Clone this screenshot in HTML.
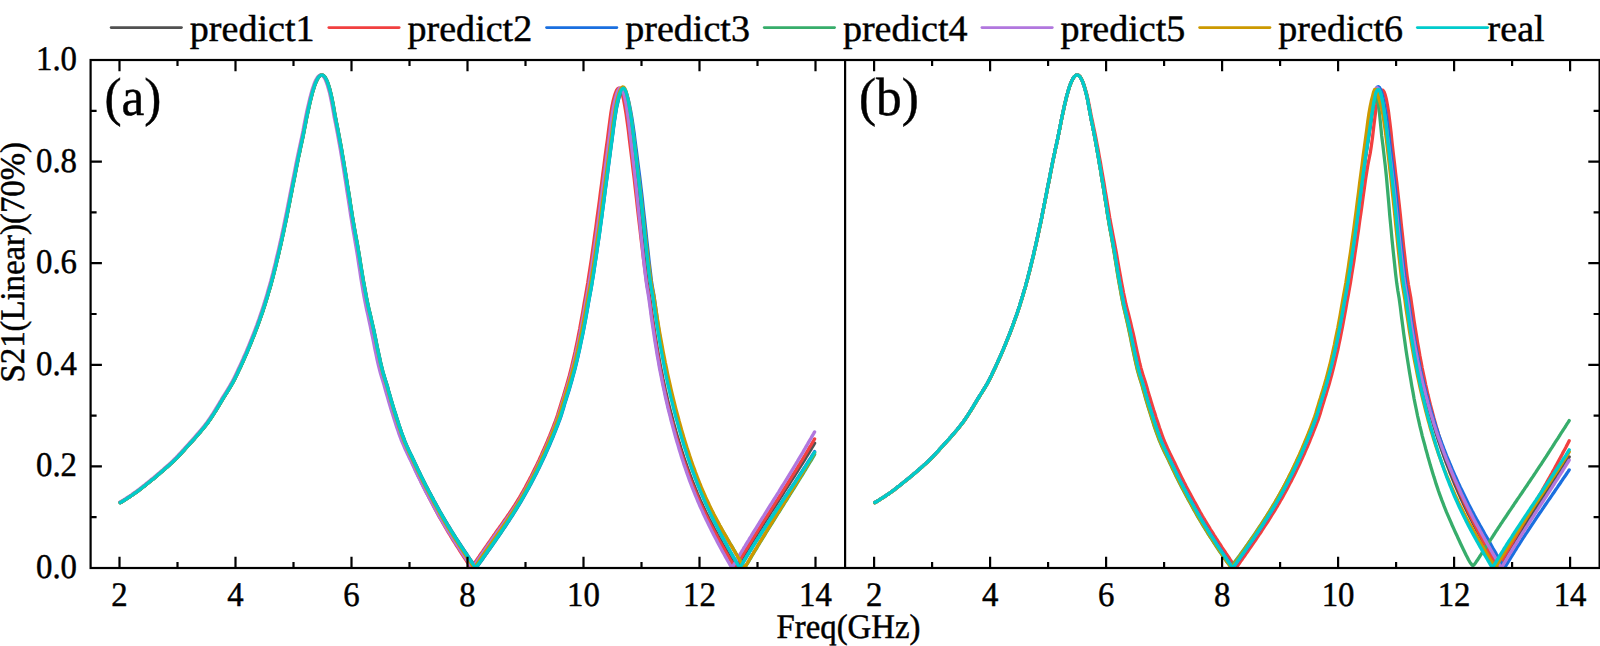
<!DOCTYPE html>
<html lang="en"><head><meta charset="utf-8"><title>S21 predictions</title>
<style>
html,body{margin:0;padding:0;background:#fff;}
body{width:1600px;height:646px;overflow:hidden;}
svg{display:block;}
text{font-family:"Liberation Serif",serif;fill:#000;stroke:#000;stroke-width:0.45px;text-rendering:geometricPrecision;}
.tk{font-size:32.8px;}
.lg{font-size:37.4px;}
.pl{font-size:51.3px;}
.ax{stroke:#000;stroke-width:2.20;fill:none;stroke-linecap:butt;}
.cv{fill:none;stroke-width:3.30;stroke-linejoin:round;stroke-linecap:round;}
</style></head><body>
<svg width="1600" height="646" viewBox="0 0 1600 646">
<rect x="0" y="0" width="1600" height="646" fill="#fff"/>
<defs><clipPath id="cp"><rect x="90.6" y="60.0" width="1509.0" height="508.0"/></clipPath></defs>
<g clip-path="url(#cp)">
<path class="cv" stroke="#515151" d="M120.2,502.6 L121.4,502.0 L122.5,501.3 L123.7,500.6 L124.8,499.8 L126.0,499.1 L127.1,498.4 L128.3,497.6 L129.5,496.8 L130.6,496.1 L131.8,495.3 L132.9,494.5 L134.1,493.7 L135.2,492.9 L136.4,492.1 L137.6,491.3 L138.7,490.4 L139.9,489.5 L141.0,488.6 L142.2,487.7 L143.3,486.8 L144.5,485.9 L145.7,484.9 L146.8,484.0 L148.0,483.1 L149.1,482.1 L150.3,481.2 L151.4,480.3 L152.6,479.4 L153.8,478.4 L154.9,477.5 L156.1,476.5 L157.2,475.5 L158.4,474.5 L159.5,473.5 L160.7,472.5 L161.9,471.5 L163.0,470.5 L164.2,469.5 L165.3,468.5 L166.5,467.5 L167.6,466.5 L168.8,465.5 L170.0,464.4 L171.1,463.4 L172.3,462.3 L173.4,461.2 L174.6,460.1 L175.8,458.9 L176.9,457.8 L178.1,456.6 L179.2,455.4 L180.4,454.1 L181.5,452.9 L182.7,451.6 L183.9,450.3 L185.0,449.0 L186.2,447.7 L187.3,446.4 L188.5,445.2 L189.6,443.9 L190.8,442.7 L192.0,441.4 L193.1,440.1 L194.3,438.8 L195.4,437.5 L196.6,436.2 L197.7,434.8 L198.9,433.5 L200.1,432.1 L201.2,430.8 L202.4,429.4 L203.5,428.0 L204.7,426.6 L205.8,425.1 L207.0,423.6 L208.2,422.0 L209.3,420.4 L210.5,418.7 L211.6,417.0 L212.8,415.2 L213.9,413.4 L215.1,411.6 L216.3,409.7 L217.4,407.8 L218.6,405.9 L219.7,404.0 L220.9,402.1 L222.0,400.1 L223.2,398.2 L224.4,396.3 L225.5,394.5 L226.7,392.6 L227.8,390.8 L229.0,388.9 L230.1,387.0 L231.3,385.0 L232.5,383.0 L233.6,380.9 L234.8,378.6 L235.9,376.3 L237.1,373.9 L238.2,371.5 L239.4,369.0 L240.6,366.5 L241.7,364.0 L242.9,361.4 L244.0,358.8 L245.2,356.2 L246.4,353.5 L247.5,350.8 L248.7,348.1 L249.8,345.3 L251.0,342.5 L252.1,339.6 L253.3,336.7 L254.5,333.8 L255.6,330.8 L256.8,327.7 L257.9,324.6 L259.1,321.4 L260.2,318.2 L261.4,314.8 L262.6,311.4 L263.7,307.9 L264.9,304.3 L266.0,300.6 L267.2,296.8 L268.3,292.9 L269.5,288.9 L270.7,284.8 L271.8,280.6 L273.0,276.2 L274.1,271.7 L275.3,267.1 L276.4,262.4 L277.6,257.5 L278.8,252.6 L279.9,247.6 L281.1,242.5 L282.2,237.3 L283.4,232.0 L284.5,226.5 L285.7,221.0 L286.9,215.2 L288.0,209.4 L289.2,203.6 L290.3,197.7 L291.5,191.8 L292.6,185.9 L293.8,180.1 L295.0,174.1 L296.1,168.2 L297.3,162.4 L298.4,156.8 L299.6,151.4 L300.7,146.0 L301.9,140.6 L303.1,135.0 L304.2,129.3 L305.4,123.3 L306.5,117.4 L307.7,111.8 L308.9,106.5 L310.0,101.4 L311.2,96.8 L312.3,92.5 L313.5,88.6 L314.6,85.1 L315.8,82.1 L317.0,79.6 L318.1,77.7 L319.3,76.3 L320.4,75.4 L321.6,75.0 L322.7,75.3 L323.9,76.1 L325.1,77.5 L326.2,79.7 L327.4,82.5 L328.5,85.9 L329.7,89.8 L330.8,94.3 L332.0,99.8 L333.2,106.0 L334.3,112.6 L335.5,118.8 L336.6,124.5 L337.8,130.4 L338.9,136.5 L340.1,142.8 L341.3,149.3 L342.4,155.9 L343.6,162.8 L344.7,169.7 L345.9,176.8 L347.0,184.0 L348.2,191.3 L349.4,198.6 L350.5,206.0 L351.7,213.5 L352.8,220.6 L354.0,227.2 L355.1,233.7 L356.3,240.1 L357.5,246.6 L358.6,253.3 L359.8,260.4 L360.9,267.6 L362.1,274.7 L363.2,281.5 L364.4,288.0 L365.6,294.3 L366.7,300.3 L367.9,305.9 L369.0,310.8 L370.2,315.5 L371.3,320.7 L372.5,325.8 L373.7,331.1 L374.8,336.5 L376.0,342.3 L377.1,348.0 L378.3,353.5 L379.5,358.8 L380.6,364.0 L381.8,368.8 L382.9,373.1 L384.1,377.0 L385.2,380.6 L386.4,384.4 L387.6,388.4 L388.7,392.6 L389.9,396.6 L391.0,400.6 L392.2,404.5 L393.3,408.3 L394.5,412.0 L395.7,415.6 L396.8,419.3 L398.0,422.9 L399.1,426.4 L400.3,429.9 L401.4,433.2 L402.6,436.4 L403.8,439.5 L404.9,442.4 L406.1,445.1 L407.2,447.7 L408.4,450.2 L409.5,452.7 L410.7,455.1 L411.9,457.4 L413.0,459.8 L414.2,462.3 L415.3,464.7 L416.5,467.2 L417.6,469.7 L418.8,472.1 L420.0,474.5 L421.1,476.9 L422.3,479.2 L423.4,481.5 L424.6,483.8 L425.7,486.1 L426.9,488.3 L428.1,490.5 L429.2,492.7 L430.4,494.9 L431.5,497.0 L432.7,499.2 L433.8,501.3 L435.0,503.5 L436.2,505.6 L437.3,507.7 L438.5,509.8 L439.6,511.9 L440.8,514.0 L442.0,516.0 L443.1,518.0 L444.3,520.0 L445.4,521.9 L446.6,523.9 L447.7,525.8 L448.9,527.7 L450.1,529.6 L451.2,531.5 L452.4,533.3 L453.5,535.2 L454.7,537.0 L455.8,538.8 L457.0,540.6 L458.2,542.4 L459.3,544.2 L460.5,546.0 L461.6,547.7 L462.8,549.5 L463.9,551.2 L465.1,553.0 L466.3,554.7 L467.4,556.4 L468.6,558.1 L469.7,559.8 L470.9,561.5 L472.0,563.2 L473.2,564.9 L474.4,566.5 L474.9,567.4 L475.5,567.8 L476.1,567.0 L476.7,566.2 L477.8,564.5 L479.0,562.9 L480.1,561.3 L481.3,559.6 L482.5,558.0 L483.6,556.4 L484.8,554.8 L485.9,553.1 L487.1,551.5 L488.2,549.9 L489.4,548.2 L490.6,546.6 L491.7,544.9 L492.9,543.3 L494.0,541.6 L495.2,539.9 L496.3,538.3 L497.5,536.6 L498.7,534.9 L499.8,533.2 L501.0,531.5 L502.1,529.8 L503.3,528.1 L504.4,526.3 L505.6,524.6 L506.8,522.8 L507.9,521.0 L509.1,519.2 L510.2,517.4 L511.4,515.6 L512.6,513.8 L513.7,512.0 L514.9,510.1 L516.0,508.2 L517.2,506.4 L518.3,504.4 L519.5,502.5 L520.7,500.5 L521.8,498.6 L523.0,496.5 L524.1,494.5 L525.3,492.5 L526.4,490.4 L527.6,488.3 L528.8,486.1 L529.9,484.0 L531.1,481.8 L532.2,479.6 L533.4,477.3 L534.5,475.0 L535.7,472.7 L536.9,470.4 L538.0,468.1 L539.2,465.7 L540.3,463.3 L541.5,460.8 L542.6,458.3 L543.8,455.8 L545.0,453.2 L546.1,450.7 L547.3,448.0 L548.4,445.4 L549.6,442.7 L550.7,439.9 L551.9,437.1 L553.1,434.3 L554.2,431.4 L555.4,428.5 L556.5,425.6 L557.7,422.6 L558.8,419.5 L560.0,416.1 L561.2,412.5 L562.3,408.6 L563.5,404.8 L564.6,401.0 L565.8,397.4 L566.9,393.8 L568.1,390.0 L569.3,386.1 L570.4,382.1 L571.6,378.0 L572.7,373.7 L573.9,369.3 L575.1,364.8 L576.2,360.0 L577.4,355.1 L578.5,349.9 L579.7,344.5 L580.8,339.0 L582.0,333.2 L583.2,327.3 L584.3,321.2 L585.5,314.8 L586.6,308.2 L587.8,301.6 L588.9,295.2 L590.1,288.8 L591.3,282.1 L592.4,274.8 L593.6,267.2 L594.7,259.5 L595.9,251.7 L597.0,243.6 L598.2,235.4 L599.4,227.0 L600.5,218.5 L601.7,209.7 L602.8,200.9 L604.0,191.9 L605.1,182.9 L606.3,173.9 L607.5,164.9 L608.6,156.0 L609.8,147.2 L610.9,138.4 L612.1,129.1 L613.2,120.1 L614.4,112.0 L615.6,105.5 L616.7,100.4 L617.9,96.1 L619.0,92.8 L620.2,90.7 L621.3,89.7 L622.5,90.1 L623.7,91.9 L624.8,95.2 L626.0,100.0 L627.1,106.1 L628.3,113.4 L629.4,121.8 L630.6,131.0 L631.8,141.1 L632.9,151.3 L634.1,161.4 L635.2,171.5 L636.4,181.8 L637.5,192.4 L638.7,203.6 L639.9,215.2 L641.0,226.6 L642.2,237.9 L643.3,249.0 L644.5,259.7 L645.7,270.1 L646.8,279.9 L648.0,287.5 L649.1,294.1 L650.3,301.6 L651.4,310.2 L652.6,318.4 L653.8,326.4 L654.9,333.9 L656.1,341.2 L657.2,348.2 L658.4,354.9 L659.5,361.3 L660.7,367.5 L661.9,373.4 L663.0,379.1 L664.2,384.6 L665.3,389.9 L666.5,395.0 L667.6,399.9 L668.8,404.7 L670.0,409.3 L671.1,413.8 L672.3,418.2 L673.4,422.5 L674.6,426.7 L675.7,430.8 L676.9,434.9 L678.1,438.8 L679.2,442.6 L680.4,446.4 L681.5,450.1 L682.7,453.7 L683.8,457.2 L685.0,460.7 L686.2,464.1 L687.3,467.4 L688.5,470.6 L689.6,473.8 L690.8,476.9 L691.9,479.9 L693.1,482.9 L694.3,485.8 L695.4,488.7 L696.6,491.5 L697.7,494.3 L698.9,497.0 L700.0,499.6 L701.2,502.3 L702.4,504.8 L703.5,507.3 L704.7,509.8 L705.8,512.2 L707.0,514.6 L708.2,517.0 L709.3,519.3 L710.5,521.6 L711.6,523.8 L712.8,526.1 L713.9,528.3 L715.1,530.5 L716.3,532.6 L717.4,534.8 L718.6,536.9 L719.7,539.0 L720.9,541.1 L722.0,543.2 L723.2,545.3 L724.4,547.3 L725.5,549.4 L726.7,551.4 L727.8,553.4 L729.0,555.5 L730.1,557.5 L731.3,559.5 L732.5,561.4 L733.6,563.4 L734.8,565.4 L735.9,567.4 L736.5,567.7 L737.1,566.7 L738.2,564.7 L739.4,562.8 L740.6,560.9 L741.7,558.9 L742.9,557.0 L744.0,555.1 L745.2,553.2 L746.3,551.3 L747.5,549.4 L748.7,547.5 L749.8,545.6 L751.0,543.8 L752.1,541.9 L753.3,540.0 L754.4,538.2 L755.6,536.3 L756.8,534.5 L757.9,532.7 L759.1,530.8 L760.2,529.0 L761.4,527.2 L762.5,525.4 L763.7,523.5 L764.9,521.7 L766.0,519.9 L767.2,518.1 L768.3,516.3 L769.5,514.5 L770.6,512.7 L771.8,510.9 L773.0,509.1 L774.1,507.4 L775.3,505.6 L776.4,503.8 L777.6,502.0 L778.8,500.2 L779.9,498.4 L781.1,496.6 L782.2,494.8 L783.4,493.0 L784.5,491.2 L785.7,489.4 L786.9,487.6 L788.0,485.9 L789.2,484.0 L790.3,482.2 L791.5,480.4 L792.6,478.6 L793.8,476.8 L795.0,475.0 L796.1,473.2 L797.3,471.3 L798.4,469.5 L799.6,467.7 L800.7,465.8 L801.9,464.0 L803.1,462.1 L804.2,460.3 L805.4,458.4 L806.5,456.5 L807.7,454.6 L808.8,452.8 L810.0,450.9 L811.2,449.0 L812.3,447.0 L813.5,445.1 L814.6,443.2"/>
<path class="cv" stroke="#F14040" d="M120.2,502.6 L121.4,502.0 L122.5,501.3 L123.7,500.6 L124.8,499.8 L126.0,499.1 L127.1,498.4 L128.3,497.6 L129.5,496.8 L130.6,496.1 L131.8,495.3 L132.9,494.5 L134.1,493.7 L135.2,492.9 L136.4,492.1 L137.6,491.3 L138.7,490.4 L139.9,489.5 L141.0,488.6 L142.2,487.7 L143.3,486.8 L144.5,485.9 L145.7,484.9 L146.8,484.0 L148.0,483.1 L149.1,482.1 L150.3,481.2 L151.4,480.3 L152.6,479.4 L153.8,478.4 L154.9,477.5 L156.1,476.5 L157.2,475.5 L158.4,474.5 L159.5,473.5 L160.7,472.5 L161.9,471.5 L163.0,470.5 L164.2,469.5 L165.3,468.5 L166.5,467.5 L167.6,466.5 L168.8,465.5 L170.0,464.4 L171.1,463.4 L172.3,462.3 L173.4,461.2 L174.6,460.1 L175.8,458.9 L176.9,457.8 L178.1,456.6 L179.2,455.4 L180.4,454.1 L181.5,452.9 L182.7,451.6 L183.9,450.3 L185.0,449.0 L186.2,447.7 L187.3,446.4 L188.5,445.2 L189.6,443.9 L190.8,442.6 L192.0,441.4 L193.1,440.1 L194.3,438.8 L195.4,437.5 L196.6,436.2 L197.7,434.8 L198.9,433.5 L200.1,432.1 L201.2,430.8 L202.4,429.4 L203.5,428.0 L204.7,426.5 L205.8,425.1 L207.0,423.6 L208.2,422.0 L209.3,420.4 L210.5,418.7 L211.6,417.0 L212.8,415.2 L213.9,413.4 L215.1,411.6 L216.3,409.7 L217.4,407.8 L218.6,405.9 L219.7,404.0 L220.9,402.0 L222.0,400.1 L223.2,398.2 L224.4,396.3 L225.5,394.4 L226.7,392.6 L227.8,390.7 L229.0,388.9 L230.1,386.9 L231.3,385.0 L232.5,382.9 L233.6,380.8 L234.8,378.6 L235.9,376.2 L237.1,373.8 L238.2,371.4 L239.4,368.9 L240.6,366.4 L241.7,363.9 L242.9,361.3 L244.0,358.7 L245.2,356.1 L246.4,353.4 L247.5,350.7 L248.7,348.0 L249.8,345.2 L251.0,342.4 L252.1,339.5 L253.3,336.6 L254.5,333.7 L255.6,330.7 L256.8,327.6 L257.9,324.5 L259.1,321.3 L260.2,318.0 L261.4,314.7 L262.6,311.3 L263.7,307.7 L264.9,304.1 L266.0,300.4 L267.2,296.6 L268.3,292.7 L269.5,288.7 L270.7,284.6 L271.8,280.4 L273.0,276.0 L274.1,271.5 L275.3,266.8 L276.4,262.1 L277.6,257.2 L278.8,252.3 L279.9,247.3 L281.1,242.2 L282.2,237.0 L283.4,231.6 L284.5,226.2 L285.7,220.6 L286.9,214.8 L288.0,209.0 L289.2,203.1 L290.3,197.3 L291.5,191.4 L292.6,185.5 L293.8,179.6 L295.0,173.7 L296.1,167.7 L297.3,161.9 L298.4,156.4 L299.6,150.9 L300.7,145.5 L301.9,140.1 L303.1,134.5 L304.2,128.7 L305.4,122.7 L306.5,116.9 L307.7,111.3 L308.9,106.0 L310.0,101.0 L311.2,96.3 L312.3,92.0 L313.5,88.2 L314.6,84.8 L315.8,81.8 L317.0,79.4 L318.1,77.5 L319.3,76.1 L320.4,75.3 L321.6,75.0 L322.7,75.3 L323.9,76.2 L325.1,77.8 L326.2,80.0 L327.4,82.9 L328.5,86.3 L329.7,90.4 L330.8,95.0 L332.0,100.6 L333.2,106.9 L334.3,113.5 L335.5,119.6 L336.6,125.3 L337.8,131.2 L338.9,137.4 L340.1,143.7 L341.3,150.3 L342.4,157.0 L343.6,163.9 L344.7,171.0 L345.9,178.2 L347.0,185.5 L348.2,192.9 L349.4,200.4 L350.5,208.0 L351.7,215.6 L352.8,222.7 L354.0,229.4 L355.1,236.0 L356.3,242.6 L357.5,249.3 L358.6,256.5 L359.8,263.9 L360.9,271.2 L362.1,278.4 L363.2,285.2 L364.4,291.8 L365.6,298.1 L366.7,304.1 L367.9,309.3 L369.0,314.2 L370.2,319.4 L371.3,324.7 L372.5,330.1 L373.7,335.6 L374.8,341.6 L376.0,347.4 L377.1,353.1 L378.3,358.6 L379.5,363.9 L380.6,368.9 L381.8,373.3 L382.9,377.2 L384.1,381.0 L385.2,384.9 L386.4,389.1 L387.6,393.4 L388.7,397.6 L389.9,401.7 L391.0,405.6 L392.2,409.5 L393.3,413.3 L394.5,417.1 L395.7,420.8 L396.8,424.5 L398.0,428.2 L399.1,431.7 L400.3,435.1 L401.4,438.3 L402.6,441.3 L403.8,444.2 L404.9,446.9 L406.1,449.6 L407.2,452.1 L408.4,454.6 L409.5,457.0 L410.7,459.5 L411.9,462.0 L413.0,464.6 L414.2,467.1 L415.3,469.7 L416.5,472.2 L417.6,474.7 L418.8,477.1 L420.0,479.5 L421.1,481.9 L422.3,484.3 L423.4,486.6 L424.6,488.9 L425.7,491.2 L426.9,493.5 L428.1,495.7 L429.2,497.9 L430.4,500.1 L431.5,502.3 L432.7,504.6 L433.8,506.8 L435.0,509.0 L436.2,511.1 L437.3,513.3 L438.5,515.4 L439.6,517.5 L440.8,519.5 L442.0,521.5 L443.1,523.5 L444.3,525.5 L445.4,527.5 L446.6,529.5 L447.7,531.4 L448.9,533.3 L450.1,535.2 L451.2,537.1 L452.4,539.0 L453.5,540.8 L454.7,542.7 L455.8,544.5 L457.0,546.3 L458.2,548.1 L459.3,550.0 L460.5,551.8 L461.6,553.5 L462.8,555.3 L463.9,557.1 L465.1,558.9 L466.3,560.6 L467.4,562.4 L468.6,564.1 L469.7,565.8 L470.9,567.5 L471.5,567.6 L472.0,566.8 L473.2,565.1 L474.4,563.4 L475.5,561.7 L476.7,560.0 L477.8,558.3 L479.0,556.7 L480.1,555.0 L481.3,553.3 L482.5,551.7 L483.6,550.0 L484.8,548.3 L485.9,546.7 L487.1,545.0 L488.2,543.3 L489.4,541.7 L490.6,540.0 L491.7,538.3 L492.9,536.7 L494.0,535.0 L495.2,533.4 L496.3,531.7 L497.5,530.1 L498.7,528.5 L499.8,526.8 L501.0,525.2 L502.1,523.6 L503.3,521.9 L504.4,520.3 L505.6,518.6 L506.8,516.9 L507.9,515.3 L509.1,513.6 L510.2,511.9 L511.4,510.2 L512.6,508.4 L513.7,506.7 L514.9,504.9 L516.0,503.1 L517.2,501.2 L518.3,499.3 L519.5,497.4 L520.7,495.4 L521.8,493.4 L523.0,491.4 L524.1,489.3 L525.3,487.2 L526.4,485.0 L527.6,482.8 L528.8,480.6 L529.9,478.4 L531.1,476.2 L532.2,473.9 L533.4,471.6 L534.5,469.3 L535.7,466.9 L536.9,464.5 L538.0,462.1 L539.2,459.6 L540.3,457.1 L541.5,454.6 L542.6,452.0 L543.8,449.4 L545.0,446.8 L546.1,444.1 L547.3,441.4 L548.4,438.6 L549.6,435.8 L550.7,433.0 L551.9,430.1 L553.1,427.1 L554.2,424.2 L555.4,421.1 L556.5,418.0 L557.7,414.5 L558.8,410.7 L560.0,406.9 L561.2,403.0 L562.3,399.4 L563.5,395.7 L564.6,392.0 L565.8,388.1 L566.9,384.1 L568.1,380.0 L569.3,375.7 L570.4,371.3 L571.6,366.7 L572.7,361.9 L573.9,356.9 L575.1,351.7 L576.2,346.3 L577.4,340.6 L578.5,334.8 L579.7,328.8 L580.8,322.5 L582.0,316.1 L583.2,309.3 L584.3,302.5 L585.5,296.0 L586.6,289.5 L587.8,282.6 L588.9,275.2 L590.1,267.5 L591.3,259.7 L592.4,251.7 L593.6,243.6 L594.7,235.3 L595.9,226.9 L597.0,218.3 L598.2,209.6 L599.4,200.7 L600.5,191.8 L601.7,182.9 L602.8,174.0 L604.0,165.1 L605.1,156.3 L606.3,147.6 L607.5,139.0 L608.6,129.9 L609.8,120.9 L610.9,112.7 L612.1,105.9 L613.2,100.6 L614.4,96.1 L615.6,92.6 L616.7,90.0 L617.9,88.5 L619.0,88.1 L620.2,89.1 L621.3,91.4 L622.5,95.2 L623.7,100.1 L624.8,106.2 L626.0,113.4 L627.1,121.4 L628.3,130.1 L629.4,139.5 L630.6,149.2 L631.8,158.7 L632.9,168.2 L634.1,177.8 L635.2,187.7 L636.4,198.0 L637.5,208.4 L638.7,218.7 L639.9,228.7 L641.0,238.6 L642.2,248.2 L643.3,257.6 L644.5,266.8 L645.7,275.9 L646.8,284.0 L648.0,290.5 L649.1,297.1 L650.3,305.3 L651.4,313.7 L652.6,321.9 L653.8,329.7 L654.9,337.4 L656.1,344.7 L657.2,351.8 L658.4,358.6 L659.5,365.1 L660.7,371.4 L661.9,377.4 L663.0,383.2 L664.2,388.8 L665.3,394.1 L666.5,399.3 L667.6,404.2 L668.8,409.0 L670.0,413.6 L671.1,418.0 L672.3,422.3 L673.4,426.6 L674.6,430.7 L675.7,434.8 L676.9,438.7 L678.1,442.6 L679.2,446.4 L680.4,450.1 L681.5,453.7 L682.7,457.3 L683.8,460.7 L685.0,464.1 L686.2,467.4 L687.3,470.7 L688.5,473.9 L689.6,477.0 L690.8,480.0 L691.9,483.0 L693.1,486.0 L694.3,488.8 L695.4,491.6 L696.6,494.4 L697.7,497.1 L698.9,499.8 L700.0,502.4 L701.2,505.0 L702.4,507.5 L703.5,509.9 L704.7,512.4 L705.8,514.8 L707.0,517.1 L708.2,519.4 L709.3,521.7 L710.5,524.0 L711.6,526.2 L712.8,528.4 L713.9,530.6 L715.1,532.7 L716.3,534.9 L717.4,537.0 L718.6,539.1 L719.7,541.2 L720.9,543.3 L722.0,545.3 L723.2,547.4 L724.4,549.4 L725.5,551.5 L726.7,553.5 L727.8,555.5 L729.0,557.5 L730.1,559.5 L731.3,561.5 L732.5,563.4 L733.6,565.4 L734.8,567.4 L735.3,567.7 L735.9,566.7 L737.1,564.7 L738.2,562.8 L739.4,560.8 L740.6,558.9 L741.7,556.9 L742.9,555.0 L744.0,553.1 L745.2,551.2 L746.3,549.3 L747.5,547.4 L748.7,545.5 L749.8,543.6 L751.0,541.7 L752.1,539.8 L753.3,537.9 L754.4,536.1 L755.6,534.2 L756.8,532.3 L757.9,530.5 L759.1,528.6 L760.2,526.8 L761.4,524.9 L762.5,523.1 L763.7,521.2 L764.9,519.4 L766.0,517.6 L767.2,515.7 L768.3,513.9 L769.5,512.1 L770.6,510.3 L771.8,508.4 L773.0,506.6 L774.1,504.8 L775.3,502.9 L776.4,501.1 L777.6,499.3 L778.8,497.5 L779.9,495.6 L781.1,493.8 L782.2,492.0 L783.4,490.1 L784.5,488.3 L785.7,486.5 L786.9,484.6 L788.0,482.8 L789.2,480.9 L790.3,479.1 L791.5,477.2 L792.6,475.4 L793.8,473.5 L795.0,471.6 L796.1,469.8 L797.3,467.9 L798.4,466.0 L799.6,464.1 L800.7,462.2 L801.9,460.3 L803.1,458.4 L804.2,456.5 L805.4,454.5 L806.5,452.6 L807.7,450.7 L808.8,448.7 L810.0,446.7 L811.2,444.8 L812.3,442.8 L813.5,440.8 L814.6,438.9"/>
<path class="cv" stroke="#1A6FDF" d="M120.2,502.6 L121.4,502.0 L122.5,501.3 L123.7,500.6 L124.8,499.8 L126.0,499.1 L127.1,498.4 L128.3,497.6 L129.5,496.8 L130.6,496.1 L131.8,495.3 L132.9,494.5 L134.1,493.7 L135.2,492.9 L136.4,492.1 L137.6,491.3 L138.7,490.4 L139.9,489.5 L141.0,488.6 L142.2,487.7 L143.3,486.8 L144.5,485.9 L145.7,484.9 L146.8,484.0 L148.0,483.1 L149.1,482.1 L150.3,481.2 L151.4,480.3 L152.6,479.4 L153.8,478.4 L154.9,477.5 L156.1,476.5 L157.2,475.5 L158.4,474.5 L159.5,473.5 L160.7,472.5 L161.9,471.5 L163.0,470.5 L164.2,469.5 L165.3,468.5 L166.5,467.5 L167.6,466.5 L168.8,465.5 L170.0,464.4 L171.1,463.4 L172.3,462.3 L173.4,461.2 L174.6,460.1 L175.8,459.0 L176.9,457.8 L178.1,456.6 L179.2,455.4 L180.4,454.2 L181.5,452.9 L182.7,451.6 L183.9,450.4 L185.0,449.1 L186.2,447.8 L187.3,446.5 L188.5,445.2 L189.6,443.9 L190.8,442.7 L192.0,441.4 L193.1,440.2 L194.3,438.9 L195.4,437.6 L196.6,436.2 L197.7,434.9 L198.9,433.5 L200.1,432.2 L201.2,430.8 L202.4,429.4 L203.5,428.0 L204.7,426.6 L205.8,425.1 L207.0,423.6 L208.2,422.1 L209.3,420.5 L210.5,418.8 L211.6,417.1 L212.8,415.3 L213.9,413.5 L215.1,411.7 L216.3,409.8 L217.4,407.9 L218.6,406.0 L219.7,404.1 L220.9,402.2 L222.0,400.2 L223.2,398.3 L224.4,396.4 L225.5,394.6 L226.7,392.7 L227.8,390.9 L229.0,389.0 L230.1,387.1 L231.3,385.1 L232.5,383.1 L233.6,381.0 L234.8,378.8 L235.9,376.4 L237.1,374.1 L238.2,371.6 L239.4,369.2 L240.6,366.7 L241.7,364.1 L242.9,361.6 L244.0,359.0 L245.2,356.4 L246.4,353.7 L247.5,351.0 L248.7,348.3 L249.8,345.5 L251.0,342.7 L252.1,339.8 L253.3,336.9 L254.5,334.0 L255.6,331.0 L256.8,328.0 L257.9,324.9 L259.1,321.7 L260.2,318.4 L261.4,315.1 L262.6,311.7 L263.7,308.2 L264.9,304.7 L266.0,301.0 L267.2,297.2 L268.3,293.3 L269.5,289.4 L270.7,285.3 L271.8,281.0 L273.0,276.7 L274.1,272.2 L275.3,267.6 L276.4,262.9 L277.6,258.1 L278.8,253.2 L279.9,248.2 L281.1,243.1 L282.2,237.9 L283.4,232.6 L284.5,227.2 L285.7,221.7 L286.9,216.0 L288.0,210.1 L289.2,204.3 L290.3,198.4 L291.5,192.6 L292.6,186.7 L293.8,180.8 L295.0,175.0 L296.1,169.0 L297.3,163.2 L298.4,157.6 L299.6,152.2 L300.7,146.8 L301.9,141.4 L303.1,135.9 L304.2,130.2 L305.4,124.2 L306.5,118.3 L307.7,112.7 L308.9,107.3 L310.0,102.2 L311.2,97.5 L312.3,93.1 L313.5,89.2 L314.6,85.7 L315.8,82.6 L317.0,80.0 L318.1,78.0 L319.3,76.5 L320.4,75.5 L321.6,75.1 L322.7,75.2 L323.9,75.9 L325.1,77.2 L326.2,79.2 L327.4,81.9 L328.5,85.1 L329.7,89.0 L330.8,93.4 L332.0,98.6 L333.2,104.7 L334.3,111.2 L335.5,117.6 L336.6,123.3 L337.8,129.1 L338.9,135.1 L340.1,141.4 L341.3,147.8 L342.4,154.5 L343.6,161.2 L344.7,168.2 L345.9,175.2 L347.0,182.3 L348.2,189.6 L349.4,196.9 L350.5,204.3 L351.7,211.7 L352.8,218.9 L354.0,225.6 L355.1,232.1 L356.3,238.5 L357.5,244.9 L358.6,251.6 L359.8,258.6 L360.9,265.8 L362.1,272.9 L363.2,279.7 L364.4,286.3 L365.6,292.6 L366.7,298.7 L367.9,304.4 L369.0,309.5 L370.2,314.2 L371.3,319.2 L372.5,324.4 L373.7,329.5 L374.8,334.9 L376.0,340.6 L377.1,346.3 L378.3,351.9 L379.5,357.3 L380.6,362.4 L381.8,367.4 L382.9,371.9 L384.1,375.8 L385.2,379.5 L386.4,383.2 L387.6,387.1 L388.7,391.2 L389.9,395.3 L391.0,399.3 L392.2,403.2 L393.3,407.1 L394.5,410.8 L395.7,414.4 L396.8,418.0 L398.0,421.7 L399.1,425.2 L400.3,428.7 L401.4,432.1 L402.6,435.3 L403.8,438.4 L404.9,441.4 L406.1,444.1 L407.2,446.8 L408.4,449.3 L409.5,451.8 L410.7,454.2 L411.9,456.5 L413.0,458.9 L414.2,461.3 L415.3,463.8 L416.5,466.2 L417.6,468.7 L418.8,471.1 L420.0,473.5 L421.1,475.9 L422.3,478.2 L423.4,480.5 L424.6,482.8 L425.7,485.1 L426.9,487.3 L428.1,489.5 L429.2,491.7 L430.4,493.8 L431.5,496.0 L432.7,498.1 L433.8,500.2 L435.0,502.3 L436.2,504.5 L437.3,506.6 L438.5,508.7 L439.6,510.8 L440.8,512.8 L442.0,514.8 L443.1,516.8 L444.3,518.8 L445.4,520.8 L446.6,522.7 L447.7,524.6 L448.9,526.5 L450.1,528.4 L451.2,530.3 L452.4,532.1 L453.5,534.0 L454.7,535.8 L455.8,537.6 L457.0,539.4 L458.2,541.2 L459.3,543.0 L460.5,544.7 L461.6,546.5 L462.8,548.2 L463.9,550.0 L465.1,551.7 L466.3,553.4 L467.4,555.2 L468.6,556.9 L469.7,558.6 L470.9,560.3 L472.0,562.0 L473.2,563.6 L474.4,565.3 L475.5,567.0 L476.1,567.8 L476.7,567.4 L477.8,565.8 L479.0,564.1 L480.1,562.5 L481.3,560.9 L482.5,559.3 L483.6,557.6 L484.8,556.0 L485.9,554.4 L487.1,552.7 L488.2,551.1 L489.4,549.5 L490.6,547.8 L491.7,546.2 L492.9,544.6 L494.0,542.9 L495.2,541.2 L496.3,539.6 L497.5,537.9 L498.7,536.2 L499.8,534.5 L501.0,532.8 L502.1,531.1 L503.3,529.4 L504.4,527.7 L505.6,526.0 L506.8,524.2 L507.9,522.4 L509.1,520.7 L510.2,518.9 L511.4,517.1 L512.6,515.3 L513.7,513.4 L514.9,511.6 L516.0,509.8 L517.2,507.9 L518.3,506.0 L519.5,504.1 L520.7,502.2 L521.8,500.2 L523.0,498.2 L524.1,496.2 L525.3,494.2 L526.4,492.1 L527.6,490.0 L528.8,487.9 L529.9,485.8 L531.1,483.6 L532.2,481.4 L533.4,479.2 L534.5,477.0 L535.7,474.7 L536.9,472.4 L538.0,470.1 L539.2,467.7 L540.3,465.3 L541.5,462.9 L542.6,460.5 L543.8,458.0 L545.0,455.5 L546.1,452.9 L547.3,450.3 L548.4,447.7 L549.6,445.1 L550.7,442.4 L551.9,439.6 L553.1,436.8 L554.2,434.0 L555.4,431.1 L556.5,428.2 L557.7,425.3 L558.8,422.3 L560.0,419.2 L561.2,415.8 L562.3,412.1 L563.5,408.2 L564.6,404.3 L565.8,400.6 L566.9,397.0 L568.1,393.3 L569.3,389.5 L570.4,385.6 L571.6,381.5 L572.7,377.4 L573.9,373.1 L575.1,368.6 L576.2,364.0 L577.4,359.2 L578.5,354.2 L579.7,349.0 L580.8,343.5 L582.0,337.9 L583.2,332.1 L584.3,326.2 L585.5,320.0 L586.6,313.6 L587.8,306.9 L588.9,300.4 L590.1,294.1 L591.3,287.7 L592.4,280.8 L593.6,273.5 L594.7,266.0 L595.9,258.3 L597.0,250.5 L598.2,242.5 L599.4,234.4 L600.5,226.1 L601.7,217.7 L602.8,209.1 L604.0,200.4 L605.1,191.6 L606.3,182.8 L607.5,174.0 L608.6,165.3 L609.8,156.6 L610.9,148.1 L612.1,139.6 L613.2,130.7 L614.4,121.9 L615.6,114.0 L616.7,107.3 L617.9,102.1 L619.0,97.7 L620.2,94.2 L621.3,91.7 L622.5,90.1 L623.7,89.7 L624.8,90.4 L626.0,92.4 L627.1,95.5 L628.3,99.6 L629.4,104.6 L630.6,110.5 L631.8,117.2 L632.9,124.6 L634.1,132.8 L635.2,141.6 L636.4,150.8 L637.5,159.8 L638.7,168.9 L639.9,178.1 L641.0,187.6 L642.2,197.6 L643.3,208.1 L644.5,218.8 L645.7,229.5 L646.8,240.2 L648.0,250.8 L649.1,261.1 L650.3,271.2 L651.4,280.7 L652.6,288.0 L653.8,294.5 L654.9,302.1 L656.1,310.7 L657.2,319.0 L658.4,327.0 L659.5,334.6 L660.7,342.0 L661.9,349.0 L663.0,355.8 L664.2,362.3 L665.3,368.5 L666.5,374.5 L667.6,380.2 L668.8,385.6 L670.0,390.9 L671.1,396.0 L672.3,400.9 L673.4,405.6 L674.6,410.2 L675.7,414.7 L676.9,419.1 L678.1,423.4 L679.2,427.7 L680.4,431.8 L681.5,435.8 L682.7,439.8 L683.8,443.6 L685.0,447.4 L686.2,451.1 L687.3,454.7 L688.5,458.2 L689.6,461.7 L690.8,465.1 L691.9,468.4 L693.1,471.6 L694.3,474.8 L695.4,477.9 L696.6,480.9 L697.7,483.9 L698.9,486.9 L700.0,489.7 L701.2,492.6 L702.4,495.3 L703.5,498.0 L704.7,500.7 L705.8,503.3 L707.0,505.9 L708.2,508.4 L709.3,510.9 L710.5,513.4 L711.6,515.8 L712.8,518.2 L713.9,520.5 L715.1,522.9 L716.3,525.2 L717.4,527.4 L718.6,529.7 L719.7,531.9 L720.9,534.1 L722.0,536.3 L723.2,538.5 L724.4,540.7 L725.5,542.8 L726.7,544.9 L727.8,547.0 L729.0,549.1 L730.1,551.2 L731.3,553.3 L732.5,555.3 L733.6,557.4 L734.8,559.4 L735.9,561.4 L737.1,563.4 L738.2,565.4 L739.4,567.3 L740.0,567.7 L740.6,566.7 L741.7,564.8 L742.9,562.8 L744.0,560.9 L745.2,559.0 L746.3,557.1 L747.5,555.2 L748.7,553.3 L749.8,551.4 L751.0,549.5 L752.1,547.7 L753.3,545.8 L754.4,544.0 L755.6,542.1 L756.8,540.3 L757.9,538.5 L759.1,536.7 L760.2,534.8 L761.4,533.0 L762.5,531.2 L763.7,529.4 L764.9,527.7 L766.0,525.9 L767.2,524.1 L768.3,522.3 L769.5,520.6 L770.6,518.8 L771.8,517.0 L773.0,515.3 L774.1,513.5 L775.3,511.8 L776.4,510.0 L777.6,508.3 L778.8,506.5 L779.9,504.8 L781.1,503.0 L782.2,501.3 L783.4,499.5 L784.5,497.8 L785.7,496.0 L786.9,494.3 L788.0,492.5 L789.2,490.8 L790.3,489.1 L791.5,487.3 L792.6,485.6 L793.8,483.8 L795.0,482.1 L796.1,480.3 L797.3,478.5 L798.4,476.8 L799.6,475.0 L800.7,473.2 L801.9,471.5 L803.1,469.7 L804.2,467.9 L805.4,466.1 L806.5,464.3 L807.7,462.5 L808.8,460.7 L810.0,458.9 L811.2,457.1 L812.3,455.2 L813.5,453.4 L814.6,451.6"/>
<path class="cv" stroke="#37AD6B" d="M120.2,502.8 L121.4,502.1 L122.5,501.4 L123.7,500.7 L124.8,500.0 L126.0,499.3 L127.1,498.5 L128.3,497.8 L129.5,497.0 L130.6,496.2 L131.8,495.4 L132.9,494.7 L134.1,493.9 L135.2,493.1 L136.4,492.3 L137.6,491.4 L138.7,490.6 L139.9,489.7 L141.0,488.8 L142.2,487.9 L143.3,487.0 L144.5,486.1 L145.7,485.1 L146.8,484.2 L148.0,483.3 L149.1,482.3 L150.3,481.4 L151.4,480.5 L152.6,479.5 L153.8,478.6 L154.9,477.7 L156.1,476.7 L157.2,475.7 L158.4,474.7 L159.5,473.7 L160.7,472.7 L161.9,471.7 L163.0,470.7 L164.2,469.7 L165.3,468.7 L166.5,467.7 L167.6,466.7 L168.8,465.7 L170.0,464.6 L171.1,463.6 L172.3,462.5 L173.4,461.5 L174.6,460.3 L175.8,459.2 L176.9,458.0 L178.1,456.8 L179.2,455.6 L180.4,454.4 L181.5,453.2 L182.7,451.9 L183.9,450.6 L185.0,449.3 L186.2,448.0 L187.3,446.7 L188.5,445.4 L189.6,444.2 L190.8,442.9 L192.0,441.7 L193.1,440.4 L194.3,439.1 L195.4,437.8 L196.6,436.5 L197.7,435.1 L198.9,433.8 L200.1,432.4 L201.2,431.1 L202.4,429.7 L203.5,428.3 L204.7,426.9 L205.8,425.4 L207.0,423.9 L208.2,422.4 L209.3,420.8 L210.5,419.1 L211.6,417.4 L212.8,415.6 L213.9,413.8 L215.1,412.0 L216.3,410.1 L217.4,408.3 L218.6,406.4 L219.7,404.4 L220.9,402.5 L222.0,400.5 L223.2,398.6 L224.4,396.7 L225.5,394.9 L226.7,393.0 L227.8,391.2 L229.0,389.3 L230.1,387.4 L231.3,385.5 L232.5,383.5 L233.6,381.4 L234.8,379.2 L235.9,376.8 L237.1,374.5 L238.2,372.0 L239.4,369.6 L240.6,367.1 L241.7,364.6 L242.9,362.0 L244.0,359.4 L245.2,356.8 L246.4,354.1 L247.5,351.4 L248.7,348.7 L249.8,345.9 L251.0,343.1 L252.1,340.3 L253.3,337.4 L254.5,334.5 L255.6,331.5 L256.8,328.5 L257.9,325.4 L259.1,322.2 L260.2,319.0 L261.4,315.6 L262.6,312.3 L263.7,308.8 L264.9,305.2 L266.0,301.5 L267.2,297.8 L268.3,293.9 L269.5,289.9 L270.7,285.9 L271.8,281.7 L273.0,277.3 L274.1,272.9 L275.3,268.3 L276.4,263.6 L277.6,258.7 L278.8,253.9 L279.9,248.9 L281.1,243.8 L282.2,238.6 L283.4,233.4 L284.5,228.0 L285.7,222.4 L286.9,216.7 L288.0,210.9 L289.2,205.1 L290.3,199.2 L291.5,193.4 L292.6,187.5 L293.8,181.6 L295.0,175.7 L296.1,169.8 L297.3,163.9 L298.4,158.3 L299.6,152.8 L300.7,147.5 L301.9,142.1 L303.1,136.6 L304.2,130.9 L305.4,124.9 L306.5,119.0 L307.7,113.3 L308.9,107.9 L310.0,102.8 L311.2,98.0 L312.3,93.6 L313.5,89.6 L314.6,86.0 L315.8,82.9 L317.0,80.3 L318.1,78.2 L319.3,76.6 L320.4,75.6 L321.6,75.1 L322.7,75.1 L323.9,75.8 L325.1,77.1 L326.2,79.0 L327.4,81.6 L328.5,84.8 L329.7,88.6 L330.8,92.9 L332.0,98.1 L333.2,104.1 L334.3,110.6 L335.5,117.0 L336.6,122.8 L337.8,128.6 L338.9,134.6 L340.1,140.8 L341.3,147.3 L342.4,153.9 L343.6,160.7 L344.7,167.6 L345.9,174.6 L347.0,181.8 L348.2,189.0 L349.4,196.3 L350.5,203.7 L351.7,211.2 L352.8,218.4 L354.0,225.2 L355.1,231.7 L356.3,238.0 L357.5,244.5 L358.6,251.1 L359.8,258.2 L360.9,265.3 L362.1,272.4 L363.2,279.3 L364.4,285.9 L365.6,292.3 L366.7,298.4 L367.9,304.2 L369.0,309.2 L370.2,313.9 L371.3,318.9 L372.5,324.1 L373.7,329.3 L374.8,334.7 L376.0,340.4 L377.1,346.1 L378.3,351.7 L379.5,357.1 L380.6,362.2 L381.8,367.2 L382.9,371.7 L384.1,375.7 L385.2,379.4 L386.4,383.1 L387.6,387.0 L388.7,391.1 L389.9,395.2 L391.0,399.2 L392.2,403.1 L393.3,407.0 L394.5,410.7 L395.7,414.3 L396.8,418.0 L398.0,421.6 L399.1,425.2 L400.3,428.6 L401.4,432.0 L402.6,435.3 L403.8,438.4 L404.9,441.3 L406.1,444.1 L407.2,446.8 L408.4,449.3 L409.5,451.8 L410.7,454.2 L411.9,456.5 L413.0,458.9 L414.2,461.3 L415.3,463.8 L416.5,466.3 L417.6,468.7 L418.8,471.2 L420.0,473.6 L421.1,476.0 L422.3,478.3 L423.4,480.6 L424.6,482.9 L425.7,485.2 L426.9,487.4 L428.1,489.7 L429.2,491.9 L430.4,494.0 L431.5,496.2 L432.7,498.3 L433.8,500.5 L435.0,502.6 L436.2,504.7 L437.3,506.9 L438.5,509.0 L439.6,511.1 L440.8,513.1 L442.0,515.2 L443.1,517.2 L444.3,519.2 L445.4,521.1 L446.6,523.1 L447.7,525.0 L448.9,526.9 L450.1,528.8 L451.2,530.7 L452.4,532.5 L453.5,534.4 L454.7,536.2 L455.8,538.0 L457.0,539.8 L458.2,541.6 L459.3,543.4 L460.5,545.2 L461.6,547.0 L462.8,548.7 L463.9,550.5 L465.1,552.2 L466.3,553.9 L467.4,555.7 L468.6,557.4 L469.7,559.1 L470.9,560.8 L472.0,562.5 L473.2,564.1 L474.4,565.8 L475.5,567.4 L476.1,567.7 L476.7,566.9 L477.8,565.3 L479.0,563.6 L480.1,562.0 L481.3,560.4 L482.5,558.8 L483.6,557.1 L484.8,555.5 L485.9,553.9 L487.1,552.2 L488.2,550.6 L489.4,549.0 L490.6,547.3 L491.7,545.7 L492.9,544.0 L494.0,542.4 L495.2,540.7 L496.3,539.0 L497.5,537.4 L498.7,535.7 L499.8,534.0 L501.0,532.3 L502.1,530.6 L503.3,528.8 L504.4,527.1 L505.6,525.3 L506.8,523.6 L507.9,521.8 L509.1,520.0 L510.2,518.2 L511.4,516.4 L512.6,514.6 L513.7,512.8 L514.9,510.9 L516.0,509.1 L517.2,507.2 L518.3,505.3 L519.5,503.4 L520.7,501.4 L521.8,499.4 L523.0,497.4 L524.1,495.4 L525.3,493.3 L526.4,491.3 L527.6,489.2 L528.8,487.0 L529.9,484.9 L531.1,482.7 L532.2,480.5 L533.4,478.3 L534.5,476.0 L535.7,473.7 L536.9,471.4 L538.0,469.0 L539.2,466.7 L540.3,464.2 L541.5,461.8 L542.6,459.3 L543.8,456.8 L545.0,454.3 L546.1,451.7 L547.3,449.1 L548.4,446.5 L549.6,443.8 L550.7,441.0 L551.9,438.3 L553.1,435.5 L554.2,432.6 L555.4,429.7 L556.5,426.8 L557.7,423.8 L558.8,420.7 L560.0,417.5 L561.2,414.0 L562.3,410.2 L563.5,406.4 L564.6,402.5 L565.8,398.9 L566.9,395.3 L568.1,391.6 L569.3,387.8 L570.4,383.8 L571.6,379.8 L572.7,375.6 L573.9,371.3 L575.1,366.8 L576.2,362.2 L577.4,357.3 L578.5,352.3 L579.7,347.0 L580.8,341.6 L582.0,336.0 L583.2,330.2 L584.3,324.2 L585.5,318.0 L586.6,311.6 L587.8,305.0 L588.9,298.6 L590.1,292.3 L591.3,285.9 L592.4,278.9 L593.6,271.6 L594.7,264.1 L595.9,256.4 L597.0,248.5 L598.2,240.5 L599.4,232.4 L600.5,224.1 L601.7,215.6 L602.8,206.9 L604.0,198.2 L605.1,189.3 L606.3,180.5 L607.5,171.7 L608.6,162.9 L609.8,154.4 L610.9,146.0 L612.1,137.5 L613.2,128.7 L614.4,120.1 L615.6,112.5 L616.7,106.2 L617.9,101.2 L619.0,97.1 L620.2,93.7 L621.3,91.3 L622.5,89.9 L623.7,89.7 L624.8,90.8 L626.0,93.3 L627.1,97.1 L628.3,102.1 L629.4,108.2 L630.6,115.4 L631.8,123.4 L632.9,132.1 L634.1,141.5 L635.2,151.0 L636.4,160.4 L637.5,169.8 L638.7,179.4 L639.9,189.3 L641.0,199.6 L642.2,210.4 L643.3,221.2 L644.5,231.9 L645.7,242.4 L646.8,252.6 L648.0,262.5 L649.1,272.0 L650.3,280.8 L651.4,287.6 L652.6,293.6 L653.8,300.2 L654.9,308.1 L656.1,315.7 L657.2,323.0 L658.4,330.0 L659.5,336.8 L660.7,343.3 L661.9,349.6 L663.0,355.7 L664.2,361.6 L665.3,367.3 L666.5,372.9 L667.6,378.2 L668.8,383.4 L670.0,388.5 L671.1,393.4 L672.3,398.2 L673.4,402.8 L674.6,407.3 L675.7,411.8 L676.9,416.1 L678.1,420.3 L679.2,424.5 L680.4,428.5 L681.5,432.5 L682.7,436.4 L683.8,440.2 L685.0,444.0 L686.2,447.6 L687.3,451.2 L688.5,454.7 L689.6,458.1 L690.8,461.5 L691.9,464.8 L693.1,468.0 L694.3,471.1 L695.4,474.2 L696.6,477.2 L697.7,480.2 L698.9,483.1 L700.0,485.9 L701.2,488.7 L702.4,491.4 L703.5,494.0 L704.7,496.5 L705.8,499.0 L707.0,501.5 L708.2,503.9 L709.3,506.2 L710.5,508.5 L711.6,510.8 L712.8,513.0 L713.9,515.2 L715.1,517.4 L716.3,519.5 L717.4,521.6 L718.6,523.7 L719.7,525.7 L720.9,527.8 L722.0,529.8 L723.2,531.8 L724.4,533.8 L725.5,535.7 L726.7,537.7 L727.8,539.7 L729.0,541.6 L730.1,543.6 L731.3,545.5 L732.5,547.4 L733.6,549.4 L734.8,551.3 L735.9,553.3 L737.1,555.2 L738.2,557.1 L739.4,559.1 L740.6,561.0 L741.7,562.9 L742.9,564.9 L744.0,566.8 L744.6,567.8 L745.2,567.2 L746.3,565.2 L747.5,563.3 L748.7,561.3 L749.8,559.4 L751.0,557.5 L752.1,555.5 L753.3,553.6 L754.4,551.7 L755.6,549.8 L756.8,547.8 L757.9,545.9 L759.1,544.0 L760.2,542.1 L761.4,540.3 L762.5,538.4 L763.7,536.5 L764.9,534.6 L766.0,532.7 L767.2,530.9 L768.3,529.0 L769.5,527.2 L770.6,525.3 L771.8,523.5 L773.0,521.6 L774.1,519.8 L775.3,517.9 L776.4,516.1 L777.6,514.2 L778.8,512.4 L779.9,510.6 L781.1,508.7 L782.2,506.9 L783.4,505.0 L784.5,503.2 L785.7,501.4 L786.9,499.5 L788.0,497.7 L789.2,495.8 L790.3,494.0 L791.5,492.2 L792.6,490.3 L793.8,488.5 L795.0,486.6 L796.1,484.8 L797.3,482.9 L798.4,481.1 L799.6,479.2 L800.7,477.3 L801.9,475.5 L803.1,473.6 L804.2,471.7 L805.4,469.8 L806.5,467.9 L807.7,466.0 L808.8,464.1 L810.0,462.2 L811.2,460.3 L812.3,458.4 L813.5,456.4 L814.6,454.5"/>
<path class="cv" stroke="#B177DE" d="M120.2,502.0 L121.4,501.3 L122.5,500.6 L123.7,499.8 L124.8,499.1 L126.0,498.4 L127.1,497.6 L128.3,496.8 L129.5,496.1 L130.6,495.3 L131.8,494.5 L132.9,493.7 L134.1,492.9 L135.2,492.1 L136.4,491.3 L137.6,490.4 L138.7,489.5 L139.9,488.6 L141.0,487.7 L142.2,486.8 L143.3,485.9 L144.5,485.0 L145.7,484.0 L146.8,483.1 L148.0,482.2 L149.1,481.2 L150.3,480.3 L151.4,479.4 L152.6,478.4 L153.8,477.5 L154.9,476.5 L156.1,475.5 L157.2,474.6 L158.4,473.6 L159.5,472.6 L160.7,471.6 L161.9,470.6 L163.0,469.6 L164.2,468.5 L165.3,467.5 L166.5,466.5 L167.6,465.5 L168.8,464.5 L170.0,463.4 L171.1,462.4 L172.3,461.3 L173.4,460.2 L174.6,459.0 L175.8,457.8 L176.9,456.6 L178.1,455.4 L179.2,454.2 L180.4,453.0 L181.5,451.7 L182.7,450.4 L183.9,449.1 L185.0,447.8 L186.2,446.5 L187.3,445.3 L188.5,444.0 L189.6,442.7 L190.8,441.5 L192.0,440.2 L193.1,438.9 L194.3,437.6 L195.4,436.3 L196.6,434.9 L197.7,433.6 L198.9,432.2 L200.1,430.9 L201.2,429.5 L202.4,428.1 L203.5,426.7 L204.7,425.2 L205.8,423.7 L207.0,422.2 L208.2,420.5 L209.3,418.9 L210.5,417.1 L211.6,415.4 L212.8,413.6 L213.9,411.8 L215.1,409.9 L216.3,408.0 L217.4,406.1 L218.6,404.2 L219.7,402.2 L220.9,400.3 L222.0,398.4 L223.2,396.5 L224.4,394.7 L225.5,392.8 L226.7,391.0 L227.8,389.1 L229.0,387.2 L230.1,385.2 L231.3,383.2 L232.5,381.1 L233.6,378.9 L234.8,376.6 L235.9,374.2 L237.1,371.7 L238.2,369.3 L239.4,366.8 L240.6,364.3 L241.7,361.7 L242.9,359.1 L244.0,356.5 L245.2,353.8 L246.4,351.1 L247.5,348.4 L248.7,345.6 L249.8,342.8 L251.0,340.0 L252.1,337.1 L253.3,334.1 L254.5,331.2 L255.6,328.1 L256.8,325.0 L257.9,321.8 L259.1,318.6 L260.2,315.3 L261.4,311.9 L262.6,308.4 L263.7,304.8 L264.9,301.1 L266.0,297.4 L267.2,293.5 L268.3,289.5 L269.5,285.4 L270.7,281.2 L271.8,276.9 L273.0,272.4 L274.1,267.8 L275.3,263.1 L276.4,258.2 L277.6,253.3 L278.8,248.3 L279.9,243.3 L281.1,238.1 L282.2,232.8 L283.4,227.4 L284.5,221.8 L285.7,216.1 L286.9,210.3 L288.0,204.5 L289.2,198.6 L290.3,192.8 L291.5,186.9 L292.6,181.0 L293.8,175.1 L295.0,169.2 L296.1,163.3 L297.3,157.7 L298.4,152.3 L299.6,146.9 L300.7,141.5 L301.9,136.0 L303.1,130.3 L304.2,124.3 L305.4,118.4 L306.5,112.7 L307.7,107.4 L308.9,102.3 L310.0,97.6 L311.2,93.2 L312.3,89.2 L313.5,85.7 L314.6,82.6 L315.8,80.0 L317.0,78.0 L318.1,76.5 L319.3,75.5 L320.4,75.1 L321.6,75.2 L322.7,75.9 L323.9,77.2 L325.1,79.2 L326.2,81.9 L327.4,85.2 L328.5,89.0 L329.7,93.4 L330.8,98.7 L332.0,104.8 L333.2,111.3 L334.3,117.6 L335.5,123.4 L336.6,129.2 L337.8,135.4 L338.9,141.8 L340.1,148.3 L341.3,155.1 L342.4,162.1 L343.6,169.3 L344.7,176.5 L345.9,183.9 L347.0,191.4 L348.2,199.0 L349.4,206.7 L350.5,214.3 L351.7,221.5 L352.8,228.4 L354.0,235.1 L355.1,241.8 L356.3,248.7 L357.5,256.0 L358.6,263.5 L359.8,271.1 L360.9,278.5 L362.1,285.5 L363.2,292.3 L364.4,298.8 L365.6,304.8 L366.7,310.1 L367.9,315.1 L369.0,320.4 L370.2,325.9 L371.3,331.3 L372.5,337.0 L373.7,342.9 L374.8,348.6 L376.0,354.2 L377.1,359.6 L378.3,364.8 L379.5,369.6 L380.6,373.8 L381.8,377.7 L382.9,381.4 L384.1,385.2 L385.2,389.3 L386.4,393.5 L387.6,397.6 L388.7,401.5 L389.9,405.4 L391.0,409.2 L392.2,412.9 L393.3,416.6 L394.5,420.3 L395.7,423.9 L396.8,427.4 L398.0,430.8 L399.1,434.2 L400.3,437.3 L401.4,440.4 L402.6,443.2 L403.8,445.9 L404.9,448.5 L406.1,451.0 L407.2,453.4 L408.4,455.8 L409.5,458.2 L410.7,460.6 L411.9,463.1 L413.0,465.6 L414.2,468.1 L415.3,470.5 L416.5,473.0 L417.6,475.4 L418.8,477.7 L420.0,480.1 L421.1,482.4 L422.3,484.7 L423.4,486.9 L424.6,489.2 L425.7,491.4 L426.9,493.6 L428.1,495.7 L429.2,497.9 L430.4,500.0 L431.5,502.2 L432.7,504.3 L433.8,506.5 L435.0,508.6 L436.2,510.7 L437.3,512.8 L438.5,514.8 L439.6,516.9 L440.8,518.9 L442.0,520.8 L443.1,522.8 L444.3,524.7 L445.4,526.7 L446.6,528.6 L447.7,530.5 L448.9,532.3 L450.1,534.2 L451.2,536.0 L452.4,537.9 L453.5,539.7 L454.7,541.5 L455.8,543.3 L457.0,545.1 L458.2,546.9 L459.3,548.6 L460.5,550.4 L461.6,552.2 L462.8,553.9 L463.9,555.7 L465.1,557.4 L466.3,559.2 L467.4,560.9 L468.6,562.6 L469.7,564.3 L470.9,566.0 L471.5,566.9 L472.0,567.7 L472.6,567.4 L473.2,566.6 L474.4,564.9 L475.5,563.3 L476.7,561.6 L477.8,559.9 L479.0,558.3 L480.1,556.6 L481.3,554.9 L482.5,553.3 L483.6,551.6 L484.8,550.0 L485.9,548.3 L487.1,546.6 L488.2,545.0 L489.4,543.3 L490.6,541.7 L491.7,540.0 L492.9,538.3 L494.0,536.7 L495.2,535.1 L496.3,533.5 L497.5,531.8 L498.7,530.2 L499.8,528.6 L501.0,527.0 L502.1,525.4 L503.3,523.7 L504.4,522.1 L505.6,520.5 L506.8,518.8 L507.9,517.2 L509.1,515.5 L510.2,513.8 L511.4,512.2 L512.6,510.4 L513.7,508.7 L514.9,507.0 L516.0,505.2 L517.2,503.4 L518.3,501.5 L519.5,499.6 L520.7,497.6 L521.8,495.7 L523.0,493.6 L524.1,491.6 L525.3,489.5 L526.4,487.4 L527.6,485.2 L528.8,483.0 L529.9,480.8 L531.1,478.6 L532.2,476.3 L533.4,474.0 L534.5,471.7 L535.7,469.4 L536.9,467.0 L538.0,464.5 L539.2,462.1 L540.3,459.6 L541.5,457.1 L542.6,454.5 L543.8,451.9 L545.0,449.3 L546.1,446.6 L547.3,443.9 L548.4,441.2 L549.6,438.4 L550.7,435.6 L551.9,432.7 L553.1,429.8 L554.2,426.8 L555.4,423.8 L556.5,420.7 L557.7,417.5 L558.8,413.9 L560.0,410.1 L561.2,406.3 L562.3,402.4 L563.5,398.8 L564.6,395.1 L565.8,391.4 L566.9,387.5 L568.1,383.6 L569.3,379.5 L570.4,375.3 L571.6,370.9 L572.7,366.3 L573.9,361.6 L575.1,356.7 L576.2,351.6 L577.4,346.3 L578.5,340.8 L579.7,335.1 L580.8,329.2 L582.0,323.1 L583.2,316.8 L584.3,310.3 L585.5,303.6 L586.6,297.2 L587.8,290.9 L588.9,284.3 L590.1,277.1 L591.3,269.7 L592.4,262.1 L593.6,254.3 L594.7,246.3 L595.9,238.2 L597.0,230.0 L598.2,221.5 L599.4,212.9 L600.5,204.2 L601.7,195.3 L602.8,186.4 L604.0,177.5 L605.1,168.6 L606.3,159.7 L607.5,151.0 L608.6,142.4 L609.8,133.4 L610.9,124.3 L612.1,115.7 L613.2,108.3 L614.4,102.4 L615.6,97.6 L616.7,93.7 L617.9,90.7 L619.0,88.7 L620.2,87.9 L621.3,88.4 L622.5,90.2 L623.7,93.3 L624.8,97.9 L626.0,103.7 L627.1,110.8 L628.3,118.9 L629.4,127.9 L630.6,137.8 L631.8,148.0 L632.9,158.1 L634.1,168.2 L635.2,178.4 L636.4,188.9 L637.5,199.9 L638.7,211.5 L639.9,223.1 L641.0,234.6 L642.2,246.0 L643.3,257.0 L644.5,267.7 L645.7,277.9 L646.8,286.1 L648.0,292.9 L649.1,300.3 L650.3,309.1 L651.4,317.6 L652.6,325.8 L653.8,333.6 L654.9,341.1 L656.1,348.3 L657.2,355.2 L658.4,361.8 L659.5,368.1 L660.7,374.2 L661.9,380.1 L663.0,385.7 L664.2,391.2 L665.3,396.5 L666.5,401.5 L667.6,406.5 L668.8,411.3 L670.0,415.9 L671.1,420.5 L672.3,424.9 L673.4,429.2 L674.6,433.5 L675.7,437.6 L676.9,441.7 L678.1,445.6 L679.2,449.5 L680.4,453.3 L681.5,456.9 L682.7,460.6 L683.8,464.1 L685.0,467.5 L686.2,470.9 L687.3,474.2 L688.5,477.4 L689.6,480.6 L690.8,483.7 L691.9,486.7 L693.1,489.7 L694.3,492.6 L695.4,495.4 L696.6,498.2 L697.7,501.0 L698.9,503.6 L700.0,506.3 L701.2,508.9 L702.4,511.4 L703.5,514.0 L704.7,516.5 L705.8,518.9 L707.0,521.3 L708.2,523.7 L709.3,526.1 L710.5,528.4 L711.6,530.7 L712.8,533.0 L713.9,535.3 L715.1,537.5 L716.3,539.8 L717.4,542.0 L718.6,544.2 L719.7,546.3 L720.9,548.5 L722.0,550.6 L723.2,552.7 L724.4,554.8 L725.5,556.9 L726.7,559.0 L727.8,561.0 L729.0,563.0 L730.1,565.0 L731.3,567.0 L731.9,568.0 L732.5,567.1 L733.6,565.1 L734.8,563.1 L735.9,561.2 L737.1,559.2 L738.2,557.3 L739.4,555.4 L740.6,553.4 L741.7,551.5 L742.9,549.6 L744.0,547.7 L745.2,545.8 L746.3,543.9 L747.5,542.0 L748.7,540.1 L749.8,538.2 L751.0,536.3 L752.1,534.4 L753.3,532.5 L754.4,530.7 L755.6,528.8 L756.8,526.9 L757.9,525.1 L759.1,523.2 L760.2,521.3 L761.4,519.5 L762.5,517.6 L763.7,515.8 L764.9,513.9 L766.0,512.1 L767.2,510.2 L768.3,508.4 L769.5,506.5 L770.6,504.7 L771.8,502.9 L773.0,501.0 L774.1,499.2 L775.3,497.3 L776.4,495.5 L777.6,493.6 L778.8,491.8 L779.9,489.9 L781.1,488.0 L782.2,486.2 L783.4,484.3 L784.5,482.5 L785.7,480.6 L786.9,478.7 L788.0,476.8 L789.2,474.9 L790.3,473.1 L791.5,471.2 L792.6,469.3 L793.8,467.4 L795.0,465.5 L796.1,463.5 L797.3,461.6 L798.4,459.7 L799.6,457.7 L800.7,455.8 L801.9,453.8 L803.1,451.9 L804.2,449.9 L805.4,447.9 L806.5,445.9 L807.7,443.9 L808.8,441.9 L810.0,439.9 L811.2,437.9 L812.3,435.9 L813.5,433.9 L814.6,431.9"/>
<path class="cv" stroke="#CC9900" d="M120.2,502.6 L121.4,502.0 L122.5,501.3 L123.7,500.6 L124.8,499.8 L126.0,499.1 L127.1,498.4 L128.3,497.6 L129.5,496.8 L130.6,496.1 L131.8,495.3 L132.9,494.5 L134.1,493.7 L135.2,492.9 L136.4,492.1 L137.6,491.3 L138.7,490.4 L139.9,489.5 L141.0,488.6 L142.2,487.7 L143.3,486.8 L144.5,485.9 L145.7,484.9 L146.8,484.0 L148.0,483.1 L149.1,482.1 L150.3,481.2 L151.4,480.3 L152.6,479.4 L153.8,478.4 L154.9,477.5 L156.1,476.5 L157.2,475.5 L158.4,474.5 L159.5,473.5 L160.7,472.5 L161.9,471.5 L163.0,470.5 L164.2,469.5 L165.3,468.5 L166.5,467.5 L167.6,466.5 L168.8,465.5 L170.0,464.4 L171.1,463.4 L172.3,462.3 L173.4,461.2 L174.6,460.1 L175.8,459.0 L176.9,457.8 L178.1,456.6 L179.2,455.4 L180.4,454.2 L181.5,452.9 L182.7,451.6 L183.9,450.4 L185.0,449.0 L186.2,447.7 L187.3,446.5 L188.5,445.2 L189.6,443.9 L190.8,442.7 L192.0,441.4 L193.1,440.1 L194.3,438.9 L195.4,437.5 L196.6,436.2 L197.7,434.8 L198.9,433.5 L200.1,432.1 L201.2,430.8 L202.4,429.4 L203.5,428.0 L204.7,426.6 L205.8,425.1 L207.0,423.6 L208.2,422.1 L209.3,420.4 L210.5,418.8 L211.6,417.0 L212.8,415.3 L213.9,413.5 L215.1,411.6 L216.3,409.8 L217.4,407.9 L218.6,406.0 L219.7,404.0 L220.9,402.1 L222.0,400.2 L223.2,398.2 L224.4,396.4 L225.5,394.5 L226.7,392.7 L227.8,390.8 L229.0,388.9 L230.1,387.0 L231.3,385.1 L232.5,383.1 L233.6,380.9 L234.8,378.7 L235.9,376.4 L237.1,374.0 L238.2,371.5 L239.4,369.1 L240.6,366.6 L241.7,364.1 L242.9,361.5 L244.0,358.9 L245.2,356.3 L246.4,353.6 L247.5,350.9 L248.7,348.2 L249.8,345.4 L251.0,342.6 L252.1,339.7 L253.3,336.8 L254.5,333.9 L255.6,330.9 L256.8,327.8 L257.9,324.7 L259.1,321.5 L260.2,318.3 L261.4,315.0 L262.6,311.6 L263.7,308.1 L264.9,304.5 L266.0,300.8 L267.2,297.0 L268.3,293.1 L269.5,289.1 L270.7,285.0 L271.8,280.8 L273.0,276.5 L274.1,272.0 L275.3,267.4 L276.4,262.6 L277.6,257.8 L278.8,252.9 L279.9,247.9 L281.1,242.8 L282.2,237.6 L283.4,232.3 L284.5,226.9 L285.7,221.3 L286.9,215.6 L288.0,209.8 L289.2,203.9 L290.3,198.1 L291.5,192.2 L292.6,186.3 L293.8,180.4 L295.0,174.5 L296.1,168.6 L297.3,162.8 L298.4,157.2 L299.6,151.8 L300.7,146.4 L301.9,141.0 L303.1,135.4 L304.2,129.7 L305.4,123.7 L306.5,117.8 L307.7,112.2 L308.9,106.9 L310.0,101.8 L311.2,97.1 L312.3,92.8 L313.5,88.9 L314.6,85.4 L315.8,82.4 L317.0,79.8 L318.1,77.8 L319.3,76.4 L320.4,75.4 L321.6,75.1 L322.7,75.2 L323.9,76.0 L325.1,77.4 L326.2,79.5 L327.4,82.2 L328.5,85.5 L329.7,89.4 L330.8,93.9 L332.0,99.2 L333.2,105.4 L334.3,112.0 L335.5,118.2 L336.6,123.9 L337.8,129.8 L338.9,135.8 L340.1,142.1 L341.3,148.6 L342.4,155.2 L343.6,162.0 L344.7,169.0 L345.9,176.1 L347.0,183.2 L348.2,190.5 L349.4,197.8 L350.5,205.2 L351.7,212.7 L352.8,219.8 L354.0,226.5 L355.1,233.0 L356.3,239.4 L357.5,245.8 L358.6,252.6 L359.8,259.7 L360.9,266.9 L362.1,274.0 L363.2,280.9 L364.4,287.5 L365.6,293.8 L366.7,299.9 L367.9,305.6 L369.0,310.5 L370.2,315.3 L371.3,320.5 L372.5,325.7 L373.7,331.0 L374.8,336.5 L376.0,342.3 L377.1,348.0 L378.3,353.6 L379.5,359.0 L380.6,364.2 L381.8,369.1 L382.9,373.4 L384.1,377.3 L385.2,381.0 L386.4,384.8 L387.6,388.9 L388.7,393.1 L389.9,397.2 L391.0,401.2 L392.2,405.1 L393.3,408.9 L394.5,412.7 L395.7,416.4 L396.8,420.0 L398.0,423.7 L399.1,427.2 L400.3,430.7 L401.4,434.1 L402.6,437.3 L403.8,440.3 L404.9,443.2 L406.1,445.9 L407.2,448.5 L408.4,451.0 L409.5,453.5 L410.7,455.9 L411.9,458.3 L413.0,460.7 L414.2,463.2 L415.3,465.7 L416.5,468.2 L417.6,470.6 L418.8,473.1 L420.0,475.5 L421.1,477.9 L422.3,480.2 L423.4,482.5 L424.6,484.8 L425.7,487.1 L426.9,489.3 L428.1,491.6 L429.2,493.8 L430.4,495.9 L431.5,498.1 L432.7,500.3 L433.8,502.4 L435.0,504.6 L436.2,506.7 L437.3,508.9 L438.5,511.0 L439.6,513.1 L440.8,515.1 L442.0,517.2 L443.1,519.2 L444.3,521.2 L445.4,523.1 L446.6,525.1 L447.7,527.0 L448.9,528.9 L450.1,530.8 L451.2,532.7 L452.4,534.6 L453.5,536.4 L454.7,538.3 L455.8,540.1 L457.0,541.9 L458.2,543.7 L459.3,545.5 L460.5,547.3 L461.6,549.1 L462.8,550.9 L463.9,552.7 L465.1,554.5 L466.3,556.3 L467.4,558.0 L468.6,559.8 L469.7,561.5 L470.9,563.2 L472.0,565.0 L473.2,566.7 L473.8,567.5 L474.4,567.6 L474.9,566.8 L475.5,566.0 L476.7,564.3 L477.8,562.6 L479.0,560.9 L480.1,559.2 L481.3,557.6 L482.5,555.9 L483.6,554.2 L484.8,552.6 L485.9,550.9 L487.1,549.3 L488.2,547.6 L489.4,546.0 L490.6,544.3 L491.7,542.7 L492.9,541.0 L494.0,539.4 L495.2,537.7 L496.3,536.1 L497.5,534.4 L498.7,532.7 L499.8,531.1 L501.0,529.4 L502.1,527.7 L503.3,526.0 L504.4,524.3 L505.6,522.6 L506.8,520.9 L507.9,519.2 L509.1,517.4 L510.2,515.7 L511.4,513.9 L512.6,512.1 L513.7,510.4 L514.9,508.5 L516.0,506.7 L517.2,504.8 L518.3,502.9 L519.5,501.0 L520.7,499.1 L521.8,497.1 L523.0,495.1 L524.1,493.0 L525.3,490.9 L526.4,488.8 L527.6,486.7 L528.8,484.5 L529.9,482.3 L531.1,480.1 L532.2,477.9 L533.4,475.6 L534.5,473.2 L535.7,470.9 L536.9,468.5 L538.0,466.1 L539.2,463.7 L540.3,461.2 L541.5,458.7 L542.6,456.1 L543.8,453.5 L545.0,450.9 L546.1,448.3 L547.3,445.6 L548.4,442.8 L549.6,440.1 L550.7,437.3 L551.9,434.4 L553.1,431.5 L554.2,428.6 L555.4,425.6 L556.5,422.6 L557.7,419.6 L558.8,416.2 L560.0,412.6 L561.2,408.8 L562.3,405.0 L563.5,401.2 L564.6,397.7 L565.8,394.1 L566.9,390.3 L568.1,386.5 L569.3,382.6 L570.4,378.6 L571.6,374.4 L572.7,370.1 L573.9,365.7 L575.1,361.1 L576.2,356.3 L577.4,351.3 L578.5,346.1 L579.7,340.7 L580.8,335.2 L582.0,329.5 L583.2,323.6 L584.3,317.5 L585.5,311.2 L586.6,304.7 L587.8,298.5 L588.9,292.3 L590.1,286.0 L591.3,279.2 L592.4,272.0 L593.6,264.6 L594.7,257.1 L595.9,249.4 L597.0,241.6 L598.2,233.5 L599.4,225.4 L600.5,217.0 L601.7,208.5 L602.8,199.9 L604.0,191.3 L605.1,182.6 L606.3,173.9 L607.5,165.3 L608.6,156.7 L609.8,148.3 L610.9,140.0 L612.1,131.3 L613.2,122.6 L614.4,114.4 L615.6,107.3 L616.7,101.7 L617.9,97.0 L619.0,93.1 L620.2,90.1 L621.3,88.0 L622.5,87.0 L623.7,87.1 L624.8,88.5 L626.0,91.2 L627.1,95.1 L628.3,100.3 L629.4,106.4 L630.6,113.6 L631.8,121.5 L632.9,130.2 L634.1,139.4 L635.2,148.8 L636.4,158.1 L637.5,167.3 L638.7,176.6 L639.9,186.2 L641.0,196.1 L642.2,206.6 L643.3,217.1 L644.5,227.5 L645.7,237.7 L646.8,247.7 L648.0,257.4 L649.1,266.8 L650.3,275.8 L651.4,283.6 L652.6,289.7 L653.8,295.6 L654.9,302.6 L656.1,310.2 L657.2,317.6 L658.4,324.7 L659.5,331.5 L660.7,338.1 L661.9,344.5 L663.0,350.7 L664.2,356.8 L665.3,362.6 L666.5,368.2 L667.6,373.7 L668.8,379.1 L670.0,384.3 L671.1,389.3 L672.3,394.3 L673.4,399.0 L674.6,403.7 L675.7,408.2 L676.9,412.7 L678.1,417.0 L679.2,421.2 L680.4,425.4 L681.5,429.4 L682.7,433.4 L683.8,437.3 L685.0,441.2 L686.2,444.9 L687.3,448.6 L688.5,452.1 L689.6,455.6 L690.8,459.1 L691.9,462.4 L693.1,465.7 L694.3,468.9 L695.4,472.1 L696.6,475.2 L697.7,478.2 L698.9,481.1 L700.0,484.0 L701.2,486.9 L702.4,489.6 L703.5,492.3 L704.7,494.9 L705.8,497.5 L707.0,500.1 L708.2,502.5 L709.3,505.0 L710.5,507.4 L711.6,509.7 L712.8,512.0 L713.9,514.3 L715.1,516.5 L716.3,518.7 L717.4,520.9 L718.6,523.1 L719.7,525.2 L720.9,527.3 L722.0,529.4 L723.2,531.5 L724.4,533.6 L725.5,535.6 L726.7,537.6 L727.8,539.7 L729.0,541.7 L730.1,543.7 L731.3,545.7 L732.5,547.7 L733.6,549.7 L734.8,551.6 L735.9,553.6 L737.1,555.6 L738.2,557.5 L739.4,559.5 L740.6,561.5 L741.7,563.4 L742.9,565.4 L744.0,567.3 L744.6,567.7 L745.2,566.7 L746.3,564.8 L747.5,562.8 L748.7,560.8 L749.8,558.9 L751.0,556.9 L752.1,555.0 L753.3,553.1 L754.4,551.1 L755.6,549.2 L756.8,547.3 L757.9,545.4 L759.1,543.5 L760.2,541.6 L761.4,539.7 L762.5,537.8 L763.7,535.9 L764.9,534.0 L766.0,532.1 L767.2,530.2 L768.3,528.4 L769.5,526.5 L770.6,524.6 L771.8,522.7 L773.0,520.9 L774.1,519.0 L775.3,517.1 L776.4,515.3 L777.6,513.4 L778.8,511.6 L779.9,509.7 L781.1,507.8 L782.2,506.0 L783.4,504.1 L784.5,502.3 L785.7,500.4 L786.9,498.6 L788.0,496.7 L789.2,494.8 L790.3,493.0 L791.5,491.1 L792.6,489.2 L793.8,487.4 L795.0,485.5 L796.1,483.6 L797.3,481.7 L798.4,479.9 L799.6,478.0 L800.7,476.1 L801.9,474.2 L803.1,472.3 L804.2,470.4 L805.4,468.4 L806.5,466.5 L807.7,464.6 L808.8,462.7 L810.0,460.7 L811.2,458.8 L812.3,456.8 L813.5,454.9 L814.6,452.9"/>
<path class="cv" stroke="#00CBCC" d="M120.2,502.6 L121.4,502.0 L122.5,501.3 L123.7,500.6 L124.8,499.8 L126.0,499.1 L127.1,498.4 L128.3,497.6 L129.5,496.8 L130.6,496.1 L131.8,495.3 L132.9,494.5 L134.1,493.7 L135.2,492.9 L136.4,492.1 L137.6,491.3 L138.7,490.4 L139.9,489.5 L141.0,488.6 L142.2,487.7 L143.3,486.8 L144.5,485.9 L145.7,484.9 L146.8,484.0 L148.0,483.1 L149.1,482.1 L150.3,481.2 L151.4,480.3 L152.6,479.4 L153.8,478.4 L154.9,477.5 L156.1,476.5 L157.2,475.5 L158.4,474.5 L159.5,473.5 L160.7,472.5 L161.9,471.5 L163.0,470.5 L164.2,469.5 L165.3,468.5 L166.5,467.5 L167.6,466.5 L168.8,465.5 L170.0,464.4 L171.1,463.4 L172.3,462.3 L173.4,461.2 L174.6,460.1 L175.8,459.0 L176.9,457.8 L178.1,456.6 L179.2,455.4 L180.4,454.2 L181.5,452.9 L182.7,451.6 L183.9,450.4 L185.0,449.0 L186.2,447.7 L187.3,446.5 L188.5,445.2 L189.6,443.9 L190.8,442.7 L192.0,441.4 L193.1,440.1 L194.3,438.9 L195.4,437.5 L196.6,436.2 L197.7,434.8 L198.9,433.5 L200.1,432.1 L201.2,430.8 L202.4,429.4 L203.5,428.0 L204.7,426.6 L205.8,425.1 L207.0,423.6 L208.2,422.1 L209.3,420.4 L210.5,418.8 L211.6,417.0 L212.8,415.3 L213.9,413.5 L215.1,411.6 L216.3,409.8 L217.4,407.9 L218.6,406.0 L219.7,404.0 L220.9,402.1 L222.0,400.2 L223.2,398.2 L224.4,396.4 L225.5,394.5 L226.7,392.7 L227.8,390.8 L229.0,388.9 L230.1,387.0 L231.3,385.1 L232.5,383.1 L233.6,380.9 L234.8,378.7 L235.9,376.4 L237.1,374.0 L238.2,371.5 L239.4,369.1 L240.6,366.6 L241.7,364.1 L242.9,361.5 L244.0,358.9 L245.2,356.3 L246.4,353.6 L247.5,350.9 L248.7,348.2 L249.8,345.4 L251.0,342.6 L252.1,339.7 L253.3,336.8 L254.5,333.9 L255.6,330.9 L256.8,327.8 L257.9,324.7 L259.1,321.5 L260.2,318.3 L261.4,315.0 L262.6,311.6 L263.7,308.1 L264.9,304.5 L266.0,300.8 L267.2,297.0 L268.3,293.1 L269.5,289.1 L270.7,285.0 L271.8,280.8 L273.0,276.5 L274.1,272.0 L275.3,267.4 L276.4,262.6 L277.6,257.8 L278.8,252.9 L279.9,247.9 L281.1,242.8 L282.2,237.6 L283.4,232.3 L284.5,226.9 L285.7,221.3 L286.9,215.6 L288.0,209.8 L289.2,203.9 L290.3,198.1 L291.5,192.2 L292.6,186.3 L293.8,180.4 L295.0,174.5 L296.1,168.6 L297.3,162.8 L298.4,157.2 L299.6,151.8 L300.7,146.4 L301.9,141.0 L303.1,135.4 L304.2,129.7 L305.4,123.7 L306.5,117.8 L307.7,112.2 L308.9,106.9 L310.0,101.8 L311.2,97.1 L312.3,92.8 L313.5,88.9 L314.6,85.4 L315.8,82.4 L317.0,79.8 L318.1,77.8 L319.3,76.4 L320.4,75.4 L321.6,75.1 L322.7,75.2 L323.9,76.0 L325.1,77.4 L326.2,79.5 L327.4,82.2 L328.5,85.5 L329.7,89.4 L330.8,93.9 L332.0,99.2 L333.2,105.4 L334.3,112.0 L335.5,118.2 L336.6,123.9 L337.8,129.8 L338.9,135.8 L340.1,142.1 L341.3,148.6 L342.4,155.2 L343.6,162.0 L344.7,169.0 L345.9,176.1 L347.0,183.2 L348.2,190.5 L349.4,197.8 L350.5,205.2 L351.7,212.7 L352.8,219.8 L354.0,226.5 L355.1,232.9 L356.3,239.3 L357.5,245.8 L358.6,252.5 L359.8,259.6 L360.9,266.7 L362.1,273.8 L363.2,280.7 L364.4,287.2 L365.6,293.5 L366.7,299.6 L367.9,305.2 L369.0,310.2 L370.2,314.9 L371.3,320.0 L372.5,325.2 L373.7,330.4 L374.8,335.8 L376.0,341.5 L377.1,347.2 L378.3,352.8 L379.5,358.1 L380.6,363.3 L381.8,368.2 L382.9,372.6 L384.1,376.4 L385.2,380.1 L386.4,383.8 L387.6,387.8 L388.7,391.9 L389.9,396.0 L391.0,400.0 L392.2,403.9 L393.3,407.7 L394.5,411.4 L395.7,415.1 L396.8,418.7 L398.0,422.3 L399.1,425.9 L400.3,429.3 L401.4,432.7 L402.6,435.9 L403.8,439.0 L404.9,441.9 L406.1,444.7 L407.2,447.3 L408.4,449.8 L409.5,452.2 L410.7,454.6 L411.9,457.0 L413.0,459.4 L414.2,461.8 L415.3,464.3 L416.5,466.8 L417.6,469.2 L418.8,471.7 L420.0,474.1 L421.1,476.4 L422.3,478.8 L423.4,481.1 L424.6,483.4 L425.7,485.6 L426.9,487.9 L428.1,490.1 L429.2,492.3 L430.4,494.5 L431.5,496.6 L432.7,498.7 L433.8,500.9 L435.0,503.0 L436.2,505.2 L437.3,507.3 L438.5,509.4 L439.6,511.5 L440.8,513.5 L442.0,515.6 L443.1,517.6 L444.3,519.6 L445.4,521.5 L446.6,523.5 L447.7,525.4 L448.9,527.3 L450.1,529.2 L451.2,531.1 L452.4,532.9 L453.5,534.8 L454.7,536.6 L455.8,538.4 L457.0,540.2 L458.2,542.0 L459.3,543.8 L460.5,545.5 L461.6,547.3 L462.8,549.1 L463.9,550.8 L465.1,552.6 L466.3,554.3 L467.4,556.0 L468.6,557.7 L469.7,559.4 L470.9,561.1 L472.0,562.8 L473.2,564.5 L474.4,566.1 L474.9,567.0 L475.5,567.8 L476.1,567.4 L476.7,566.6 L477.8,565.0 L479.0,563.3 L480.1,561.7 L481.3,560.1 L482.5,558.4 L483.6,556.8 L484.8,555.2 L485.9,553.6 L487.1,551.9 L488.2,550.3 L489.4,548.7 L490.6,547.0 L491.7,545.4 L492.9,543.7 L494.0,542.1 L495.2,540.4 L496.3,538.8 L497.5,537.1 L498.7,535.4 L499.8,533.7 L501.0,532.0 L502.1,530.3 L503.3,528.6 L504.4,526.8 L505.6,525.1 L506.8,523.3 L507.9,521.6 L509.1,519.8 L510.2,518.0 L511.4,516.2 L512.6,514.4 L513.7,512.6 L514.9,510.7 L516.0,508.9 L517.2,507.0 L518.3,505.1 L519.5,503.2 L520.7,501.3 L521.8,499.3 L523.0,497.3 L524.1,495.3 L525.3,493.2 L526.4,491.2 L527.6,489.1 L528.8,487.0 L529.9,484.8 L531.1,482.6 L532.2,480.4 L533.4,478.2 L534.5,476.0 L535.7,473.7 L536.9,471.4 L538.0,469.1 L539.2,466.7 L540.3,464.3 L541.5,461.9 L542.6,459.4 L543.8,456.9 L545.0,454.4 L546.1,451.8 L547.3,449.3 L548.4,446.6 L549.6,444.0 L550.7,441.2 L551.9,438.5 L553.1,435.7 L554.2,432.9 L555.4,430.0 L556.5,427.1 L557.7,424.1 L558.8,421.1 L560.0,417.9 L561.2,414.4 L562.3,410.7 L563.5,406.9 L564.6,403.1 L565.8,399.5 L566.9,395.8 L568.1,392.2 L569.3,388.4 L570.4,384.5 L571.6,380.5 L572.7,376.4 L573.9,372.1 L575.1,367.6 L576.2,363.0 L577.4,358.3 L578.5,353.3 L579.7,348.1 L580.8,342.7 L582.0,337.2 L583.2,331.4 L584.3,325.5 L585.5,319.4 L586.6,313.0 L587.8,306.4 L588.9,300.0 L590.1,293.7 L591.3,287.3 L592.4,280.5 L593.6,273.2 L594.7,265.7 L595.9,258.1 L597.0,250.3 L598.2,242.3 L599.4,234.1 L600.5,225.8 L601.7,217.3 L602.8,208.7 L604.0,199.9 L605.1,191.0 L606.3,182.1 L607.5,173.2 L608.6,164.3 L609.8,155.5 L610.9,146.9 L612.1,138.2 L613.2,129.1 L614.4,120.2 L615.6,112.1 L616.7,105.4 L617.9,100.2 L619.0,95.8 L620.2,92.3 L621.3,89.8 L622.5,88.5 L623.7,88.2 L624.8,89.3 L626.0,91.8 L627.1,95.6 L628.3,100.7 L629.4,106.9 L630.6,114.1 L631.8,122.2 L632.9,131.0 L634.1,140.5 L635.2,150.1 L636.4,159.6 L637.5,169.1 L638.7,178.7 L639.9,188.7 L641.0,199.0 L642.2,210.0 L643.3,220.9 L644.5,231.8 L645.7,242.6 L646.8,253.1 L648.0,263.3 L649.1,273.1 L650.3,282.1 L651.4,288.9 L652.6,295.3 L653.8,302.7 L654.9,311.0 L656.1,318.9 L657.2,326.5 L658.4,333.8 L659.5,340.8 L660.7,347.6 L661.9,354.1 L663.0,360.3 L664.2,366.4 L665.3,372.2 L666.5,377.8 L667.6,383.2 L668.8,388.4 L670.0,393.5 L671.1,398.4 L672.3,403.1 L673.4,407.7 L674.6,412.2 L675.7,416.6 L676.9,420.9 L678.1,425.1 L679.2,429.3 L680.4,433.3 L681.5,437.2 L682.7,441.1 L683.8,444.9 L685.0,448.6 L686.2,452.2 L687.3,455.7 L688.5,459.2 L689.6,462.6 L690.8,465.9 L691.9,469.2 L693.1,472.4 L694.3,475.5 L695.4,478.6 L696.6,481.6 L697.7,484.5 L698.9,487.4 L700.0,490.2 L701.2,493.0 L702.4,495.7 L703.5,498.4 L704.7,501.1 L705.8,503.7 L707.0,506.2 L708.2,508.7 L709.3,511.2 L710.5,513.6 L711.6,516.0 L712.8,518.4 L713.9,520.7 L715.1,523.0 L716.3,525.3 L717.4,527.6 L718.6,529.8 L719.7,532.0 L720.9,534.2 L722.0,536.4 L723.2,538.6 L724.4,540.7 L725.5,542.9 L726.7,545.0 L727.8,547.1 L729.0,549.2 L730.1,551.2 L731.3,553.3 L732.5,555.3 L733.6,557.4 L734.8,559.4 L735.9,561.4 L737.1,563.4 L738.2,565.4 L739.4,567.3 L740.0,567.7 L740.6,566.7 L741.7,564.8 L742.9,562.8 L744.0,560.9 L745.2,559.0 L746.3,557.1 L747.5,555.2 L748.7,553.3 L749.8,551.4 L751.0,549.6 L752.1,547.7 L753.3,545.9 L754.4,544.0 L755.6,542.2 L756.8,540.4 L757.9,538.6 L759.1,536.8 L760.2,535.0 L761.4,533.2 L762.5,531.4 L763.7,529.6 L764.9,527.8 L766.0,526.0 L767.2,524.3 L768.3,522.5 L769.5,520.7 L770.6,519.0 L771.8,517.2 L773.0,515.5 L774.1,513.7 L775.3,512.0 L776.4,510.3 L777.6,508.5 L778.8,506.8 L779.9,505.1 L781.1,503.3 L782.2,501.6 L783.4,499.9 L784.5,498.1 L785.7,496.4 L786.9,494.7 L788.0,493.0 L789.2,491.2 L790.3,489.5 L791.5,487.8 L792.6,486.0 L793.8,484.3 L795.0,482.6 L796.1,480.8 L797.3,479.1 L798.4,477.3 L799.6,475.6 L800.7,473.8 L801.9,472.1 L803.1,470.3 L804.2,468.5 L805.4,466.8 L806.5,465.0 L807.7,463.2 L808.8,461.4 L810.0,459.6 L811.2,457.8 L812.3,456.0 L813.5,454.2 L814.6,452.4"/>
</g>
<g clip-path="url(#cp)">
<path class="cv" stroke="#515151" d="M874.8,502.6 L876.0,502.0 L877.1,501.3 L878.3,500.6 L879.4,499.9 L880.6,499.1 L881.7,498.4 L882.9,497.6 L884.1,496.9 L885.2,496.1 L886.4,495.3 L887.5,494.5 L888.7,493.8 L889.8,493.0 L891.0,492.2 L892.2,491.3 L893.3,490.5 L894.5,489.6 L895.6,488.7 L896.8,487.8 L897.9,486.9 L899.1,486.0 L900.3,485.0 L901.4,484.1 L902.6,483.2 L903.7,482.2 L904.9,481.3 L906.0,480.4 L907.2,479.5 L908.4,478.5 L909.5,477.6 L910.7,476.6 L911.8,475.7 L913.0,474.7 L914.1,473.7 L915.3,472.7 L916.5,471.7 L917.6,470.7 L918.8,469.7 L919.9,468.7 L921.1,467.7 L922.2,466.7 L923.4,465.6 L924.6,464.6 L925.7,463.6 L926.9,462.5 L928.0,461.5 L929.2,460.3 L930.4,459.2 L931.5,458.0 L932.7,456.8 L933.8,455.6 L935.0,454.4 L936.1,453.2 L937.3,451.9 L938.5,450.6 L939.6,449.4 L940.8,448.0 L941.9,446.8 L943.1,445.5 L944.2,444.2 L945.4,443.0 L946.6,441.7 L947.7,440.5 L948.9,439.2 L950.0,437.9 L951.2,436.6 L952.3,435.2 L953.5,433.9 L954.7,432.5 L955.8,431.2 L957.0,429.8 L958.1,428.4 L959.3,427.0 L960.4,425.6 L961.6,424.1 L962.8,422.5 L963.9,421.0 L965.1,419.3 L966.2,417.6 L967.4,415.8 L968.5,414.1 L969.7,412.2 L970.9,410.4 L972.0,408.5 L973.2,406.6 L974.3,404.7 L975.5,402.8 L976.6,400.9 L977.8,398.9 L979.0,397.0 L980.1,395.2 L981.3,393.4 L982.4,391.5 L983.6,389.7 L984.7,387.8 L985.9,385.8 L987.1,383.9 L988.2,381.8 L989.4,379.6 L990.5,377.3 L991.7,374.9 L992.8,372.5 L994.0,370.1 L995.2,367.6 L996.3,365.1 L997.5,362.6 L998.6,360.0 L999.8,357.4 L1001.0,354.8 L1002.1,352.1 L1003.3,349.4 L1004.4,346.6 L1005.6,343.8 L1006.7,341.0 L1007.9,338.1 L1009.1,335.2 L1010.2,332.3 L1011.4,329.2 L1012.5,326.2 L1013.7,323.0 L1014.8,319.8 L1016.0,316.5 L1017.2,313.2 L1018.3,309.7 L1019.5,306.2 L1020.6,302.6 L1021.8,298.8 L1022.9,295.0 L1024.1,291.1 L1025.3,287.1 L1026.4,282.9 L1027.6,278.6 L1028.7,274.2 L1029.9,269.7 L1031.0,265.0 L1032.2,260.2 L1033.4,255.4 L1034.5,250.4 L1035.7,245.4 L1036.8,240.3 L1038.0,235.0 L1039.1,229.7 L1040.3,224.2 L1041.5,218.6 L1042.6,212.9 L1043.8,207.0 L1044.9,201.2 L1046.1,195.3 L1047.2,189.5 L1048.4,183.6 L1049.6,177.8 L1050.7,171.9 L1051.9,166.0 L1053.0,160.3 L1054.2,154.8 L1055.3,149.4 L1056.5,144.1 L1057.7,138.6 L1058.8,133.1 L1060.0,127.2 L1061.1,121.3 L1062.3,115.5 L1063.5,110.0 L1064.6,104.8 L1065.8,99.9 L1066.9,95.4 L1068.1,91.2 L1069.2,87.5 L1070.4,84.2 L1071.6,81.4 L1072.7,79.0 L1073.9,77.2 L1075.0,76.0 L1076.2,75.2 L1077.3,75.0 L1078.5,75.4 L1079.7,76.4 L1080.8,78.0 L1082.0,80.2 L1083.1,83.1 L1084.3,86.6 L1085.4,90.6 L1086.6,95.2 L1087.8,100.7 L1088.9,106.9 L1090.1,113.3 L1091.2,119.4 L1092.4,125.0 L1093.5,130.8 L1094.7,136.8 L1095.9,143.0 L1097.0,149.4 L1098.2,156.0 L1099.3,162.7 L1100.5,169.5 L1101.6,176.5 L1102.8,183.5 L1104.0,190.7 L1105.1,197.9 L1106.3,205.2 L1107.4,212.5 L1108.6,219.5 L1109.7,226.1 L1110.9,232.4 L1112.1,238.7 L1113.2,245.0 L1114.4,251.5 L1115.5,258.4 L1116.7,265.4 L1117.8,272.3 L1119.0,279.1 L1120.2,285.5 L1121.3,291.7 L1122.5,297.7 L1123.6,303.4 L1124.8,308.5 L1125.9,313.1 L1127.1,317.9 L1128.3,323.0 L1129.4,328.1 L1130.6,333.3 L1131.7,338.8 L1132.9,344.5 L1134.1,350.0 L1135.2,355.4 L1136.4,360.6 L1137.5,365.6 L1138.7,370.3 L1139.8,374.4 L1141.0,378.1 L1142.2,381.7 L1143.3,385.5 L1144.5,389.5 L1145.6,393.6 L1146.8,397.6 L1147.9,401.5 L1149.1,405.4 L1150.3,409.1 L1151.4,412.7 L1152.6,416.3 L1153.7,419.9 L1154.9,423.5 L1156.0,427.0 L1157.2,430.4 L1158.4,433.7 L1159.5,436.8 L1160.7,439.8 L1161.8,442.7 L1163.0,445.4 L1164.1,447.9 L1165.3,450.4 L1166.5,452.8 L1167.6,455.2 L1168.8,457.6 L1169.9,459.9 L1171.1,462.3 L1172.2,464.8 L1173.4,467.3 L1174.6,469.7 L1175.7,472.1 L1176.9,474.5 L1178.0,476.8 L1179.2,479.1 L1180.3,481.4 L1181.5,483.7 L1182.7,486.0 L1183.8,488.2 L1185.0,490.4 L1186.1,492.5 L1187.3,494.7 L1188.4,496.8 L1189.6,499.0 L1190.8,501.1 L1191.9,503.2 L1193.1,505.3 L1194.2,507.5 L1195.4,509.5 L1196.6,511.6 L1197.7,513.7 L1198.9,515.7 L1200.0,517.7 L1201.2,519.7 L1202.3,521.6 L1203.5,523.5 L1204.7,525.5 L1205.8,527.4 L1207.0,529.2 L1208.1,531.1 L1209.3,533.0 L1210.4,534.8 L1211.6,536.6 L1212.8,538.4 L1213.9,540.2 L1215.1,542.0 L1216.2,543.8 L1217.4,545.6 L1218.5,547.3 L1219.7,549.1 L1220.9,550.8 L1222.0,552.6 L1223.2,554.3 L1224.3,556.0 L1225.5,557.7 L1226.6,559.4 L1227.8,561.1 L1229.0,562.8 L1230.1,564.5 L1231.3,566.1 L1231.9,567.0 L1232.4,567.8 L1233.0,567.4 L1233.6,566.6 L1234.7,564.9 L1235.9,563.3 L1237.1,561.7 L1238.2,560.0 L1239.4,558.4 L1240.5,556.8 L1241.7,555.1 L1242.8,553.5 L1244.0,551.9 L1245.2,550.2 L1246.3,548.6 L1247.5,546.9 L1248.6,545.3 L1249.8,543.6 L1250.9,541.9 L1252.1,540.3 L1253.3,538.6 L1254.4,536.9 L1255.6,535.2 L1256.7,533.5 L1257.9,531.8 L1259.0,530.0 L1260.2,528.3 L1261.4,526.5 L1262.5,524.8 L1263.7,523.0 L1264.8,521.2 L1266.0,519.4 L1267.2,517.6 L1268.3,515.7 L1269.5,513.9 L1270.6,512.1 L1271.8,510.2 L1272.9,508.3 L1274.1,506.4 L1275.3,504.5 L1276.4,502.5 L1277.6,500.5 L1278.7,498.5 L1279.9,496.5 L1281.0,494.4 L1282.2,492.4 L1283.4,490.2 L1284.5,488.1 L1285.7,486.0 L1286.8,483.8 L1288.0,481.6 L1289.1,479.3 L1290.3,477.0 L1291.5,474.7 L1292.6,472.4 L1293.8,470.1 L1294.9,467.7 L1296.1,465.3 L1297.2,462.8 L1298.4,460.3 L1299.6,457.8 L1300.7,455.3 L1301.9,452.7 L1303.0,450.1 L1304.2,447.4 L1305.3,444.7 L1306.5,442.0 L1307.7,439.2 L1308.8,436.4 L1310.0,433.5 L1311.1,430.6 L1312.3,427.7 L1313.4,424.7 L1314.6,421.7 L1315.8,418.5 L1316.9,415.0 L1318.1,411.3 L1319.2,407.4 L1320.4,403.6 L1321.5,399.9 L1322.7,396.3 L1323.9,392.5 L1325.0,388.7 L1326.2,384.8 L1327.3,380.8 L1328.5,376.6 L1329.7,372.3 L1330.8,367.9 L1332.0,363.3 L1333.1,358.5 L1334.3,353.5 L1335.4,348.3 L1336.6,342.9 L1337.8,337.3 L1338.9,331.5 L1340.1,325.6 L1341.2,319.5 L1342.4,313.1 L1343.5,306.5 L1344.7,300.1 L1345.9,293.8 L1347.0,287.5 L1348.2,280.7 L1349.3,273.4 L1350.5,266.0 L1351.6,258.4 L1352.8,250.6 L1354.0,242.7 L1355.1,234.6 L1356.3,226.3 L1357.4,217.9 L1358.6,209.4 L1359.7,200.7 L1360.9,191.9 L1362.1,183.1 L1363.2,174.3 L1364.4,165.5 L1365.5,157.3 L1366.7,149.7 L1367.8,142.5 L1369.0,134.9 L1370.2,127.0 L1371.3,119.1 L1372.5,111.3 L1373.6,104.2 L1374.8,98.2 L1375.9,93.7 L1377.1,91.2 L1378.3,90.5 L1379.4,91.3 L1380.6,93.8 L1381.7,97.7 L1382.9,103.1 L1384.0,109.7 L1385.2,117.3 L1386.4,125.9 L1387.5,135.2 L1388.7,145.1 L1389.8,155.0 L1391.0,164.7 L1392.1,174.5 L1393.3,184.4 L1394.5,194.8 L1395.6,205.7 L1396.8,216.8 L1397.9,227.9 L1399.1,238.8 L1400.3,249.5 L1401.4,259.9 L1402.6,269.9 L1403.7,279.4 L1404.9,286.8 L1406.0,293.1 L1407.2,299.8 L1408.4,307.8 L1409.5,315.6 L1410.7,323.0 L1411.8,330.2 L1413.0,337.0 L1414.1,343.5 L1415.3,349.8 L1416.5,355.8 L1417.6,361.6 L1418.8,367.2 L1419.9,372.6 L1421.1,377.7 L1422.2,382.8 L1423.4,387.6 L1424.6,392.3 L1425.7,396.9 L1426.9,401.4 L1428.0,405.7 L1429.2,410.0 L1430.3,414.1 L1431.5,418.1 L1432.7,422.1 L1433.8,425.9 L1435.0,429.7 L1436.1,433.4 L1437.3,437.0 L1438.4,440.5 L1439.6,444.0 L1440.8,447.4 L1441.9,450.7 L1443.1,454.0 L1444.2,457.2 L1445.4,460.4 L1446.5,463.5 L1447.7,466.5 L1448.9,469.5 L1450.0,472.5 L1451.2,475.4 L1452.3,478.2 L1453.5,481.1 L1454.6,483.8 L1455.8,486.6 L1457.0,489.3 L1458.1,492.0 L1459.3,494.6 L1460.4,497.2 L1461.6,499.8 L1462.8,502.3 L1463.9,504.8 L1465.1,507.2 L1466.2,509.6 L1467.4,512.0 L1468.5,514.3 L1469.7,516.6 L1470.9,518.9 L1472.0,521.1 L1473.2,523.4 L1474.3,525.6 L1475.5,527.7 L1476.6,529.9 L1477.8,532.0 L1479.0,534.2 L1480.1,536.3 L1481.3,538.4 L1482.4,540.5 L1483.6,542.6 L1484.7,544.6 L1485.9,546.7 L1487.1,548.7 L1488.2,550.8 L1489.4,552.8 L1490.5,554.8 L1491.7,556.9 L1492.8,558.9 L1494.0,560.9 L1495.2,562.9 L1496.3,564.9 L1497.5,566.8 L1498.1,567.8 L1498.6,567.2 L1499.8,565.3 L1500.9,563.3 L1502.1,561.4 L1503.3,559.5 L1504.4,557.5 L1505.6,555.6 L1506.7,553.7 L1507.9,551.9 L1509.0,550.0 L1510.2,548.1 L1511.4,546.3 L1512.5,544.4 L1513.7,542.6 L1514.8,540.7 L1516.0,538.9 L1517.1,537.1 L1518.3,535.2 L1519.5,533.4 L1520.6,531.6 L1521.8,529.8 L1522.9,528.0 L1524.1,526.2 L1525.2,524.4 L1526.4,522.7 L1527.6,520.9 L1528.7,519.1 L1529.9,517.3 L1531.0,515.6 L1532.2,513.8 L1533.4,512.0 L1534.5,510.3 L1535.7,508.5 L1536.8,506.7 L1538.0,505.0 L1539.1,503.2 L1540.3,501.5 L1541.5,499.7 L1542.6,498.0 L1543.8,496.2 L1544.9,494.5 L1546.1,492.7 L1547.2,491.0 L1548.4,489.2 L1549.6,487.4 L1550.7,485.7 L1551.9,483.9 L1553.0,482.2 L1554.2,480.4 L1555.3,478.6 L1556.5,476.8 L1557.7,475.1 L1558.8,473.3 L1560.0,471.5 L1561.1,469.7 L1562.3,467.9 L1563.4,466.1 L1564.6,464.3 L1565.8,462.5 L1566.9,460.7 L1568.1,458.8 L1569.2,457.0"/>
<path class="cv" stroke="#F14040" d="M874.8,502.6 L876.0,502.0 L877.1,501.3 L878.3,500.6 L879.4,499.9 L880.6,499.1 L881.7,498.4 L882.9,497.6 L884.1,496.9 L885.2,496.1 L886.4,495.3 L887.5,494.5 L888.7,493.8 L889.8,493.0 L891.0,492.2 L892.2,491.3 L893.3,490.5 L894.5,489.6 L895.6,488.7 L896.8,487.8 L897.9,486.9 L899.1,486.0 L900.3,485.0 L901.4,484.1 L902.6,483.2 L903.7,482.2 L904.9,481.3 L906.0,480.4 L907.2,479.5 L908.4,478.5 L909.5,477.6 L910.7,476.6 L911.8,475.7 L913.0,474.7 L914.1,473.7 L915.3,472.7 L916.5,471.7 L917.6,470.7 L918.8,469.7 L919.9,468.7 L921.1,467.7 L922.2,466.7 L923.4,465.6 L924.6,464.6 L925.7,463.6 L926.9,462.5 L928.0,461.5 L929.2,460.3 L930.4,459.2 L931.5,458.0 L932.7,456.8 L933.8,455.6 L935.0,454.4 L936.1,453.2 L937.3,451.9 L938.5,450.6 L939.6,449.4 L940.8,448.0 L941.9,446.8 L943.1,445.5 L944.2,444.2 L945.4,443.0 L946.6,441.7 L947.7,440.5 L948.9,439.2 L950.0,437.9 L951.2,436.6 L952.3,435.2 L953.5,433.9 L954.7,432.5 L955.8,431.2 L957.0,429.8 L958.1,428.4 L959.3,427.0 L960.4,425.6 L961.6,424.1 L962.8,422.5 L963.9,421.0 L965.1,419.3 L966.2,417.6 L967.4,415.8 L968.5,414.1 L969.7,412.2 L970.9,410.4 L972.0,408.5 L973.2,406.6 L974.3,404.7 L975.5,402.8 L976.6,400.9 L977.8,398.9 L979.0,397.0 L980.1,395.2 L981.3,393.4 L982.4,391.5 L983.6,389.7 L984.7,387.8 L985.9,385.8 L987.1,383.9 L988.2,381.8 L989.4,379.6 L990.5,377.3 L991.7,374.9 L992.8,372.5 L994.0,370.1 L995.2,367.6 L996.3,365.1 L997.5,362.6 L998.6,360.0 L999.8,357.4 L1001.0,354.8 L1002.1,352.1 L1003.3,349.4 L1004.4,346.6 L1005.6,343.8 L1006.7,341.0 L1007.9,338.1 L1009.1,335.2 L1010.2,332.3 L1011.4,329.3 L1012.5,326.2 L1013.7,323.0 L1014.8,319.8 L1016.0,316.6 L1017.2,313.2 L1018.3,309.7 L1019.5,306.2 L1020.6,302.6 L1021.8,298.9 L1022.9,295.0 L1024.1,291.1 L1025.3,287.1 L1026.4,282.9 L1027.6,278.6 L1028.7,274.2 L1029.9,269.7 L1031.0,265.0 L1032.2,260.3 L1033.4,255.4 L1034.5,250.5 L1035.7,245.4 L1036.8,240.3 L1038.0,235.1 L1039.1,229.8 L1040.3,224.3 L1041.5,218.7 L1042.6,212.9 L1043.8,207.1 L1044.9,201.3 L1046.1,195.4 L1047.2,189.6 L1048.4,183.7 L1049.6,177.8 L1050.7,171.9 L1051.9,166.0 L1053.0,160.3 L1054.2,154.9 L1055.3,149.5 L1056.5,144.1 L1057.7,138.7 L1058.8,133.1 L1060.0,127.3 L1061.1,121.3 L1062.3,115.6 L1063.5,110.1 L1064.6,104.8 L1065.8,100.0 L1066.9,95.4 L1068.1,91.3 L1069.2,87.5 L1070.4,84.2 L1071.6,81.4 L1072.7,79.0 L1073.9,77.2 L1075.0,76.0 L1076.2,75.2 L1077.3,75.0 L1078.5,75.4 L1079.7,76.3 L1080.8,77.8 L1082.0,79.9 L1083.1,82.6 L1084.3,85.7 L1085.4,89.4 L1086.6,93.5 L1087.8,98.3 L1088.9,103.8 L1090.1,109.8 L1091.2,115.8 L1092.4,121.2 L1093.5,126.5 L1094.7,132.1 L1095.9,138.0 L1097.0,144.0 L1098.2,150.1 L1099.3,156.5 L1100.5,162.9 L1101.6,169.5 L1102.8,176.2 L1104.0,183.0 L1105.1,189.9 L1106.3,196.8 L1107.4,203.8 L1108.6,210.8 L1109.7,217.6 L1110.9,224.1 L1112.1,230.2 L1113.2,236.3 L1114.4,242.3 L1115.5,248.4 L1116.7,254.9 L1117.8,261.6 L1119.0,268.3 L1120.2,274.8 L1121.3,281.1 L1122.5,287.2 L1123.6,293.0 L1124.8,298.6 L1125.9,304.0 L1127.1,308.7 L1128.3,313.1 L1129.4,317.6 L1130.6,322.5 L1131.7,327.3 L1132.9,332.2 L1134.1,337.4 L1135.2,342.9 L1136.4,348.3 L1137.5,353.5 L1138.7,358.6 L1139.8,363.5 L1141.0,368.1 L1142.2,372.3 L1143.3,376.1 L1144.5,379.6 L1145.6,383.1 L1146.8,386.9 L1147.9,390.9 L1149.1,394.9 L1150.3,398.8 L1151.4,402.6 L1152.6,406.4 L1153.7,410.0 L1154.9,413.6 L1156.0,417.2 L1157.2,420.8 L1158.4,424.3 L1159.5,427.8 L1160.7,431.1 L1161.8,434.4 L1163.0,437.5 L1164.1,440.5 L1165.3,443.3 L1166.5,445.9 L1167.6,448.5 L1168.8,450.9 L1169.9,453.3 L1171.1,455.7 L1172.2,458.0 L1173.4,460.4 L1174.6,462.8 L1175.7,465.2 L1176.9,467.7 L1178.0,470.1 L1179.2,472.5 L1180.3,474.8 L1181.5,477.2 L1182.7,479.5 L1183.8,481.8 L1185.0,484.0 L1186.1,486.3 L1187.3,488.5 L1188.4,490.6 L1189.6,492.8 L1190.8,494.9 L1191.9,497.0 L1193.1,499.2 L1194.2,501.3 L1195.4,503.4 L1196.6,505.5 L1197.7,507.6 L1198.9,509.7 L1200.0,511.8 L1201.2,513.8 L1202.3,515.8 L1203.5,517.8 L1204.7,519.7 L1205.8,521.7 L1207.0,523.6 L1208.1,525.5 L1209.3,527.4 L1210.4,529.3 L1211.6,531.1 L1212.8,533.0 L1213.9,534.8 L1215.1,536.6 L1216.2,538.4 L1217.4,540.2 L1218.5,542.0 L1219.7,543.8 L1220.9,545.5 L1222.0,547.3 L1223.2,549.1 L1224.3,550.8 L1225.5,552.5 L1226.6,554.3 L1227.8,556.0 L1229.0,557.7 L1230.1,559.4 L1231.3,561.1 L1232.4,562.8 L1233.6,564.5 L1234.7,566.1 L1235.3,567.0 L1235.9,567.8 L1236.5,567.4 L1237.1,566.6 L1238.2,564.9 L1239.4,563.3 L1240.5,561.6 L1241.7,560.0 L1242.8,558.3 L1244.0,556.7 L1245.2,555.0 L1246.3,553.4 L1247.5,551.7 L1248.6,550.1 L1249.8,548.4 L1250.9,546.8 L1252.1,545.1 L1253.3,543.4 L1254.4,541.7 L1255.6,540.0 L1256.7,538.3 L1257.9,536.6 L1259.0,534.9 L1260.2,533.2 L1261.4,531.5 L1262.5,529.7 L1263.7,527.9 L1264.8,526.2 L1266.0,524.4 L1267.2,522.6 L1268.3,520.8 L1269.5,518.9 L1270.6,517.1 L1271.8,515.2 L1272.9,513.4 L1274.1,511.5 L1275.3,509.6 L1276.4,507.7 L1277.6,505.8 L1278.7,503.8 L1279.9,501.8 L1281.0,499.8 L1282.2,497.8 L1283.4,495.7 L1284.5,493.6 L1285.7,491.5 L1286.8,489.4 L1288.0,487.2 L1289.1,485.0 L1290.3,482.8 L1291.5,480.6 L1292.6,478.3 L1293.8,476.0 L1294.9,473.7 L1296.1,471.3 L1297.2,468.9 L1298.4,466.5 L1299.6,464.1 L1300.7,461.6 L1301.9,459.1 L1303.0,456.5 L1304.2,454.0 L1305.3,451.4 L1306.5,448.7 L1307.7,446.0 L1308.8,443.3 L1310.0,440.5 L1311.1,437.7 L1312.3,434.9 L1313.4,432.0 L1314.6,429.0 L1315.8,426.0 L1316.9,423.0 L1318.1,419.9 L1319.2,416.5 L1320.4,412.9 L1321.5,409.0 L1322.7,405.1 L1323.9,401.3 L1325.0,397.6 L1326.2,393.9 L1327.3,390.1 L1328.5,386.2 L1329.7,382.2 L1330.8,378.0 L1332.0,373.7 L1333.1,369.3 L1334.3,364.7 L1335.4,359.9 L1336.6,354.9 L1337.8,349.8 L1338.9,344.4 L1340.1,338.8 L1341.2,333.1 L1342.4,327.2 L1343.5,321.1 L1344.7,314.8 L1345.9,308.2 L1347.0,301.7 L1348.2,295.4 L1349.3,289.1 L1350.5,282.4 L1351.6,275.3 L1352.8,267.9 L1354.0,260.4 L1355.1,252.8 L1356.3,245.1 L1357.4,237.2 L1358.6,229.2 L1359.7,221.1 L1360.9,212.9 L1362.1,204.6 L1363.2,196.2 L1364.4,187.7 L1365.5,179.8 L1366.7,172.3 L1367.8,165.3 L1369.0,159.2 L1370.2,153.2 L1371.3,146.3 L1372.5,137.6 L1373.6,127.8 L1374.8,118.1 L1375.9,109.6 L1377.1,103.1 L1378.3,98.1 L1379.4,94.2 L1380.6,91.5 L1381.7,90.2 L1382.9,90.2 L1384.0,91.7 L1385.2,94.8 L1386.4,99.5 L1387.5,105.6 L1388.7,113.1 L1389.8,122.0 L1391.0,132.0 L1392.1,142.8 L1393.3,153.4 L1394.5,163.5 L1395.6,173.1 L1396.8,182.8 L1397.9,192.9 L1399.1,203.5 L1400.3,214.4 L1401.4,225.4 L1402.6,236.2 L1403.7,246.8 L1404.9,257.2 L1406.0,267.2 L1407.2,276.6 L1408.4,284.6 L1409.5,290.9 L1410.7,297.3 L1411.8,305.0 L1413.0,313.1 L1414.1,321.0 L1415.3,328.5 L1416.5,335.7 L1417.6,342.7 L1418.8,349.4 L1419.9,355.9 L1421.1,362.1 L1422.2,368.1 L1423.4,373.9 L1424.6,379.4 L1425.7,384.8 L1426.9,390.0 L1428.0,395.0 L1429.2,399.8 L1430.3,404.5 L1431.5,409.0 L1432.7,413.4 L1433.8,417.7 L1435.0,421.9 L1436.1,426.0 L1437.3,430.0 L1438.4,433.9 L1439.6,437.7 L1440.8,441.3 L1441.9,444.9 L1443.1,448.5 L1444.2,451.9 L1445.4,455.3 L1446.5,458.6 L1447.7,461.8 L1448.9,465.0 L1450.0,468.1 L1451.2,471.1 L1452.3,474.1 L1453.5,477.1 L1454.6,480.0 L1455.8,482.8 L1457.0,485.7 L1458.1,488.4 L1459.3,491.1 L1460.4,493.8 L1461.6,496.4 L1462.8,499.1 L1463.9,501.7 L1465.1,504.3 L1466.2,506.8 L1467.4,509.3 L1468.5,511.8 L1469.7,514.2 L1470.9,516.6 L1472.0,519.0 L1473.2,521.3 L1474.3,523.6 L1475.5,525.9 L1476.6,528.2 L1477.8,530.5 L1479.0,532.7 L1480.1,534.9 L1481.3,537.1 L1482.4,539.3 L1483.6,541.5 L1484.7,543.7 L1485.9,545.9 L1487.1,548.2 L1488.2,550.5 L1489.4,552.8 L1490.5,555.0 L1491.7,557.2 L1492.8,559.4 L1494.0,561.5 L1495.2,563.7 L1496.3,565.8 L1496.9,566.8 L1497.5,567.8 L1498.1,567.2 L1498.6,566.2 L1499.8,564.2 L1500.9,562.2 L1502.1,560.2 L1503.3,558.2 L1504.4,556.2 L1505.6,554.2 L1506.7,552.2 L1507.9,550.2 L1509.0,548.2 L1510.2,546.2 L1511.4,544.2 L1512.5,542.2 L1513.7,540.1 L1514.8,538.1 L1516.0,536.1 L1517.1,534.1 L1518.3,532.1 L1519.5,530.1 L1520.6,528.1 L1521.8,526.1 L1522.9,524.1 L1524.1,522.1 L1525.2,520.1 L1526.4,518.1 L1527.6,516.1 L1528.7,514.1 L1529.9,512.1 L1531.0,510.0 L1532.2,508.0 L1533.4,506.0 L1534.5,504.0 L1535.7,502.0 L1536.8,499.9 L1538.0,497.9 L1539.1,495.9 L1540.3,493.8 L1541.5,491.8 L1542.6,489.7 L1543.8,487.7 L1544.9,485.6 L1546.1,483.6 L1547.2,481.5 L1548.4,479.4 L1549.6,477.4 L1550.7,475.3 L1551.9,473.2 L1553.0,471.1 L1554.2,469.0 L1555.3,466.9 L1556.5,464.8 L1557.7,462.6 L1558.8,460.5 L1560.0,458.3 L1561.1,456.2 L1562.3,454.0 L1563.4,451.8 L1564.6,449.7 L1565.8,447.5 L1566.9,445.3 L1568.1,443.0 L1569.2,440.8"/>
<path class="cv" stroke="#1A6FDF" d="M874.8,502.6 L876.0,502.0 L877.1,501.3 L878.3,500.6 L879.4,499.9 L880.6,499.1 L881.7,498.4 L882.9,497.6 L884.1,496.9 L885.2,496.1 L886.4,495.3 L887.5,494.5 L888.7,493.8 L889.8,493.0 L891.0,492.2 L892.2,491.3 L893.3,490.5 L894.5,489.6 L895.6,488.7 L896.8,487.8 L897.9,486.9 L899.1,486.0 L900.3,485.0 L901.4,484.1 L902.6,483.2 L903.7,482.2 L904.9,481.3 L906.0,480.4 L907.2,479.5 L908.4,478.5 L909.5,477.6 L910.7,476.6 L911.8,475.7 L913.0,474.7 L914.1,473.7 L915.3,472.7 L916.5,471.7 L917.6,470.7 L918.8,469.7 L919.9,468.7 L921.1,467.7 L922.2,466.7 L923.4,465.6 L924.6,464.6 L925.7,463.6 L926.9,462.5 L928.0,461.5 L929.2,460.3 L930.4,459.2 L931.5,458.0 L932.7,456.8 L933.8,455.6 L935.0,454.4 L936.1,453.2 L937.3,451.9 L938.5,450.6 L939.6,449.4 L940.8,448.0 L941.9,446.8 L943.1,445.5 L944.2,444.2 L945.4,443.0 L946.6,441.7 L947.7,440.5 L948.9,439.2 L950.0,437.9 L951.2,436.6 L952.3,435.2 L953.5,433.9 L954.7,432.5 L955.8,431.2 L957.0,429.8 L958.1,428.4 L959.3,427.0 L960.4,425.6 L961.6,424.1 L962.8,422.5 L963.9,421.0 L965.1,419.3 L966.2,417.6 L967.4,415.8 L968.5,414.1 L969.7,412.2 L970.9,410.4 L972.0,408.5 L973.2,406.6 L974.3,404.7 L975.5,402.8 L976.6,400.9 L977.8,398.9 L979.0,397.0 L980.1,395.2 L981.3,393.4 L982.4,391.5 L983.6,389.7 L984.7,387.8 L985.9,385.8 L987.1,383.9 L988.2,381.8 L989.4,379.6 L990.5,377.3 L991.7,374.9 L992.8,372.5 L994.0,370.1 L995.2,367.6 L996.3,365.1 L997.5,362.6 L998.6,360.0 L999.8,357.4 L1001.0,354.8 L1002.1,352.1 L1003.3,349.4 L1004.4,346.6 L1005.6,343.8 L1006.7,341.0 L1007.9,338.1 L1009.1,335.2 L1010.2,332.3 L1011.4,329.2 L1012.5,326.2 L1013.7,323.0 L1014.8,319.8 L1016.0,316.5 L1017.2,313.2 L1018.3,309.7 L1019.5,306.2 L1020.6,302.6 L1021.8,298.8 L1022.9,295.0 L1024.1,291.1 L1025.3,287.1 L1026.4,282.9 L1027.6,278.6 L1028.7,274.2 L1029.9,269.7 L1031.0,265.0 L1032.2,260.2 L1033.4,255.4 L1034.5,250.4 L1035.7,245.4 L1036.8,240.3 L1038.0,235.0 L1039.1,229.7 L1040.3,224.2 L1041.5,218.6 L1042.6,212.9 L1043.8,207.0 L1044.9,201.2 L1046.1,195.3 L1047.2,189.5 L1048.4,183.6 L1049.6,177.8 L1050.7,171.9 L1051.9,166.0 L1053.0,160.3 L1054.2,154.8 L1055.3,149.4 L1056.5,144.1 L1057.7,138.6 L1058.8,133.1 L1060.0,127.2 L1061.1,121.3 L1062.3,115.5 L1063.5,110.0 L1064.6,104.8 L1065.8,99.9 L1066.9,95.4 L1068.1,91.2 L1069.2,87.5 L1070.4,84.2 L1071.6,81.4 L1072.7,79.0 L1073.9,77.2 L1075.0,76.0 L1076.2,75.2 L1077.3,75.0 L1078.5,75.4 L1079.7,76.4 L1080.8,78.0 L1082.0,80.2 L1083.1,83.1 L1084.3,86.6 L1085.4,90.6 L1086.6,95.2 L1087.8,100.7 L1088.9,106.9 L1090.1,113.4 L1091.2,119.4 L1092.4,125.0 L1093.5,130.8 L1094.7,136.8 L1095.9,143.0 L1097.0,149.4 L1098.2,156.0 L1099.3,162.7 L1100.5,169.5 L1101.6,176.5 L1102.8,183.6 L1104.0,190.7 L1105.1,197.9 L1106.3,205.2 L1107.4,212.5 L1108.6,219.5 L1109.7,226.1 L1110.9,232.4 L1112.1,238.6 L1113.2,244.9 L1114.4,251.5 L1115.5,258.3 L1116.7,265.3 L1117.8,272.2 L1119.0,279.0 L1120.2,285.4 L1121.3,291.6 L1122.5,297.6 L1123.6,303.3 L1124.8,308.3 L1125.9,313.0 L1127.1,317.7 L1128.3,322.8 L1129.4,327.9 L1130.6,333.0 L1131.7,338.5 L1132.9,344.2 L1134.1,349.7 L1135.2,355.1 L1136.4,360.2 L1137.5,365.2 L1138.7,369.9 L1139.8,374.0 L1141.0,377.7 L1142.2,381.3 L1143.3,385.0 L1144.5,389.0 L1145.6,393.1 L1146.8,397.1 L1147.9,401.0 L1149.1,404.8 L1150.3,408.5 L1151.4,412.1 L1152.6,415.7 L1153.7,419.3 L1154.9,422.9 L1156.0,426.3 L1157.2,429.7 L1158.4,433.0 L1159.5,436.2 L1160.7,439.2 L1161.8,442.1 L1163.0,444.8 L1164.1,447.3 L1165.3,449.8 L1166.5,452.2 L1167.6,454.6 L1168.8,456.9 L1169.9,459.3 L1171.1,461.7 L1172.2,464.1 L1173.4,466.5 L1174.6,469.0 L1175.7,471.4 L1176.9,473.7 L1178.0,476.1 L1179.2,478.4 L1180.3,480.7 L1181.5,482.9 L1182.7,485.2 L1183.8,487.4 L1185.0,489.6 L1186.1,491.7 L1187.3,493.9 L1188.4,496.0 L1189.6,498.1 L1190.8,500.2 L1191.9,502.4 L1193.1,504.5 L1194.2,506.6 L1195.4,508.7 L1196.6,510.8 L1197.7,512.8 L1198.9,514.8 L1200.0,516.8 L1201.2,518.8 L1202.3,520.7 L1203.5,522.7 L1204.7,524.6 L1205.8,526.5 L1207.0,528.4 L1208.1,530.2 L1209.3,532.1 L1210.4,533.9 L1211.6,535.7 L1212.8,537.6 L1213.9,539.4 L1215.1,541.1 L1216.2,542.9 L1217.4,544.7 L1218.5,546.5 L1219.7,548.2 L1220.9,550.0 L1222.0,551.7 L1223.2,553.4 L1224.3,555.2 L1225.5,556.9 L1226.6,558.6 L1227.8,560.3 L1229.0,562.0 L1230.1,563.6 L1231.3,565.3 L1232.4,567.0 L1233.0,567.8 L1233.6,567.4 L1234.7,565.8 L1235.9,564.1 L1237.1,562.5 L1238.2,560.8 L1239.4,559.2 L1240.5,557.6 L1241.7,555.9 L1242.8,554.3 L1244.0,552.6 L1245.2,551.0 L1246.3,549.4 L1247.5,547.7 L1248.6,546.0 L1249.8,544.4 L1250.9,542.7 L1252.1,541.0 L1253.3,539.3 L1254.4,537.7 L1255.6,535.9 L1256.7,534.2 L1257.9,532.5 L1259.0,530.8 L1260.2,529.0 L1261.4,527.3 L1262.5,525.5 L1263.7,523.7 L1264.8,521.9 L1266.0,520.1 L1267.2,518.3 L1268.3,516.5 L1269.5,514.6 L1270.6,512.8 L1271.8,510.9 L1272.9,509.0 L1274.1,507.1 L1275.3,505.2 L1276.4,503.2 L1277.6,501.2 L1278.7,499.2 L1279.9,497.2 L1281.0,495.1 L1282.2,493.0 L1283.4,490.9 L1284.5,488.8 L1285.7,486.6 L1286.8,484.4 L1288.0,482.2 L1289.1,479.9 L1290.3,477.7 L1291.5,475.4 L1292.6,473.0 L1293.8,470.7 L1294.9,468.3 L1296.1,465.8 L1297.2,463.4 L1298.4,460.9 L1299.6,458.4 L1300.7,455.8 L1301.9,453.2 L1303.0,450.6 L1304.2,447.9 L1305.3,445.2 L1306.5,442.5 L1307.7,439.7 L1308.8,436.9 L1310.0,434.0 L1311.1,431.1 L1312.3,428.1 L1313.4,425.1 L1314.6,422.1 L1315.8,418.9 L1316.9,415.5 L1318.1,411.7 L1319.2,407.9 L1320.4,404.0 L1321.5,400.2 L1322.7,396.6 L1323.9,392.9 L1325.0,389.1 L1326.2,385.1 L1327.3,381.1 L1328.5,376.9 L1329.7,372.6 L1330.8,368.2 L1332.0,363.5 L1333.1,358.7 L1334.3,353.7 L1335.4,348.5 L1336.6,343.1 L1337.8,337.5 L1338.9,331.7 L1340.1,325.8 L1341.2,319.6 L1342.4,313.2 L1343.5,306.6 L1344.7,300.1 L1345.9,293.8 L1347.0,287.4 L1348.2,280.5 L1349.3,273.2 L1350.5,265.7 L1351.6,258.0 L1352.8,250.1 L1354.0,242.1 L1355.1,233.9 L1356.3,225.5 L1357.4,217.0 L1358.6,208.3 L1359.7,199.4 L1360.9,190.4 L1362.1,181.4 L1363.2,172.4 L1364.4,163.5 L1365.5,155.1 L1366.7,147.3 L1367.8,139.9 L1369.0,132.1 L1370.2,124.0 L1371.3,115.9 L1372.5,107.9 L1373.6,100.5 L1374.8,94.4 L1375.9,89.8 L1377.1,87.3 L1378.3,86.7 L1379.4,87.4 L1380.6,89.5 L1381.7,92.8 L1382.9,97.2 L1384.0,102.7 L1385.2,109.2 L1386.4,116.5 L1387.5,124.7 L1388.7,133.6 L1389.8,143.1 L1391.0,152.5 L1392.1,161.9 L1393.3,171.3 L1394.5,180.9 L1395.6,191.0 L1396.8,201.6 L1397.9,212.8 L1399.1,224.1 L1400.3,235.4 L1401.4,246.4 L1402.6,257.2 L1403.7,267.6 L1404.9,277.4 L1406.0,285.5 L1407.2,292.0 L1408.4,298.8 L1409.5,307.1 L1410.7,315.1 L1411.8,322.8 L1413.0,330.0 L1414.1,336.9 L1415.3,343.4 L1416.5,349.7 L1417.6,355.6 L1418.8,361.3 L1419.9,366.8 L1421.1,372.0 L1422.2,377.1 L1423.4,382.0 L1424.6,386.8 L1425.7,391.4 L1426.9,395.8 L1428.0,400.2 L1429.2,404.4 L1430.3,408.5 L1431.5,412.4 L1432.7,416.3 L1433.8,420.0 L1435.0,423.6 L1436.1,427.2 L1437.3,430.6 L1438.4,434.0 L1439.6,437.3 L1440.8,440.5 L1441.9,443.6 L1443.1,446.7 L1444.2,449.7 L1445.4,452.7 L1446.5,455.6 L1447.7,458.4 L1448.9,461.2 L1450.0,464.0 L1451.2,466.7 L1452.3,469.4 L1453.5,472.1 L1454.6,474.7 L1455.8,477.3 L1457.0,479.9 L1458.1,482.4 L1459.3,484.9 L1460.4,487.4 L1461.6,489.8 L1462.8,492.2 L1463.9,494.6 L1465.1,497.0 L1466.2,499.3 L1467.4,501.7 L1468.5,504.0 L1469.7,506.2 L1470.9,508.5 L1472.0,510.7 L1473.2,512.9 L1474.3,515.1 L1475.5,517.2 L1476.6,519.3 L1477.8,521.4 L1479.0,523.5 L1480.1,525.6 L1481.3,527.6 L1482.4,529.7 L1483.6,531.7 L1484.7,533.8 L1485.9,535.8 L1487.1,537.8 L1488.2,539.9 L1489.4,541.9 L1490.5,543.9 L1491.7,546.0 L1492.8,548.0 L1494.0,550.0 L1495.2,552.0 L1496.3,554.0 L1497.5,556.0 L1498.6,558.0 L1499.8,559.9 L1500.9,561.9 L1502.1,563.9 L1503.3,565.8 L1503.8,566.8 L1504.4,567.8 L1505.0,567.2 L1505.6,566.3 L1506.7,564.3 L1507.9,562.4 L1509.0,560.5 L1510.2,558.6 L1511.4,556.7 L1512.5,554.8 L1513.7,553.0 L1514.8,551.1 L1516.0,549.3 L1517.1,547.4 L1518.3,545.6 L1519.5,543.8 L1520.6,542.0 L1521.8,540.2 L1522.9,538.4 L1524.1,536.6 L1525.2,534.8 L1526.4,533.1 L1527.6,531.3 L1528.7,529.6 L1529.9,527.8 L1531.0,526.1 L1532.2,524.3 L1533.4,522.6 L1534.5,520.9 L1535.7,519.1 L1536.8,517.4 L1538.0,515.7 L1539.1,514.0 L1540.3,512.3 L1541.5,510.6 L1542.6,508.9 L1543.8,507.2 L1544.9,505.5 L1546.1,503.8 L1547.2,502.1 L1548.4,500.4 L1549.6,498.7 L1550.7,497.1 L1551.9,495.4 L1553.0,493.7 L1554.2,492.0 L1555.3,490.3 L1556.5,488.6 L1557.7,486.9 L1558.8,485.2 L1560.0,483.5 L1561.1,481.8 L1562.3,480.1 L1563.4,478.4 L1564.6,476.7 L1565.8,475.0 L1566.9,473.3 L1568.1,471.6 L1569.2,469.9"/>
<path class="cv" stroke="#37AD6B" d="M874.8,502.5 L876.0,501.8 L877.1,501.1 L878.3,500.4 L879.4,499.7 L880.6,498.9 L881.7,498.2 L882.9,497.4 L884.1,496.7 L885.2,495.9 L886.4,495.1 L887.5,494.4 L888.7,493.6 L889.8,492.8 L891.0,492.0 L892.2,491.1 L893.3,490.3 L894.5,489.4 L895.6,488.5 L896.8,487.6 L897.9,486.7 L899.1,485.8 L900.3,484.9 L901.4,483.9 L902.6,483.0 L903.7,482.1 L904.9,481.2 L906.0,480.2 L907.2,479.3 L908.4,478.4 L909.5,477.4 L910.7,476.5 L911.8,475.5 L913.0,474.5 L914.1,473.5 L915.3,472.5 L916.5,471.5 L917.6,470.5 L918.8,469.5 L919.9,468.5 L921.1,467.5 L922.2,466.5 L923.4,465.5 L924.6,464.5 L925.7,463.5 L926.9,462.4 L928.0,461.3 L929.2,460.2 L930.4,459.1 L931.5,457.9 L932.7,456.7 L933.8,455.5 L935.0,454.3 L936.1,453.1 L937.3,451.8 L938.5,450.5 L939.6,449.2 L940.8,447.9 L941.9,446.6 L943.1,445.4 L944.2,444.1 L945.4,442.9 L946.6,441.6 L947.7,440.4 L948.9,439.1 L950.0,437.8 L951.2,436.5 L952.3,435.1 L953.5,433.8 L954.7,432.4 L955.8,431.1 L957.0,429.7 L958.1,428.3 L959.3,426.9 L960.4,425.5 L961.6,424.0 L962.8,422.5 L963.9,420.9 L965.1,419.2 L966.2,417.5 L967.4,415.7 L968.5,414.0 L969.7,412.2 L970.9,410.3 L972.0,408.4 L973.2,406.5 L974.3,404.6 L975.5,402.7 L976.6,400.8 L977.8,398.9 L979.0,397.0 L980.1,395.1 L981.3,393.3 L982.4,391.4 L983.6,389.6 L984.7,387.7 L985.9,385.8 L987.1,383.8 L988.2,381.7 L989.4,379.5 L990.5,377.3 L991.7,374.9 L992.8,372.5 L994.0,370.0 L995.2,367.6 L996.3,365.1 L997.5,362.5 L998.6,360.0 L999.8,357.3 L1001.0,354.7 L1002.1,352.0 L1003.3,349.3 L1004.4,346.6 L1005.6,343.8 L1006.7,340.9 L1007.9,338.1 L1009.1,335.2 L1010.2,332.2 L1011.4,329.2 L1012.5,326.1 L1013.7,323.0 L1014.8,319.8 L1016.0,316.5 L1017.2,313.1 L1018.3,309.7 L1019.5,306.2 L1020.6,302.5 L1021.8,298.8 L1022.9,295.0 L1024.1,291.1 L1025.3,287.0 L1026.4,282.9 L1027.6,278.6 L1028.7,274.2 L1029.9,269.6 L1031.0,265.0 L1032.2,260.2 L1033.4,255.3 L1034.5,250.4 L1035.7,245.4 L1036.8,240.2 L1038.0,235.0 L1039.1,229.7 L1040.3,224.2 L1041.5,218.6 L1042.6,212.8 L1043.8,207.0 L1044.9,201.2 L1046.1,195.3 L1047.2,189.5 L1048.4,183.6 L1049.6,177.7 L1050.7,171.9 L1051.9,166.0 L1053.0,160.3 L1054.2,154.8 L1055.3,149.4 L1056.5,144.0 L1057.7,138.6 L1058.8,133.0 L1060.0,127.2 L1061.1,121.3 L1062.3,115.5 L1063.5,110.0 L1064.6,104.8 L1065.8,99.9 L1066.9,95.4 L1068.1,91.2 L1069.2,87.5 L1070.4,84.2 L1071.6,81.4 L1072.7,79.0 L1073.9,77.2 L1075.0,76.0 L1076.2,75.2 L1077.3,75.0 L1078.5,75.4 L1079.7,76.3 L1080.8,77.9 L1082.0,80.2 L1083.1,83.0 L1084.3,86.4 L1085.4,90.4 L1086.6,95.0 L1087.8,100.5 L1088.9,106.7 L1090.1,113.1 L1091.2,119.2 L1092.4,124.9 L1093.5,130.7 L1094.7,136.8 L1095.9,143.1 L1097.0,149.6 L1098.2,156.3 L1099.3,163.1 L1100.5,170.0 L1101.6,177.1 L1102.8,184.3 L1104.0,191.6 L1105.1,198.9 L1106.3,206.3 L1107.4,213.8 L1108.6,220.8 L1109.7,227.5 L1110.9,234.0 L1112.1,240.4 L1113.2,247.0 L1114.4,253.9 L1115.5,261.1 L1116.7,268.4 L1117.8,275.5 L1119.0,282.4 L1120.2,289.0 L1121.3,295.3 L1122.5,301.4 L1123.6,306.9 L1124.8,311.8 L1125.9,316.7 L1127.1,322.0 L1128.3,327.3 L1129.4,332.6 L1130.6,338.3 L1131.7,344.1 L1132.9,349.8 L1134.1,355.4 L1135.2,360.7 L1136.4,365.8 L1137.5,370.5 L1138.7,374.7 L1139.8,378.5 L1141.0,382.2 L1142.2,386.1 L1143.3,390.2 L1144.5,394.4 L1145.6,398.5 L1146.8,402.4 L1147.9,406.3 L1149.1,410.1 L1150.3,413.7 L1151.4,417.4 L1152.6,421.0 L1153.7,424.6 L1154.9,428.1 L1156.0,431.5 L1157.2,434.7 L1158.4,437.9 L1159.5,440.8 L1160.7,443.6 L1161.8,446.3 L1163.0,448.8 L1164.1,451.3 L1165.3,453.7 L1166.5,456.1 L1167.6,458.4 L1168.8,460.8 L1169.9,463.3 L1171.1,465.7 L1172.2,468.2 L1173.4,470.6 L1174.6,473.0 L1175.7,475.4 L1176.9,477.8 L1178.0,480.1 L1179.2,482.4 L1180.3,484.6 L1181.5,486.9 L1182.7,489.1 L1183.8,491.3 L1185.0,493.5 L1186.1,495.6 L1187.3,497.7 L1188.4,499.9 L1189.6,502.0 L1190.8,504.1 L1191.9,506.3 L1193.1,508.4 L1194.2,510.5 L1195.4,512.5 L1196.6,514.6 L1197.7,516.6 L1198.9,518.6 L1200.0,520.5 L1201.2,522.5 L1202.3,524.4 L1203.5,526.3 L1204.7,528.2 L1205.8,530.1 L1207.0,531.9 L1208.1,533.8 L1209.3,535.6 L1210.4,537.4 L1211.6,539.2 L1212.8,541.0 L1213.9,542.8 L1215.1,544.5 L1216.2,546.3 L1217.4,548.0 L1218.5,549.8 L1219.7,551.5 L1220.9,553.2 L1222.0,554.9 L1223.2,556.6 L1224.3,558.2 L1225.5,559.9 L1226.6,561.5 L1227.8,563.0 L1229.0,564.3 L1230.1,565.3 L1230.7,565.5 L1231.3,565.4 L1232.4,564.6 L1233.6,563.4 L1234.7,561.9 L1235.9,560.4 L1237.1,558.9 L1238.2,557.3 L1239.4,555.7 L1240.5,554.1 L1241.7,552.5 L1242.8,550.9 L1244.0,549.3 L1245.2,547.6 L1246.3,546.0 L1247.5,544.4 L1248.6,542.7 L1249.8,541.1 L1250.9,539.4 L1252.1,537.7 L1253.3,536.1 L1254.4,534.4 L1255.6,532.7 L1256.7,531.0 L1257.9,529.2 L1259.0,527.5 L1260.2,525.8 L1261.4,524.0 L1262.5,522.2 L1263.7,520.4 L1264.8,518.6 L1266.0,516.8 L1267.2,515.0 L1268.3,513.2 L1269.5,511.4 L1270.6,509.5 L1271.8,507.6 L1272.9,505.7 L1274.1,503.8 L1275.3,501.9 L1276.4,499.9 L1277.6,497.9 L1278.7,495.9 L1279.9,493.8 L1281.0,491.8 L1282.2,489.7 L1283.4,487.6 L1284.5,485.4 L1285.7,483.3 L1286.8,481.1 L1288.0,478.8 L1289.1,476.6 L1290.3,474.3 L1291.5,472.0 L1292.6,469.7 L1293.8,467.3 L1294.9,464.9 L1296.1,462.5 L1297.2,460.0 L1298.4,457.5 L1299.6,455.0 L1300.7,452.5 L1301.9,449.9 L1303.0,447.2 L1304.2,444.6 L1305.3,441.9 L1306.5,439.1 L1307.7,436.4 L1308.8,433.5 L1310.0,430.7 L1311.1,427.8 L1312.3,424.8 L1313.4,421.8 L1314.6,418.7 L1315.8,415.3 L1316.9,411.7 L1318.1,407.9 L1319.2,404.1 L1320.4,400.4 L1321.5,396.8 L1322.7,393.2 L1323.9,389.5 L1325.0,385.6 L1326.2,381.7 L1327.3,377.6 L1328.5,373.4 L1329.7,369.1 L1330.8,364.6 L1332.0,359.9 L1333.1,355.1 L1334.3,350.0 L1335.4,344.7 L1336.6,339.3 L1337.8,333.7 L1338.9,328.0 L1340.1,322.0 L1341.2,315.8 L1342.4,309.4 L1343.5,303.0 L1344.7,296.8 L1345.9,290.7 L1347.0,284.2 L1348.2,277.3 L1349.3,270.1 L1350.5,262.8 L1351.6,255.4 L1352.8,247.8 L1354.0,240.0 L1355.1,232.2 L1356.3,224.2 L1357.4,216.0 L1358.6,207.8 L1359.7,199.4 L1360.9,191.0 L1362.1,182.4 L1363.2,173.7 L1364.4,165.1 L1365.5,156.7 L1366.7,148.6 L1367.8,140.0 L1369.0,131.4 L1370.2,123.2 L1371.3,116.3 L1372.5,110.3 L1373.6,104.6 L1374.8,100.2 L1375.9,98.1 L1377.1,99.0 L1378.3,103.5 L1379.4,112.4 L1380.6,124.7 L1381.7,135.9 L1382.9,145.3 L1384.0,154.9 L1385.2,165.1 L1386.4,176.5 L1387.5,189.0 L1388.7,202.3 L1389.8,215.8 L1391.0,228.4 L1392.1,240.4 L1393.3,252.0 L1394.5,263.2 L1395.6,273.9 L1396.8,283.6 L1397.9,291.0 L1399.1,298.0 L1400.3,306.8 L1401.4,316.0 L1402.6,325.0 L1403.7,333.6 L1404.9,342.0 L1406.0,350.0 L1407.2,357.7 L1408.4,365.2 L1409.5,372.3 L1410.7,379.2 L1411.8,385.9 L1413.0,392.4 L1414.1,398.7 L1415.3,404.7 L1416.5,410.5 L1417.6,416.0 L1418.8,421.2 L1419.9,426.1 L1421.1,430.9 L1422.2,435.6 L1423.4,440.1 L1424.6,444.4 L1425.7,448.7 L1426.9,452.9 L1428.0,457.0 L1429.2,461.1 L1430.3,465.1 L1431.5,469.0 L1432.7,472.9 L1433.8,476.6 L1435.0,480.3 L1436.1,483.9 L1437.3,487.4 L1438.4,490.8 L1439.6,494.1 L1440.8,497.3 L1441.9,500.4 L1443.1,503.4 L1444.2,506.4 L1445.4,509.3 L1446.5,512.1 L1447.7,514.8 L1448.9,517.6 L1450.0,520.2 L1451.2,522.9 L1452.3,525.5 L1453.5,528.1 L1454.6,530.6 L1455.8,533.2 L1457.0,535.7 L1458.1,538.3 L1459.3,540.8 L1460.4,543.2 L1461.6,545.7 L1462.8,548.2 L1463.9,550.6 L1465.1,553.0 L1466.2,555.3 L1467.4,557.5 L1468.5,559.7 L1469.7,561.8 L1470.9,563.6 L1472.0,565.1 L1472.6,565.4 L1473.2,565.4 L1474.3,564.5 L1475.5,563.0 L1476.6,561.2 L1477.8,559.5 L1479.0,557.7 L1480.1,555.9 L1481.3,554.1 L1482.4,552.3 L1483.6,550.5 L1484.7,548.7 L1485.9,547.0 L1487.1,545.2 L1488.2,543.4 L1489.4,541.6 L1490.5,539.8 L1491.7,538.1 L1492.8,536.3 L1494.0,534.5 L1495.2,532.7 L1496.3,530.9 L1497.5,529.2 L1498.6,527.4 L1499.8,525.7 L1500.9,523.9 L1502.1,522.2 L1503.3,520.4 L1504.4,518.7 L1505.6,517.0 L1506.7,515.3 L1507.9,513.5 L1509.0,511.8 L1510.2,510.1 L1511.4,508.4 L1512.5,506.7 L1513.7,505.0 L1514.8,503.2 L1516.0,501.5 L1517.1,499.8 L1518.3,498.1 L1519.5,496.4 L1520.6,494.7 L1521.8,493.0 L1522.9,491.3 L1524.1,489.6 L1525.2,487.9 L1526.4,486.2 L1527.6,484.5 L1528.7,482.7 L1529.9,481.0 L1531.0,479.3 L1532.2,477.6 L1533.4,475.9 L1534.5,474.1 L1535.7,472.4 L1536.8,470.7 L1538.0,468.9 L1539.1,467.2 L1540.3,465.4 L1541.5,463.7 L1542.6,461.9 L1543.8,460.1 L1544.9,458.4 L1546.1,456.6 L1547.2,454.8 L1548.4,453.0 L1549.6,451.2 L1550.7,449.4 L1551.9,447.6 L1553.0,445.8 L1554.2,444.0 L1555.3,442.2 L1556.5,440.4 L1557.7,438.6 L1558.8,436.8 L1560.0,435.0 L1561.1,433.2 L1562.3,431.4 L1563.4,429.6 L1564.6,427.8 L1565.8,426.0 L1566.9,424.2 L1568.1,422.4 L1569.2,420.6"/>
<path class="cv" stroke="#B177DE" d="M874.8,502.6 L876.0,502.0 L877.1,501.3 L878.3,500.6 L879.4,499.9 L880.6,499.1 L881.7,498.4 L882.9,497.6 L884.1,496.9 L885.2,496.1 L886.4,495.3 L887.5,494.5 L888.7,493.8 L889.8,493.0 L891.0,492.2 L892.2,491.3 L893.3,490.5 L894.5,489.6 L895.6,488.7 L896.8,487.8 L897.9,486.9 L899.1,486.0 L900.3,485.0 L901.4,484.1 L902.6,483.2 L903.7,482.2 L904.9,481.3 L906.0,480.4 L907.2,479.5 L908.4,478.5 L909.5,477.6 L910.7,476.6 L911.8,475.7 L913.0,474.7 L914.1,473.7 L915.3,472.7 L916.5,471.7 L917.6,470.7 L918.8,469.7 L919.9,468.7 L921.1,467.7 L922.2,466.7 L923.4,465.6 L924.6,464.6 L925.7,463.6 L926.9,462.5 L928.0,461.5 L929.2,460.3 L930.4,459.2 L931.5,458.0 L932.7,456.8 L933.8,455.6 L935.0,454.4 L936.1,453.2 L937.3,451.9 L938.5,450.6 L939.6,449.4 L940.8,448.0 L941.9,446.8 L943.1,445.5 L944.2,444.2 L945.4,443.0 L946.6,441.7 L947.7,440.5 L948.9,439.2 L950.0,437.9 L951.2,436.6 L952.3,435.2 L953.5,433.9 L954.7,432.5 L955.8,431.2 L957.0,429.8 L958.1,428.4 L959.3,427.0 L960.4,425.6 L961.6,424.1 L962.8,422.5 L963.9,421.0 L965.1,419.3 L966.2,417.6 L967.4,415.8 L968.5,414.1 L969.7,412.2 L970.9,410.4 L972.0,408.5 L973.2,406.6 L974.3,404.7 L975.5,402.8 L976.6,400.9 L977.8,398.9 L979.0,397.0 L980.1,395.2 L981.3,393.4 L982.4,391.5 L983.6,389.7 L984.7,387.8 L985.9,385.8 L987.1,383.9 L988.2,381.8 L989.4,379.6 L990.5,377.3 L991.7,374.9 L992.8,372.5 L994.0,370.1 L995.2,367.6 L996.3,365.1 L997.5,362.6 L998.6,360.0 L999.8,357.4 L1001.0,354.8 L1002.1,352.1 L1003.3,349.4 L1004.4,346.6 L1005.6,343.8 L1006.7,341.0 L1007.9,338.1 L1009.1,335.2 L1010.2,332.3 L1011.4,329.2 L1012.5,326.2 L1013.7,323.0 L1014.8,319.8 L1016.0,316.5 L1017.2,313.2 L1018.3,309.7 L1019.5,306.2 L1020.6,302.6 L1021.8,298.8 L1022.9,295.0 L1024.1,291.1 L1025.3,287.1 L1026.4,282.9 L1027.6,278.6 L1028.7,274.2 L1029.9,269.7 L1031.0,265.0 L1032.2,260.2 L1033.4,255.4 L1034.5,250.4 L1035.7,245.4 L1036.8,240.3 L1038.0,235.0 L1039.1,229.7 L1040.3,224.2 L1041.5,218.6 L1042.6,212.9 L1043.8,207.0 L1044.9,201.2 L1046.1,195.3 L1047.2,189.5 L1048.4,183.6 L1049.6,177.8 L1050.7,171.9 L1051.9,166.0 L1053.0,160.3 L1054.2,154.8 L1055.3,149.4 L1056.5,144.1 L1057.7,138.6 L1058.8,133.1 L1060.0,127.2 L1061.1,121.3 L1062.3,115.5 L1063.5,110.0 L1064.6,104.8 L1065.8,99.9 L1066.9,95.4 L1068.1,91.2 L1069.2,87.5 L1070.4,84.2 L1071.6,81.4 L1072.7,79.0 L1073.9,77.2 L1075.0,76.0 L1076.2,75.2 L1077.3,75.0 L1078.5,75.4 L1079.7,76.4 L1080.8,78.0 L1082.0,80.2 L1083.1,83.1 L1084.3,86.6 L1085.4,90.6 L1086.6,95.2 L1087.8,100.7 L1088.9,106.9 L1090.1,113.3 L1091.2,119.4 L1092.4,125.0 L1093.5,130.8 L1094.7,136.8 L1095.9,143.0 L1097.0,149.4 L1098.2,156.0 L1099.3,162.7 L1100.5,169.5 L1101.6,176.5 L1102.8,183.5 L1104.0,190.7 L1105.1,197.9 L1106.3,205.2 L1107.4,212.5 L1108.6,219.5 L1109.7,226.1 L1110.9,232.4 L1112.1,238.7 L1113.2,245.0 L1114.4,251.5 L1115.5,258.4 L1116.7,265.4 L1117.8,272.3 L1119.0,279.1 L1120.2,285.5 L1121.3,291.7 L1122.5,297.7 L1123.6,303.4 L1124.8,308.5 L1125.9,313.1 L1127.1,317.9 L1128.3,323.0 L1129.4,328.1 L1130.6,333.3 L1131.7,338.8 L1132.9,344.5 L1134.1,350.0 L1135.2,355.4 L1136.4,360.6 L1137.5,365.6 L1138.7,370.3 L1139.8,374.4 L1141.0,378.1 L1142.2,381.7 L1143.3,385.5 L1144.5,389.5 L1145.6,393.6 L1146.8,397.6 L1147.9,401.5 L1149.1,405.4 L1150.3,409.1 L1151.4,412.7 L1152.6,416.3 L1153.7,419.9 L1154.9,423.5 L1156.0,427.0 L1157.2,430.4 L1158.4,433.7 L1159.5,436.8 L1160.7,439.8 L1161.8,442.7 L1163.0,445.4 L1164.1,447.9 L1165.3,450.4 L1166.5,452.8 L1167.6,455.2 L1168.8,457.6 L1169.9,459.9 L1171.1,462.3 L1172.2,464.8 L1173.4,467.3 L1174.6,469.7 L1175.7,472.1 L1176.9,474.5 L1178.0,476.8 L1179.2,479.1 L1180.3,481.4 L1181.5,483.7 L1182.7,486.0 L1183.8,488.2 L1185.0,490.4 L1186.1,492.5 L1187.3,494.7 L1188.4,496.8 L1189.6,499.0 L1190.8,501.1 L1191.9,503.2 L1193.1,505.3 L1194.2,507.5 L1195.4,509.5 L1196.6,511.6 L1197.7,513.7 L1198.9,515.7 L1200.0,517.7 L1201.2,519.7 L1202.3,521.6 L1203.5,523.5 L1204.7,525.5 L1205.8,527.4 L1207.0,529.2 L1208.1,531.1 L1209.3,533.0 L1210.4,534.8 L1211.6,536.6 L1212.8,538.4 L1213.9,540.2 L1215.1,542.0 L1216.2,543.8 L1217.4,545.6 L1218.5,547.3 L1219.7,549.1 L1220.9,550.8 L1222.0,552.6 L1223.2,554.3 L1224.3,556.0 L1225.5,557.7 L1226.6,559.4 L1227.8,561.1 L1229.0,562.8 L1230.1,564.5 L1231.3,566.1 L1231.9,567.0 L1232.4,567.8 L1233.0,567.4 L1233.6,566.6 L1234.7,564.9 L1235.9,563.3 L1237.1,561.7 L1238.2,560.0 L1239.4,558.4 L1240.5,556.8 L1241.7,555.1 L1242.8,553.5 L1244.0,551.9 L1245.2,550.2 L1246.3,548.6 L1247.5,546.9 L1248.6,545.3 L1249.8,543.6 L1250.9,541.9 L1252.1,540.3 L1253.3,538.6 L1254.4,536.9 L1255.6,535.2 L1256.7,533.5 L1257.9,531.8 L1259.0,530.0 L1260.2,528.3 L1261.4,526.5 L1262.5,524.8 L1263.7,523.0 L1264.8,521.2 L1266.0,519.4 L1267.2,517.6 L1268.3,515.7 L1269.5,513.9 L1270.6,512.1 L1271.8,510.2 L1272.9,508.3 L1274.1,506.4 L1275.3,504.5 L1276.4,502.5 L1277.6,500.5 L1278.7,498.5 L1279.9,496.5 L1281.0,494.4 L1282.2,492.4 L1283.4,490.2 L1284.5,488.1 L1285.7,486.0 L1286.8,483.8 L1288.0,481.6 L1289.1,479.3 L1290.3,477.0 L1291.5,474.7 L1292.6,472.4 L1293.8,470.1 L1294.9,467.7 L1296.1,465.3 L1297.2,462.8 L1298.4,460.3 L1299.6,457.8 L1300.7,455.3 L1301.9,452.7 L1303.0,450.1 L1304.2,447.4 L1305.3,444.7 L1306.5,442.0 L1307.7,439.2 L1308.8,436.4 L1310.0,433.5 L1311.1,430.6 L1312.3,427.7 L1313.4,424.7 L1314.6,421.7 L1315.8,418.5 L1316.9,415.0 L1318.1,411.3 L1319.2,407.4 L1320.4,403.6 L1321.5,399.9 L1322.7,396.3 L1323.9,392.5 L1325.0,388.7 L1326.2,384.8 L1327.3,380.8 L1328.5,376.6 L1329.7,372.3 L1330.8,367.9 L1332.0,363.3 L1333.1,358.5 L1334.3,353.5 L1335.4,348.2 L1336.6,342.8 L1337.8,337.2 L1338.9,331.5 L1340.1,325.6 L1341.2,319.4 L1342.4,313.0 L1343.5,306.4 L1344.7,300.0 L1345.9,293.7 L1347.0,287.3 L1348.2,280.4 L1349.3,273.1 L1350.5,265.7 L1351.6,258.0 L1352.8,250.2 L1354.0,242.2 L1355.1,234.0 L1356.3,225.7 L1357.4,217.2 L1358.6,208.5 L1359.7,199.7 L1360.9,190.8 L1362.1,181.7 L1363.2,172.3 L1364.4,163.2 L1365.5,154.5 L1366.7,145.9 L1367.8,137.3 L1369.0,128.2 L1370.2,119.4 L1371.3,111.4 L1372.5,104.4 L1373.6,97.9 L1374.8,92.4 L1375.9,88.8 L1377.1,87.7 L1378.3,88.4 L1379.4,90.6 L1380.6,94.0 L1381.7,98.7 L1382.9,104.4 L1384.0,111.1 L1385.2,118.7 L1386.4,127.0 L1387.5,135.9 L1388.7,145.2 L1389.8,154.5 L1391.0,163.7 L1392.1,173.0 L1393.3,182.5 L1394.5,192.5 L1395.6,203.1 L1396.8,214.1 L1397.9,225.0 L1399.1,235.9 L1400.3,246.6 L1401.4,257.0 L1402.6,267.1 L1403.7,276.8 L1404.9,284.9 L1406.0,291.3 L1407.2,297.8 L1408.4,305.7 L1409.5,313.6 L1410.7,321.2 L1411.8,328.4 L1413.0,335.3 L1414.1,341.9 L1415.3,348.2 L1416.5,354.2 L1417.6,360.0 L1418.8,365.5 L1419.9,370.8 L1421.1,376.0 L1422.2,380.9 L1423.4,385.8 L1424.6,390.4 L1425.7,394.9 L1426.9,399.3 L1428.0,403.6 L1429.2,407.8 L1430.3,411.9 L1431.5,415.8 L1432.7,419.6 L1433.8,423.4 L1435.0,427.0 L1436.1,430.6 L1437.3,434.1 L1438.4,437.4 L1439.6,440.8 L1440.8,444.0 L1441.9,447.2 L1443.1,450.3 L1444.2,453.4 L1445.4,456.4 L1446.5,459.3 L1447.7,462.2 L1448.9,465.1 L1450.0,467.9 L1451.2,470.7 L1452.3,473.4 L1453.5,476.2 L1454.6,478.9 L1455.8,481.5 L1457.0,484.1 L1458.1,486.7 L1459.3,489.3 L1460.4,491.8 L1461.6,494.4 L1462.8,496.8 L1463.9,499.3 L1465.1,501.7 L1466.2,504.1 L1467.4,506.5 L1468.5,508.8 L1469.7,511.1 L1470.9,513.4 L1472.0,515.6 L1473.2,517.9 L1474.3,520.1 L1475.5,522.2 L1476.6,524.4 L1477.8,526.5 L1479.0,528.6 L1480.1,530.7 L1481.3,532.8 L1482.4,534.9 L1483.6,537.0 L1484.7,539.1 L1485.9,541.1 L1487.1,543.2 L1488.2,545.2 L1489.4,547.3 L1490.5,549.3 L1491.7,551.3 L1492.8,553.4 L1494.0,555.4 L1495.2,557.4 L1496.3,559.4 L1497.5,561.4 L1498.6,563.4 L1499.8,565.3 L1500.9,567.3 L1501.5,567.7 L1502.1,566.7 L1503.3,564.8 L1504.4,562.8 L1505.6,560.9 L1506.7,559.0 L1507.9,557.0 L1509.0,555.1 L1510.2,553.2 L1511.4,551.3 L1512.5,549.4 L1513.7,547.5 L1514.8,545.7 L1516.0,543.8 L1517.1,541.9 L1518.3,540.1 L1519.5,538.2 L1520.6,536.4 L1521.8,534.5 L1522.9,532.7 L1524.1,530.8 L1525.2,529.0 L1526.4,527.2 L1527.6,525.4 L1528.7,523.6 L1529.9,521.7 L1531.0,519.9 L1532.2,518.1 L1533.4,516.3 L1534.5,514.5 L1535.7,512.7 L1536.8,510.9 L1538.0,509.1 L1539.1,507.3 L1540.3,505.5 L1541.5,503.7 L1542.6,502.0 L1543.8,500.2 L1544.9,498.4 L1546.1,496.6 L1547.2,494.8 L1548.4,493.0 L1549.6,491.2 L1550.7,489.4 L1551.9,487.6 L1553.0,485.8 L1554.2,484.0 L1555.3,482.2 L1556.5,480.4 L1557.7,478.6 L1558.8,476.7 L1560.0,474.9 L1561.1,473.1 L1562.3,471.3 L1563.4,469.4 L1564.6,467.6 L1565.8,465.7 L1566.9,463.9 L1568.1,462.0 L1569.2,460.2"/>
<path class="cv" stroke="#CC9900" d="M874.8,502.8 L876.0,502.1 L877.1,501.4 L878.3,500.7 L879.4,500.0 L880.6,499.3 L881.7,498.5 L882.9,497.8 L884.1,497.0 L885.2,496.3 L886.4,495.5 L887.5,494.7 L888.7,493.9 L889.8,493.1 L891.0,492.3 L892.2,491.5 L893.3,490.6 L894.5,489.8 L895.6,488.9 L896.8,488.0 L897.9,487.1 L899.1,486.1 L900.3,485.2 L901.4,484.3 L902.6,483.4 L903.7,482.4 L904.9,481.5 L906.0,480.6 L907.2,479.7 L908.4,478.7 L909.5,477.8 L910.7,476.8 L911.8,475.8 L913.0,474.9 L914.1,473.9 L915.3,472.9 L916.5,471.9 L917.6,470.9 L918.8,469.9 L919.9,468.9 L921.1,467.9 L922.2,466.9 L923.4,465.9 L924.6,464.8 L925.7,463.8 L926.9,462.7 L928.0,461.7 L929.2,460.6 L930.4,459.4 L931.5,458.3 L932.7,457.1 L933.8,455.9 L935.0,454.7 L936.1,453.4 L937.3,452.2 L938.5,450.9 L939.6,449.6 L940.8,448.3 L941.9,447.0 L943.1,445.7 L944.2,444.5 L945.4,443.2 L946.6,442.0 L947.7,440.7 L948.9,439.4 L950.0,438.1 L951.2,436.8 L952.3,435.5 L953.5,434.1 L954.7,432.8 L955.8,431.4 L957.0,430.1 L958.1,428.7 L959.3,427.3 L960.4,425.8 L961.6,424.4 L962.8,422.8 L963.9,421.2 L965.1,419.6 L966.2,417.9 L967.4,416.2 L968.5,414.4 L969.7,412.6 L970.9,410.7 L972.0,408.9 L973.2,407.0 L974.3,405.1 L975.5,403.1 L976.6,401.2 L977.8,399.3 L979.0,397.4 L980.1,395.5 L981.3,393.7 L982.4,391.8 L983.6,390.0 L984.7,388.1 L985.9,386.2 L987.1,384.2 L988.2,382.1 L989.4,380.0 L990.5,377.7 L991.7,375.3 L992.8,372.9 L994.0,370.5 L995.2,368.0 L996.3,365.5 L997.5,363.0 L998.6,360.4 L999.8,357.8 L1001.0,355.1 L1002.1,352.5 L1003.3,349.7 L1004.4,347.0 L1005.6,344.2 L1006.7,341.4 L1007.9,338.5 L1009.1,335.6 L1010.2,332.7 L1011.4,329.6 L1012.5,326.6 L1013.7,323.4 L1014.8,320.2 L1016.0,317.0 L1017.2,313.6 L1018.3,310.2 L1019.5,306.6 L1020.6,303.0 L1021.8,299.3 L1022.9,295.5 L1024.1,291.6 L1025.3,287.5 L1026.4,283.4 L1027.6,279.1 L1028.7,274.7 L1029.9,270.2 L1031.0,265.5 L1032.2,260.7 L1033.4,255.9 L1034.5,250.9 L1035.7,245.9 L1036.8,240.8 L1038.0,235.6 L1039.1,230.2 L1040.3,224.8 L1041.5,219.2 L1042.6,213.4 L1043.8,207.6 L1044.9,201.7 L1046.1,195.9 L1047.2,190.0 L1048.4,184.2 L1049.6,178.3 L1050.7,172.4 L1051.9,166.5 L1053.0,160.7 L1054.2,155.2 L1055.3,149.8 L1056.5,144.5 L1057.7,139.0 L1058.8,133.5 L1060.0,127.7 L1061.1,121.7 L1062.3,115.9 L1063.5,110.3 L1064.6,105.1 L1065.8,100.2 L1066.9,95.6 L1068.1,91.5 L1069.2,87.7 L1070.4,84.4 L1071.6,81.5 L1072.7,79.1 L1073.9,77.3 L1075.0,76.0 L1076.2,75.3 L1077.3,75.0 L1078.5,75.4 L1079.7,76.3 L1080.8,77.9 L1082.0,80.1 L1083.1,83.0 L1084.3,86.4 L1085.4,90.4 L1086.6,95.0 L1087.8,100.5 L1088.9,106.7 L1090.1,113.2 L1091.2,119.3 L1092.4,124.9 L1093.5,130.7 L1094.7,136.8 L1095.9,143.1 L1097.0,149.6 L1098.2,156.2 L1099.3,163.0 L1100.5,169.9 L1101.6,177.0 L1102.8,184.1 L1104.0,191.4 L1105.1,198.7 L1106.3,206.1 L1107.4,213.6 L1108.6,220.6 L1109.7,227.3 L1110.9,233.8 L1112.1,240.2 L1113.2,246.7 L1114.4,253.5 L1115.5,260.6 L1116.7,267.8 L1117.8,274.9 L1119.0,281.7 L1120.2,288.3 L1121.3,294.6 L1122.5,300.6 L1123.6,306.2 L1124.8,311.1 L1125.9,315.9 L1127.1,321.0 L1128.3,326.2 L1129.4,331.5 L1130.6,337.0 L1131.7,342.8 L1132.9,348.5 L1134.1,354.1 L1135.2,359.4 L1136.4,364.5 L1137.5,369.4 L1138.7,373.6 L1139.8,377.5 L1141.0,381.2 L1142.2,385.0 L1143.3,389.1 L1144.5,393.2 L1145.6,397.3 L1146.8,401.3 L1147.9,405.2 L1149.1,409.0 L1150.3,412.7 L1151.4,416.3 L1152.6,420.0 L1153.7,423.6 L1154.9,427.1 L1156.0,430.5 L1157.2,433.7 L1158.4,436.9 L1159.5,439.9 L1160.7,442.7 L1161.8,445.4 L1163.0,448.0 L1164.1,450.4 L1165.3,452.9 L1166.5,455.2 L1167.6,457.6 L1168.8,460.0 L1169.9,462.4 L1171.1,464.9 L1172.2,467.3 L1173.4,469.8 L1174.6,472.2 L1175.7,474.6 L1176.9,476.9 L1178.0,479.3 L1179.2,481.6 L1180.3,483.8 L1181.5,486.1 L1182.7,488.3 L1183.8,490.5 L1185.0,492.7 L1186.1,494.8 L1187.3,497.0 L1188.4,499.1 L1189.6,501.2 L1190.8,503.4 L1191.9,505.5 L1193.1,507.6 L1194.2,509.7 L1195.4,511.8 L1196.6,513.8 L1197.7,515.9 L1198.9,517.9 L1200.0,519.8 L1201.2,521.8 L1202.3,523.7 L1203.5,525.6 L1204.7,527.5 L1205.8,529.4 L1207.0,531.3 L1208.1,533.1 L1209.3,535.0 L1210.4,536.8 L1211.6,538.6 L1212.8,540.4 L1213.9,542.2 L1215.1,544.0 L1216.2,545.7 L1217.4,547.5 L1218.5,549.2 L1219.7,551.0 L1220.9,552.7 L1222.0,554.5 L1223.2,556.2 L1224.3,557.9 L1225.5,559.6 L1226.6,561.3 L1227.8,563.0 L1229.0,564.6 L1230.1,566.3 L1230.7,567.1 L1231.3,567.9 L1231.9,567.2 L1232.4,566.4 L1233.6,564.8 L1234.7,563.1 L1235.9,561.5 L1237.1,559.9 L1238.2,558.2 L1239.4,556.6 L1240.5,555.0 L1241.7,553.3 L1242.8,551.7 L1244.0,550.0 L1245.2,548.4 L1246.3,546.7 L1247.5,545.0 L1248.6,543.4 L1249.8,541.7 L1250.9,540.0 L1252.1,538.3 L1253.3,536.6 L1254.4,534.9 L1255.6,533.2 L1256.7,531.4 L1257.9,529.7 L1259.0,527.9 L1260.2,526.2 L1261.4,524.4 L1262.5,522.6 L1263.7,520.8 L1264.8,519.0 L1266.0,517.1 L1267.2,515.3 L1268.3,513.4 L1269.5,511.6 L1270.6,509.7 L1271.8,507.8 L1272.9,505.8 L1274.1,503.9 L1275.3,501.9 L1276.4,499.9 L1277.6,497.9 L1278.7,495.8 L1279.9,493.7 L1281.0,491.6 L1282.2,489.5 L1283.4,487.3 L1284.5,485.2 L1285.7,482.9 L1286.8,480.7 L1288.0,478.4 L1289.1,476.1 L1290.3,473.8 L1291.5,471.5 L1292.6,469.1 L1293.8,466.7 L1294.9,464.2 L1296.1,461.7 L1297.2,459.2 L1298.4,456.7 L1299.6,454.1 L1300.7,451.5 L1301.9,448.9 L1303.0,446.2 L1304.2,443.4 L1305.3,440.7 L1306.5,437.9 L1307.7,435.0 L1308.8,432.1 L1310.0,429.2 L1311.1,426.2 L1312.3,423.2 L1313.4,420.1 L1314.6,416.8 L1315.8,413.2 L1316.9,409.3 L1318.1,405.4 L1319.2,401.6 L1320.4,398.0 L1321.5,394.3 L1322.7,390.5 L1323.9,386.6 L1325.0,382.6 L1326.2,378.5 L1327.3,374.3 L1328.5,369.8 L1329.7,365.3 L1330.8,360.5 L1332.0,355.5 L1333.1,350.4 L1334.3,345.0 L1335.4,339.4 L1336.6,333.7 L1337.8,327.8 L1338.9,321.7 L1340.1,315.3 L1341.2,308.7 L1342.4,302.1 L1343.5,295.7 L1344.7,289.3 L1345.9,282.6 L1347.0,275.3 L1348.2,267.8 L1349.3,260.1 L1350.5,252.2 L1351.6,244.1 L1352.8,235.8 L1354.0,227.3 L1355.1,218.6 L1356.3,209.7 L1357.4,200.7 L1358.6,191.6 L1359.7,182.5 L1360.9,173.4 L1362.1,164.4 L1363.2,155.5 L1364.4,146.9 L1365.5,138.7 L1366.7,130.1 L1367.8,121.3 L1369.0,113.1 L1370.2,106.3 L1371.3,101.0 L1372.5,96.3 L1373.6,91.9 L1374.8,89.3 L1375.9,89.4 L1377.1,92.2 L1378.3,96.4 L1379.4,100.4 L1380.6,104.2 L1381.7,108.5 L1382.9,114.6 L1384.0,122.2 L1385.2,130.6 L1386.4,139.8 L1387.5,149.4 L1388.7,159.2 L1389.8,169.1 L1391.0,179.3 L1392.1,189.9 L1393.3,200.9 L1394.5,212.4 L1395.6,223.8 L1396.8,235.2 L1397.9,246.4 L1399.1,257.3 L1400.3,267.8 L1401.4,277.8 L1402.6,286.0 L1403.7,292.6 L1404.9,299.7 L1406.0,308.2 L1407.2,316.2 L1408.4,324.0 L1409.5,331.4 L1410.7,338.6 L1411.8,345.5 L1413.0,352.1 L1414.1,358.4 L1415.3,364.5 L1416.5,370.4 L1417.6,376.1 L1418.8,381.6 L1419.9,386.9 L1421.1,392.0 L1422.2,396.9 L1423.4,401.7 L1424.6,406.4 L1425.7,410.9 L1426.9,415.3 L1428.0,419.7 L1429.2,423.9 L1430.3,428.0 L1431.5,432.0 L1432.7,435.8 L1433.8,439.5 L1435.0,443.2 L1436.1,446.7 L1437.3,450.2 L1438.4,453.6 L1439.6,456.8 L1440.8,460.1 L1441.9,463.2 L1443.1,466.3 L1444.2,469.3 L1445.4,472.2 L1446.5,475.1 L1447.7,477.9 L1448.9,480.7 L1450.0,483.4 L1451.2,486.1 L1452.3,488.8 L1453.5,491.4 L1454.6,494.0 L1455.8,496.5 L1457.0,499.0 L1458.1,501.5 L1459.3,503.9 L1460.4,506.3 L1461.6,508.6 L1462.8,510.9 L1463.9,513.2 L1465.1,515.4 L1466.2,517.6 L1467.4,519.7 L1468.5,521.9 L1469.7,524.0 L1470.9,526.1 L1472.0,528.1 L1473.2,530.2 L1474.3,532.2 L1475.5,534.2 L1476.6,536.2 L1477.8,538.2 L1479.0,540.2 L1480.1,542.2 L1481.3,544.2 L1482.4,546.2 L1483.6,548.1 L1484.7,550.1 L1485.9,552.1 L1487.1,554.1 L1488.2,556.0 L1489.4,558.0 L1490.5,560.0 L1491.7,561.9 L1492.8,563.9 L1494.0,565.9 L1494.6,566.8 L1495.2,567.8 L1495.7,567.2 L1496.3,566.2 L1497.5,564.3 L1498.6,562.3 L1499.8,560.4 L1500.9,558.5 L1502.1,556.6 L1503.3,554.7 L1504.4,552.8 L1505.6,550.9 L1506.7,549.0 L1507.9,547.1 L1509.0,545.3 L1510.2,543.4 L1511.4,541.6 L1512.5,539.7 L1513.7,537.9 L1514.8,536.1 L1516.0,534.3 L1517.1,532.4 L1518.3,530.6 L1519.5,528.8 L1520.6,527.0 L1521.8,525.2 L1522.9,523.4 L1524.1,521.7 L1525.2,519.9 L1526.4,518.1 L1527.6,516.3 L1528.7,514.5 L1529.9,512.8 L1531.0,511.0 L1532.2,509.2 L1533.4,507.5 L1534.5,505.7 L1535.7,503.9 L1536.8,502.2 L1538.0,500.4 L1539.1,498.7 L1540.3,496.9 L1541.5,495.1 L1542.6,493.4 L1543.8,491.6 L1544.9,489.9 L1546.1,488.1 L1547.2,486.3 L1548.4,484.5 L1549.6,482.8 L1550.7,481.0 L1551.9,479.2 L1553.0,477.4 L1554.2,475.7 L1555.3,473.9 L1556.5,472.1 L1557.7,470.3 L1558.8,468.5 L1560.0,466.7 L1561.1,464.9 L1562.3,463.0 L1563.4,461.2 L1564.6,459.4 L1565.8,457.5 L1566.9,455.7 L1568.1,453.8 L1569.2,452.0"/>
<path class="cv" stroke="#00CBCC" d="M874.8,502.6 L876.0,502.0 L877.1,501.3 L878.3,500.6 L879.4,499.9 L880.6,499.1 L881.7,498.4 L882.9,497.6 L884.1,496.9 L885.2,496.1 L886.4,495.3 L887.5,494.5 L888.7,493.8 L889.8,493.0 L891.0,492.2 L892.2,491.3 L893.3,490.5 L894.5,489.6 L895.6,488.7 L896.8,487.8 L897.9,486.9 L899.1,486.0 L900.3,485.0 L901.4,484.1 L902.6,483.2 L903.7,482.2 L904.9,481.3 L906.0,480.4 L907.2,479.5 L908.4,478.5 L909.5,477.6 L910.7,476.6 L911.8,475.7 L913.0,474.7 L914.1,473.7 L915.3,472.7 L916.5,471.7 L917.6,470.7 L918.8,469.7 L919.9,468.7 L921.1,467.7 L922.2,466.7 L923.4,465.6 L924.6,464.6 L925.7,463.6 L926.9,462.5 L928.0,461.5 L929.2,460.3 L930.4,459.2 L931.5,458.0 L932.7,456.8 L933.8,455.6 L935.0,454.4 L936.1,453.2 L937.3,451.9 L938.5,450.6 L939.6,449.4 L940.8,448.0 L941.9,446.8 L943.1,445.5 L944.2,444.2 L945.4,443.0 L946.6,441.7 L947.7,440.5 L948.9,439.2 L950.0,437.9 L951.2,436.6 L952.3,435.2 L953.5,433.9 L954.7,432.5 L955.8,431.2 L957.0,429.8 L958.1,428.4 L959.3,427.0 L960.4,425.6 L961.6,424.1 L962.8,422.5 L963.9,421.0 L965.1,419.3 L966.2,417.6 L967.4,415.8 L968.5,414.1 L969.7,412.2 L970.9,410.4 L972.0,408.5 L973.2,406.6 L974.3,404.7 L975.5,402.8 L976.6,400.9 L977.8,398.9 L979.0,397.0 L980.1,395.2 L981.3,393.4 L982.4,391.5 L983.6,389.7 L984.7,387.8 L985.9,385.8 L987.1,383.9 L988.2,381.8 L989.4,379.6 L990.5,377.3 L991.7,374.9 L992.8,372.5 L994.0,370.1 L995.2,367.6 L996.3,365.1 L997.5,362.6 L998.6,360.0 L999.8,357.4 L1001.0,354.8 L1002.1,352.1 L1003.3,349.4 L1004.4,346.6 L1005.6,343.8 L1006.7,341.0 L1007.9,338.1 L1009.1,335.2 L1010.2,332.3 L1011.4,329.2 L1012.5,326.2 L1013.7,323.0 L1014.8,319.8 L1016.0,316.5 L1017.2,313.2 L1018.3,309.7 L1019.5,306.2 L1020.6,302.6 L1021.8,298.8 L1022.9,295.0 L1024.1,291.1 L1025.3,287.1 L1026.4,282.9 L1027.6,278.6 L1028.7,274.2 L1029.9,269.7 L1031.0,265.0 L1032.2,260.2 L1033.4,255.4 L1034.5,250.4 L1035.7,245.4 L1036.8,240.3 L1038.0,235.0 L1039.1,229.7 L1040.3,224.2 L1041.5,218.6 L1042.6,212.9 L1043.8,207.0 L1044.9,201.2 L1046.1,195.3 L1047.2,189.5 L1048.4,183.6 L1049.6,177.8 L1050.7,171.9 L1051.9,166.0 L1053.0,160.3 L1054.2,154.8 L1055.3,149.4 L1056.5,144.1 L1057.7,138.6 L1058.8,133.1 L1060.0,127.2 L1061.1,121.3 L1062.3,115.5 L1063.5,110.0 L1064.6,104.8 L1065.8,99.9 L1066.9,95.4 L1068.1,91.2 L1069.2,87.5 L1070.4,84.2 L1071.6,81.4 L1072.7,79.0 L1073.9,77.2 L1075.0,76.0 L1076.2,75.2 L1077.3,75.0 L1078.5,75.4 L1079.7,76.4 L1080.8,78.0 L1082.0,80.2 L1083.1,83.1 L1084.3,86.6 L1085.4,90.6 L1086.6,95.2 L1087.8,100.7 L1088.9,106.9 L1090.1,113.3 L1091.2,119.4 L1092.4,125.0 L1093.5,130.8 L1094.7,136.8 L1095.9,143.0 L1097.0,149.4 L1098.2,156.0 L1099.3,162.7 L1100.5,169.5 L1101.6,176.5 L1102.8,183.5 L1104.0,190.7 L1105.1,197.9 L1106.3,205.2 L1107.4,212.5 L1108.6,219.5 L1109.7,226.1 L1110.9,232.4 L1112.1,238.7 L1113.2,245.0 L1114.4,251.5 L1115.5,258.4 L1116.7,265.4 L1117.8,272.3 L1119.0,279.1 L1120.2,285.5 L1121.3,291.7 L1122.5,297.7 L1123.6,303.4 L1124.8,308.5 L1125.9,313.1 L1127.1,317.9 L1128.3,323.0 L1129.4,328.1 L1130.6,333.3 L1131.7,338.8 L1132.9,344.5 L1134.1,350.0 L1135.2,355.4 L1136.4,360.6 L1137.5,365.6 L1138.7,370.3 L1139.8,374.4 L1141.0,378.1 L1142.2,381.7 L1143.3,385.5 L1144.5,389.5 L1145.6,393.6 L1146.8,397.6 L1147.9,401.5 L1149.1,405.4 L1150.3,409.1 L1151.4,412.7 L1152.6,416.3 L1153.7,419.9 L1154.9,423.5 L1156.0,427.0 L1157.2,430.4 L1158.4,433.7 L1159.5,436.8 L1160.7,439.8 L1161.8,442.7 L1163.0,445.4 L1164.1,447.9 L1165.3,450.4 L1166.5,452.8 L1167.6,455.2 L1168.8,457.6 L1169.9,459.9 L1171.1,462.3 L1172.2,464.8 L1173.4,467.3 L1174.6,469.7 L1175.7,472.1 L1176.9,474.5 L1178.0,476.8 L1179.2,479.1 L1180.3,481.4 L1181.5,483.7 L1182.7,486.0 L1183.8,488.2 L1185.0,490.4 L1186.1,492.5 L1187.3,494.7 L1188.4,496.8 L1189.6,499.0 L1190.8,501.1 L1191.9,503.2 L1193.1,505.3 L1194.2,507.5 L1195.4,509.5 L1196.6,511.6 L1197.7,513.7 L1198.9,515.7 L1200.0,517.7 L1201.2,519.7 L1202.3,521.6 L1203.5,523.5 L1204.7,525.5 L1205.8,527.4 L1207.0,529.2 L1208.1,531.1 L1209.3,533.0 L1210.4,534.8 L1211.6,536.6 L1212.8,538.4 L1213.9,540.2 L1215.1,542.0 L1216.2,543.8 L1217.4,545.6 L1218.5,547.3 L1219.7,549.1 L1220.9,550.8 L1222.0,552.6 L1223.2,554.3 L1224.3,556.0 L1225.5,557.7 L1226.6,559.4 L1227.8,561.1 L1229.0,562.8 L1230.1,564.5 L1231.3,566.1 L1231.9,567.0 L1232.4,567.8 L1233.0,567.4 L1233.6,566.6 L1234.7,564.9 L1235.9,563.3 L1237.1,561.7 L1238.2,560.0 L1239.4,558.4 L1240.5,556.8 L1241.7,555.1 L1242.8,553.5 L1244.0,551.9 L1245.2,550.2 L1246.3,548.6 L1247.5,546.9 L1248.6,545.3 L1249.8,543.6 L1250.9,541.9 L1252.1,540.3 L1253.3,538.6 L1254.4,536.9 L1255.6,535.2 L1256.7,533.5 L1257.9,531.8 L1259.0,530.0 L1260.2,528.3 L1261.4,526.5 L1262.5,524.8 L1263.7,523.0 L1264.8,521.2 L1266.0,519.4 L1267.2,517.6 L1268.3,515.7 L1269.5,513.9 L1270.6,512.1 L1271.8,510.2 L1272.9,508.3 L1274.1,506.4 L1275.3,504.5 L1276.4,502.5 L1277.6,500.5 L1278.7,498.5 L1279.9,496.5 L1281.0,494.4 L1282.2,492.4 L1283.4,490.2 L1284.5,488.1 L1285.7,486.0 L1286.8,483.8 L1288.0,481.6 L1289.1,479.3 L1290.3,477.0 L1291.5,474.7 L1292.6,472.4 L1293.8,470.1 L1294.9,467.7 L1296.1,465.3 L1297.2,462.8 L1298.4,460.3 L1299.6,457.8 L1300.7,455.3 L1301.9,452.7 L1303.0,450.1 L1304.2,447.4 L1305.3,444.7 L1306.5,442.0 L1307.7,439.2 L1308.8,436.4 L1310.0,433.5 L1311.1,430.6 L1312.3,427.7 L1313.4,424.7 L1314.6,421.7 L1315.8,418.5 L1316.9,415.0 L1318.1,411.3 L1319.2,407.4 L1320.4,403.6 L1321.5,399.9 L1322.7,396.3 L1323.9,392.5 L1325.0,388.7 L1326.2,384.8 L1327.3,380.8 L1328.5,376.6 L1329.7,372.3 L1330.8,367.9 L1332.0,363.3 L1333.1,358.5 L1334.3,353.5 L1335.4,348.3 L1336.6,342.9 L1337.8,337.3 L1338.9,331.5 L1340.1,325.6 L1341.2,319.5 L1342.4,313.1 L1343.5,306.5 L1344.7,300.0 L1345.9,293.8 L1347.0,287.4 L1348.2,280.6 L1349.3,273.3 L1350.5,265.9 L1351.6,258.2 L1352.8,250.4 L1354.0,242.5 L1355.1,234.4 L1356.3,226.1 L1357.4,217.6 L1358.6,209.0 L1359.7,200.3 L1360.9,191.5 L1362.1,182.6 L1363.2,173.7 L1364.4,164.9 L1365.5,156.6 L1366.7,149.0 L1367.8,141.7 L1369.0,134.1 L1370.2,126.1 L1371.3,118.1 L1372.5,110.3 L1373.6,103.2 L1374.8,97.3 L1375.9,92.7 L1377.1,90.1 L1378.3,89.4 L1379.4,90.3 L1380.6,93.0 L1381.7,97.3 L1382.9,103.2 L1384.0,110.3 L1385.2,118.5 L1386.4,127.7 L1387.5,137.6 L1388.7,148.0 L1389.8,158.2 L1391.0,168.3 L1392.1,178.5 L1393.3,189.0 L1394.5,200.0 L1395.6,211.6 L1396.8,223.1 L1397.9,234.5 L1399.1,245.7 L1400.3,256.7 L1401.4,267.2 L1402.6,277.2 L1403.7,285.5 L1404.9,292.2 L1406.0,299.2 L1407.2,307.7 L1408.4,316.0 L1409.5,324.0 L1410.7,331.7 L1411.8,339.1 L1413.0,346.1 L1414.1,352.9 L1415.3,359.4 L1416.5,365.7 L1417.6,371.7 L1418.8,377.4 L1419.9,383.0 L1421.1,388.4 L1422.2,393.5 L1423.4,398.5 L1424.6,403.4 L1425.7,408.1 L1426.9,412.6 L1428.0,417.1 L1429.2,421.4 L1430.3,425.7 L1431.5,429.8 L1432.7,433.9 L1433.8,437.9 L1435.0,441.8 L1436.1,445.6 L1437.3,449.3 L1438.4,453.0 L1439.6,456.5 L1440.8,460.0 L1441.9,463.4 L1443.1,466.8 L1444.2,470.0 L1445.4,473.2 L1446.5,476.3 L1447.7,479.4 L1448.9,482.4 L1450.0,485.4 L1451.2,488.2 L1452.3,491.1 L1453.5,493.8 L1454.6,496.6 L1455.8,499.2 L1457.0,501.9 L1458.1,504.4 L1459.3,507.0 L1460.4,509.4 L1461.6,511.9 L1462.8,514.3 L1463.9,516.6 L1465.1,518.9 L1466.2,521.2 L1467.4,523.5 L1468.5,525.7 L1469.7,527.9 L1470.9,530.1 L1472.0,532.2 L1473.2,534.4 L1474.3,536.5 L1475.5,538.6 L1476.6,540.7 L1477.8,542.8 L1479.0,544.8 L1480.1,546.9 L1481.3,548.9 L1482.4,550.9 L1483.6,553.0 L1484.7,555.0 L1485.9,557.0 L1487.1,559.0 L1488.2,560.9 L1489.4,562.9 L1490.5,564.9 L1491.7,566.9 L1492.3,567.8 L1492.8,567.2 L1494.0,565.2 L1495.2,563.3 L1496.3,561.4 L1497.5,559.5 L1498.6,557.6 L1499.8,555.7 L1500.9,553.8 L1502.1,551.9 L1503.3,550.1 L1504.4,548.2 L1505.6,546.4 L1506.7,544.5 L1507.9,542.7 L1509.0,540.9 L1510.2,539.1 L1511.4,537.3 L1512.5,535.5 L1513.7,533.7 L1514.8,531.9 L1516.0,530.1 L1517.1,528.4 L1518.3,526.6 L1519.5,524.8 L1520.6,523.1 L1521.8,521.3 L1522.9,519.6 L1524.1,517.8 L1525.2,516.1 L1526.4,514.4 L1527.6,512.6 L1528.7,510.9 L1529.9,509.2 L1531.0,507.4 L1532.2,505.7 L1533.4,504.0 L1534.5,502.3 L1535.7,500.6 L1536.8,498.8 L1538.0,497.1 L1539.1,495.4 L1540.3,493.7 L1541.5,492.0 L1542.6,490.3 L1543.8,488.5 L1544.9,486.8 L1546.1,485.1 L1547.2,483.4 L1548.4,481.6 L1549.6,479.9 L1550.7,478.2 L1551.9,476.4 L1553.0,474.7 L1554.2,473.0 L1555.3,471.2 L1556.5,469.5 L1557.7,467.7 L1558.8,465.9 L1560.0,464.2 L1561.1,462.4 L1562.3,460.6 L1563.4,458.8 L1564.6,457.1 L1565.8,455.3 L1566.9,453.5 L1568.1,451.6 L1569.2,449.8"/>
</g>
<rect class="ax" x="90.6" y="60.0" width="1509.0" height="508.0"/>
<line class="ax" x1="845.1" y1="60.0" x2="845.1" y2="568.0"/>
<path class="ax" d="M119.5,568.0 v-11.3 M119.5,60.0 v11.3 M177.5,568.0 v-6.0 M177.5,60.0 v6.0 M235.5,568.0 v-11.3 M235.5,60.0 v11.3 M293.5,568.0 v-6.0 M293.5,60.0 v6.0 M351.5,568.0 v-11.3 M351.5,60.0 v11.3 M409.5,568.0 v-6.0 M409.5,60.0 v6.0 M467.5,568.0 v-11.3 M467.5,60.0 v11.3 M525.5,568.0 v-6.0 M525.5,60.0 v6.0 M583.5,568.0 v-11.3 M583.5,60.0 v11.3 M641.5,568.0 v-6.0 M641.5,60.0 v6.0 M699.5,568.0 v-11.3 M699.5,60.0 v11.3 M757.5,568.0 v-6.0 M757.5,60.0 v6.0 M815.5,568.0 v-11.3 M815.5,60.0 v11.3 M874.1,568.0 v-11.3 M874.1,60.0 v11.3 M932.1,568.0 v-6.0 M932.1,60.0 v6.0 M990.1,568.0 v-11.3 M990.1,60.0 v11.3 M1048.1,568.0 v-6.0 M1048.1,60.0 v6.0 M1106.1,568.0 v-11.3 M1106.1,60.0 v11.3 M1164.1,568.0 v-6.0 M1164.1,60.0 v6.0 M1222.1,568.0 v-11.3 M1222.1,60.0 v11.3 M1280.1,568.0 v-6.0 M1280.1,60.0 v6.0 M1338.1,568.0 v-11.3 M1338.1,60.0 v11.3 M1396.1,568.0 v-6.0 M1396.1,60.0 v6.0 M1454.1,568.0 v-11.3 M1454.1,60.0 v11.3 M1512.1,568.0 v-6.0 M1512.1,60.0 v6.0 M1570.1,568.0 v-11.3 M1570.1,60.0 v11.3 M90.6,568.0 h11.3 M1599.6,568.0 h-11.3 M90.6,517.2 h6.0 M1599.6,517.2 h-6.0 M90.6,466.4 h11.3 M1599.6,466.4 h-11.3 M90.6,415.6 h6.0 M1599.6,415.6 h-6.0 M90.6,364.8 h11.3 M1599.6,364.8 h-11.3 M90.6,314.0 h6.0 M1599.6,314.0 h-6.0 M90.6,263.2 h11.3 M1599.6,263.2 h-11.3 M90.6,212.4 h6.0 M1599.6,212.4 h-6.0 M90.6,161.6 h11.3 M1599.6,161.6 h-11.3 M90.6,110.8 h6.0 M1599.6,110.8 h-6.0 M90.6,60.0 h11.3 M1599.6,60.0 h-11.3"/>
<text class="tk" transform="translate(77.0,578.0) scale(1,1.05)" text-anchor="end">0.0</text>
<text class="tk" transform="translate(77.0,476.4) scale(1,1.05)" text-anchor="end">0.2</text>
<text class="tk" transform="translate(77.0,374.8) scale(1,1.05)" text-anchor="end">0.4</text>
<text class="tk" transform="translate(77.0,273.2) scale(1,1.05)" text-anchor="end">0.6</text>
<text class="tk" transform="translate(77.0,171.6) scale(1,1.05)" text-anchor="end">0.8</text>
<text class="tk" transform="translate(77.0,70.0) scale(1,1.05)" text-anchor="end">1.0</text>
<text class="tk" transform="translate(119.5,606.0) scale(1,1.05)" text-anchor="middle">2</text>
<text class="tk" transform="translate(235.5,606.0) scale(1,1.05)" text-anchor="middle">4</text>
<text class="tk" transform="translate(351.5,606.0) scale(1,1.05)" text-anchor="middle">6</text>
<text class="tk" transform="translate(467.5,606.0) scale(1,1.05)" text-anchor="middle">8</text>
<text class="tk" transform="translate(583.5,606.0) scale(1,1.05)" text-anchor="middle">10</text>
<text class="tk" transform="translate(699.5,606.0) scale(1,1.05)" text-anchor="middle">12</text>
<text class="tk" transform="translate(815.5,606.0) scale(1,1.05)" text-anchor="middle">14</text>
<text class="tk" transform="translate(874.1,606.0) scale(1,1.05)" text-anchor="middle">2</text>
<text class="tk" transform="translate(990.1,606.0) scale(1,1.05)" text-anchor="middle">4</text>
<text class="tk" transform="translate(1106.1,606.0) scale(1,1.05)" text-anchor="middle">6</text>
<text class="tk" transform="translate(1222.1,606.0) scale(1,1.05)" text-anchor="middle">8</text>
<text class="tk" transform="translate(1338.1,606.0) scale(1,1.05)" text-anchor="middle">10</text>
<text class="tk" transform="translate(1454.1,606.0) scale(1,1.05)" text-anchor="middle">12</text>
<text class="tk" transform="translate(1570.1,606.0) scale(1,1.05)" text-anchor="middle">14</text>
<text class="tk" transform="translate(848.5,638.3) scale(1,1.05)" text-anchor="middle">Freq(GHz)</text>
<text class="tk" transform="translate(24.3,262.3) rotate(-90) scale(1,1.05)" text-anchor="middle">S21(Linear)(70%)</text>
<text class="pl" transform="translate(104.5,115.2) scale(1,1.05)">(a)</text>
<text class="pl" transform="translate(859.0,115.2) scale(1,1.05)">(b)</text>
<line x1="111.1" y1="27.6" x2="181.5" y2="27.6" stroke="#515151" stroke-width="2.7" stroke-linecap="round"/>
<text class="lg" transform="translate(189.8,40.6) scale(1.018,1.0)">predict1</text>
<line x1="328.8" y1="27.6" x2="399.2" y2="27.6" stroke="#F14040" stroke-width="2.7" stroke-linecap="round"/>
<text class="lg" transform="translate(407.5,40.6) scale(1.018,1.0)">predict2</text>
<line x1="546.5" y1="27.6" x2="616.9" y2="27.6" stroke="#1A6FDF" stroke-width="2.7" stroke-linecap="round"/>
<text class="lg" transform="translate(625.2,40.6) scale(1.018,1.0)">predict3</text>
<line x1="764.2" y1="27.6" x2="834.6" y2="27.6" stroke="#37AD6B" stroke-width="2.7" stroke-linecap="round"/>
<text class="lg" transform="translate(842.9,40.6) scale(1.018,1.0)">predict4</text>
<line x1="981.9" y1="27.6" x2="1052.3" y2="27.6" stroke="#B177DE" stroke-width="2.7" stroke-linecap="round"/>
<text class="lg" transform="translate(1060.6,40.6) scale(1.018,1.0)">predict5</text>
<line x1="1199.6" y1="27.6" x2="1270.0" y2="27.6" stroke="#CC9900" stroke-width="2.7" stroke-linecap="round"/>
<text class="lg" transform="translate(1278.3,40.6) scale(1.018,1.0)">predict6</text>
<line x1="1417.3" y1="27.6" x2="1487.7" y2="27.6" stroke="#00CBCC" stroke-width="2.7" stroke-linecap="round"/>
<text class="lg" transform="translate(1487.6,40.6) scale(1.018,1.0)">real</text>
</svg></body></html>
